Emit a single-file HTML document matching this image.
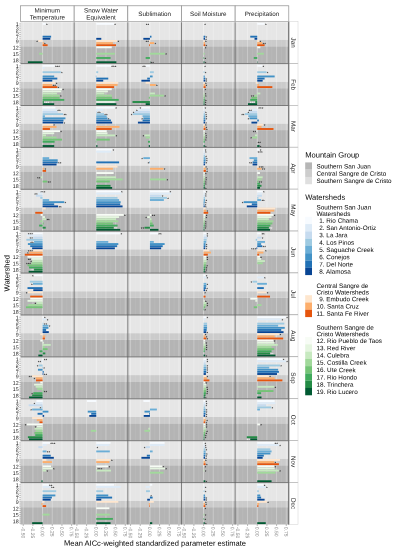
<!DOCTYPE html>
<html><head><meta charset="utf-8"><title>Figure</title>
<style>html,body{margin:0;padding:0;background:#fff}svg{display:block}</style></head>
<body>
<svg width="395" height="550" viewBox="0 0 395 550" font-family="Liberation Sans, sans-serif" text-rendering="geometricPrecision">
<rect width="395" height="550" fill="#fff"/>
<rect x="20.50" y="21.70" width="53.66" height="18.20" fill="#e6e6e6"/>
<rect x="20.50" y="39.90" width="53.66" height="6.39" fill="#cbcbcb"/>
<rect x="20.50" y="46.29" width="53.66" height="17.31" fill="#b4b4b4"/>
<line x1="28.09" x2="28.09" y1="21.70" y2="63.60" stroke="#fff" stroke-opacity="0.14" stroke-width="0.5"/>
<line x1="37.76" x2="37.76" y1="21.70" y2="63.60" stroke="#fff" stroke-opacity="0.14" stroke-width="0.5"/>
<line x1="47.44" x2="47.44" y1="21.70" y2="63.60" stroke="#fff" stroke-opacity="0.14" stroke-width="0.5"/>
<line x1="57.11" x2="57.11" y1="21.70" y2="63.60" stroke="#fff" stroke-opacity="0.14" stroke-width="0.5"/>
<line x1="66.79" x2="66.79" y1="21.70" y2="63.60" stroke="#fff" stroke-opacity="0.14" stroke-width="0.5"/>
<line x1="23.25" x2="23.25" y1="21.70" y2="63.60" stroke="#fff" stroke-opacity="0.42" stroke-width="0.7"/>
<line x1="32.92" x2="32.92" y1="21.70" y2="63.60" stroke="#fff" stroke-opacity="0.42" stroke-width="0.7"/>
<line x1="42.60" x2="42.60" y1="21.70" y2="63.60" stroke="#fff" stroke-opacity="0.6" stroke-width="0.7"/>
<line x1="52.28" x2="52.28" y1="21.70" y2="63.60" stroke="#fff" stroke-opacity="0.42" stroke-width="0.7"/>
<line x1="61.95" x2="61.95" y1="21.70" y2="63.60" stroke="#fff" stroke-opacity="0.42" stroke-width="0.7"/>
<line x1="71.62" x2="71.62" y1="21.70" y2="63.60" stroke="#fff" stroke-opacity="0.42" stroke-width="0.7"/>
<rect x="74.16" y="21.70" width="53.66" height="18.20" fill="#e6e6e6"/>
<rect x="74.16" y="39.90" width="53.66" height="6.39" fill="#cbcbcb"/>
<rect x="74.16" y="46.29" width="53.66" height="17.31" fill="#b4b4b4"/>
<line x1="81.75" x2="81.75" y1="21.70" y2="63.60" stroke="#fff" stroke-opacity="0.14" stroke-width="0.5"/>
<line x1="91.42" x2="91.42" y1="21.70" y2="63.60" stroke="#fff" stroke-opacity="0.14" stroke-width="0.5"/>
<line x1="101.10" x2="101.10" y1="21.70" y2="63.60" stroke="#fff" stroke-opacity="0.14" stroke-width="0.5"/>
<line x1="110.77" x2="110.77" y1="21.70" y2="63.60" stroke="#fff" stroke-opacity="0.14" stroke-width="0.5"/>
<line x1="120.45" x2="120.45" y1="21.70" y2="63.60" stroke="#fff" stroke-opacity="0.14" stroke-width="0.5"/>
<line x1="76.91" x2="76.91" y1="21.70" y2="63.60" stroke="#fff" stroke-opacity="0.42" stroke-width="0.7"/>
<line x1="86.58" x2="86.58" y1="21.70" y2="63.60" stroke="#fff" stroke-opacity="0.42" stroke-width="0.7"/>
<line x1="96.26" x2="96.26" y1="21.70" y2="63.60" stroke="#fff" stroke-opacity="0.6" stroke-width="0.7"/>
<line x1="105.93" x2="105.93" y1="21.70" y2="63.60" stroke="#fff" stroke-opacity="0.42" stroke-width="0.7"/>
<line x1="115.61" x2="115.61" y1="21.70" y2="63.60" stroke="#fff" stroke-opacity="0.42" stroke-width="0.7"/>
<line x1="125.28" x2="125.28" y1="21.70" y2="63.60" stroke="#fff" stroke-opacity="0.42" stroke-width="0.7"/>
<rect x="127.82" y="21.70" width="53.66" height="18.20" fill="#e6e6e6"/>
<rect x="127.82" y="39.90" width="53.66" height="6.39" fill="#cbcbcb"/>
<rect x="127.82" y="46.29" width="53.66" height="17.31" fill="#b4b4b4"/>
<line x1="135.41" x2="135.41" y1="21.70" y2="63.60" stroke="#fff" stroke-opacity="0.14" stroke-width="0.5"/>
<line x1="145.08" x2="145.08" y1="21.70" y2="63.60" stroke="#fff" stroke-opacity="0.14" stroke-width="0.5"/>
<line x1="154.76" x2="154.76" y1="21.70" y2="63.60" stroke="#fff" stroke-opacity="0.14" stroke-width="0.5"/>
<line x1="164.43" x2="164.43" y1="21.70" y2="63.60" stroke="#fff" stroke-opacity="0.14" stroke-width="0.5"/>
<line x1="174.11" x2="174.11" y1="21.70" y2="63.60" stroke="#fff" stroke-opacity="0.14" stroke-width="0.5"/>
<line x1="130.57" x2="130.57" y1="21.70" y2="63.60" stroke="#fff" stroke-opacity="0.42" stroke-width="0.7"/>
<line x1="140.24" x2="140.24" y1="21.70" y2="63.60" stroke="#fff" stroke-opacity="0.42" stroke-width="0.7"/>
<line x1="149.92" x2="149.92" y1="21.70" y2="63.60" stroke="#fff" stroke-opacity="0.6" stroke-width="0.7"/>
<line x1="159.59" x2="159.59" y1="21.70" y2="63.60" stroke="#fff" stroke-opacity="0.42" stroke-width="0.7"/>
<line x1="169.27" x2="169.27" y1="21.70" y2="63.60" stroke="#fff" stroke-opacity="0.42" stroke-width="0.7"/>
<line x1="178.94" x2="178.94" y1="21.70" y2="63.60" stroke="#fff" stroke-opacity="0.42" stroke-width="0.7"/>
<rect x="181.48" y="21.70" width="53.66" height="18.20" fill="#e6e6e6"/>
<rect x="181.48" y="39.90" width="53.66" height="6.39" fill="#cbcbcb"/>
<rect x="181.48" y="46.29" width="53.66" height="17.31" fill="#b4b4b4"/>
<line x1="189.07" x2="189.07" y1="21.70" y2="63.60" stroke="#fff" stroke-opacity="0.14" stroke-width="0.5"/>
<line x1="198.74" x2="198.74" y1="21.70" y2="63.60" stroke="#fff" stroke-opacity="0.14" stroke-width="0.5"/>
<line x1="208.42" x2="208.42" y1="21.70" y2="63.60" stroke="#fff" stroke-opacity="0.14" stroke-width="0.5"/>
<line x1="218.09" x2="218.09" y1="21.70" y2="63.60" stroke="#fff" stroke-opacity="0.14" stroke-width="0.5"/>
<line x1="227.77" x2="227.77" y1="21.70" y2="63.60" stroke="#fff" stroke-opacity="0.14" stroke-width="0.5"/>
<line x1="184.23" x2="184.23" y1="21.70" y2="63.60" stroke="#fff" stroke-opacity="0.42" stroke-width="0.7"/>
<line x1="193.90" x2="193.90" y1="21.70" y2="63.60" stroke="#fff" stroke-opacity="0.42" stroke-width="0.7"/>
<line x1="203.58" x2="203.58" y1="21.70" y2="63.60" stroke="#fff" stroke-opacity="0.6" stroke-width="0.7"/>
<line x1="213.25" x2="213.25" y1="21.70" y2="63.60" stroke="#fff" stroke-opacity="0.42" stroke-width="0.7"/>
<line x1="222.93" x2="222.93" y1="21.70" y2="63.60" stroke="#fff" stroke-opacity="0.42" stroke-width="0.7"/>
<line x1="232.60" x2="232.60" y1="21.70" y2="63.60" stroke="#fff" stroke-opacity="0.42" stroke-width="0.7"/>
<rect x="235.14" y="21.70" width="53.66" height="18.20" fill="#e6e6e6"/>
<rect x="235.14" y="39.90" width="53.66" height="6.39" fill="#cbcbcb"/>
<rect x="235.14" y="46.29" width="53.66" height="17.31" fill="#b4b4b4"/>
<line x1="242.73" x2="242.73" y1="21.70" y2="63.60" stroke="#fff" stroke-opacity="0.14" stroke-width="0.5"/>
<line x1="252.40" x2="252.40" y1="21.70" y2="63.60" stroke="#fff" stroke-opacity="0.14" stroke-width="0.5"/>
<line x1="262.08" x2="262.08" y1="21.70" y2="63.60" stroke="#fff" stroke-opacity="0.14" stroke-width="0.5"/>
<line x1="271.75" x2="271.75" y1="21.70" y2="63.60" stroke="#fff" stroke-opacity="0.14" stroke-width="0.5"/>
<line x1="281.43" x2="281.43" y1="21.70" y2="63.60" stroke="#fff" stroke-opacity="0.14" stroke-width="0.5"/>
<line x1="237.89" x2="237.89" y1="21.70" y2="63.60" stroke="#fff" stroke-opacity="0.42" stroke-width="0.7"/>
<line x1="247.56" x2="247.56" y1="21.70" y2="63.60" stroke="#fff" stroke-opacity="0.42" stroke-width="0.7"/>
<line x1="257.24" x2="257.24" y1="21.70" y2="63.60" stroke="#fff" stroke-opacity="0.6" stroke-width="0.7"/>
<line x1="266.92" x2="266.92" y1="21.70" y2="63.60" stroke="#fff" stroke-opacity="0.42" stroke-width="0.7"/>
<line x1="276.59" x2="276.59" y1="21.70" y2="63.60" stroke="#fff" stroke-opacity="0.42" stroke-width="0.7"/>
<line x1="286.26" x2="286.26" y1="21.70" y2="63.60" stroke="#fff" stroke-opacity="0.42" stroke-width="0.7"/>
<rect x="20.50" y="63.60" width="53.66" height="18.20" fill="#e6e6e6"/>
<rect x="20.50" y="81.80" width="53.66" height="6.39" fill="#cbcbcb"/>
<rect x="20.50" y="88.19" width="53.66" height="17.31" fill="#b4b4b4"/>
<line x1="28.09" x2="28.09" y1="63.60" y2="105.50" stroke="#fff" stroke-opacity="0.14" stroke-width="0.5"/>
<line x1="37.76" x2="37.76" y1="63.60" y2="105.50" stroke="#fff" stroke-opacity="0.14" stroke-width="0.5"/>
<line x1="47.44" x2="47.44" y1="63.60" y2="105.50" stroke="#fff" stroke-opacity="0.14" stroke-width="0.5"/>
<line x1="57.11" x2="57.11" y1="63.60" y2="105.50" stroke="#fff" stroke-opacity="0.14" stroke-width="0.5"/>
<line x1="66.79" x2="66.79" y1="63.60" y2="105.50" stroke="#fff" stroke-opacity="0.14" stroke-width="0.5"/>
<line x1="23.25" x2="23.25" y1="63.60" y2="105.50" stroke="#fff" stroke-opacity="0.42" stroke-width="0.7"/>
<line x1="32.92" x2="32.92" y1="63.60" y2="105.50" stroke="#fff" stroke-opacity="0.42" stroke-width="0.7"/>
<line x1="42.60" x2="42.60" y1="63.60" y2="105.50" stroke="#fff" stroke-opacity="0.6" stroke-width="0.7"/>
<line x1="52.28" x2="52.28" y1="63.60" y2="105.50" stroke="#fff" stroke-opacity="0.42" stroke-width="0.7"/>
<line x1="61.95" x2="61.95" y1="63.60" y2="105.50" stroke="#fff" stroke-opacity="0.42" stroke-width="0.7"/>
<line x1="71.62" x2="71.62" y1="63.60" y2="105.50" stroke="#fff" stroke-opacity="0.42" stroke-width="0.7"/>
<rect x="74.16" y="63.60" width="53.66" height="18.20" fill="#e6e6e6"/>
<rect x="74.16" y="81.80" width="53.66" height="6.39" fill="#cbcbcb"/>
<rect x="74.16" y="88.19" width="53.66" height="17.31" fill="#b4b4b4"/>
<line x1="81.75" x2="81.75" y1="63.60" y2="105.50" stroke="#fff" stroke-opacity="0.14" stroke-width="0.5"/>
<line x1="91.42" x2="91.42" y1="63.60" y2="105.50" stroke="#fff" stroke-opacity="0.14" stroke-width="0.5"/>
<line x1="101.10" x2="101.10" y1="63.60" y2="105.50" stroke="#fff" stroke-opacity="0.14" stroke-width="0.5"/>
<line x1="110.77" x2="110.77" y1="63.60" y2="105.50" stroke="#fff" stroke-opacity="0.14" stroke-width="0.5"/>
<line x1="120.45" x2="120.45" y1="63.60" y2="105.50" stroke="#fff" stroke-opacity="0.14" stroke-width="0.5"/>
<line x1="76.91" x2="76.91" y1="63.60" y2="105.50" stroke="#fff" stroke-opacity="0.42" stroke-width="0.7"/>
<line x1="86.58" x2="86.58" y1="63.60" y2="105.50" stroke="#fff" stroke-opacity="0.42" stroke-width="0.7"/>
<line x1="96.26" x2="96.26" y1="63.60" y2="105.50" stroke="#fff" stroke-opacity="0.6" stroke-width="0.7"/>
<line x1="105.93" x2="105.93" y1="63.60" y2="105.50" stroke="#fff" stroke-opacity="0.42" stroke-width="0.7"/>
<line x1="115.61" x2="115.61" y1="63.60" y2="105.50" stroke="#fff" stroke-opacity="0.42" stroke-width="0.7"/>
<line x1="125.28" x2="125.28" y1="63.60" y2="105.50" stroke="#fff" stroke-opacity="0.42" stroke-width="0.7"/>
<rect x="127.82" y="63.60" width="53.66" height="18.20" fill="#e6e6e6"/>
<rect x="127.82" y="81.80" width="53.66" height="6.39" fill="#cbcbcb"/>
<rect x="127.82" y="88.19" width="53.66" height="17.31" fill="#b4b4b4"/>
<line x1="135.41" x2="135.41" y1="63.60" y2="105.50" stroke="#fff" stroke-opacity="0.14" stroke-width="0.5"/>
<line x1="145.08" x2="145.08" y1="63.60" y2="105.50" stroke="#fff" stroke-opacity="0.14" stroke-width="0.5"/>
<line x1="154.76" x2="154.76" y1="63.60" y2="105.50" stroke="#fff" stroke-opacity="0.14" stroke-width="0.5"/>
<line x1="164.43" x2="164.43" y1="63.60" y2="105.50" stroke="#fff" stroke-opacity="0.14" stroke-width="0.5"/>
<line x1="174.11" x2="174.11" y1="63.60" y2="105.50" stroke="#fff" stroke-opacity="0.14" stroke-width="0.5"/>
<line x1="130.57" x2="130.57" y1="63.60" y2="105.50" stroke="#fff" stroke-opacity="0.42" stroke-width="0.7"/>
<line x1="140.24" x2="140.24" y1="63.60" y2="105.50" stroke="#fff" stroke-opacity="0.42" stroke-width="0.7"/>
<line x1="149.92" x2="149.92" y1="63.60" y2="105.50" stroke="#fff" stroke-opacity="0.6" stroke-width="0.7"/>
<line x1="159.59" x2="159.59" y1="63.60" y2="105.50" stroke="#fff" stroke-opacity="0.42" stroke-width="0.7"/>
<line x1="169.27" x2="169.27" y1="63.60" y2="105.50" stroke="#fff" stroke-opacity="0.42" stroke-width="0.7"/>
<line x1="178.94" x2="178.94" y1="63.60" y2="105.50" stroke="#fff" stroke-opacity="0.42" stroke-width="0.7"/>
<rect x="181.48" y="63.60" width="53.66" height="18.20" fill="#e6e6e6"/>
<rect x="181.48" y="81.80" width="53.66" height="6.39" fill="#cbcbcb"/>
<rect x="181.48" y="88.19" width="53.66" height="17.31" fill="#b4b4b4"/>
<line x1="189.07" x2="189.07" y1="63.60" y2="105.50" stroke="#fff" stroke-opacity="0.14" stroke-width="0.5"/>
<line x1="198.74" x2="198.74" y1="63.60" y2="105.50" stroke="#fff" stroke-opacity="0.14" stroke-width="0.5"/>
<line x1="208.42" x2="208.42" y1="63.60" y2="105.50" stroke="#fff" stroke-opacity="0.14" stroke-width="0.5"/>
<line x1="218.09" x2="218.09" y1="63.60" y2="105.50" stroke="#fff" stroke-opacity="0.14" stroke-width="0.5"/>
<line x1="227.77" x2="227.77" y1="63.60" y2="105.50" stroke="#fff" stroke-opacity="0.14" stroke-width="0.5"/>
<line x1="184.23" x2="184.23" y1="63.60" y2="105.50" stroke="#fff" stroke-opacity="0.42" stroke-width="0.7"/>
<line x1="193.90" x2="193.90" y1="63.60" y2="105.50" stroke="#fff" stroke-opacity="0.42" stroke-width="0.7"/>
<line x1="203.58" x2="203.58" y1="63.60" y2="105.50" stroke="#fff" stroke-opacity="0.6" stroke-width="0.7"/>
<line x1="213.25" x2="213.25" y1="63.60" y2="105.50" stroke="#fff" stroke-opacity="0.42" stroke-width="0.7"/>
<line x1="222.93" x2="222.93" y1="63.60" y2="105.50" stroke="#fff" stroke-opacity="0.42" stroke-width="0.7"/>
<line x1="232.60" x2="232.60" y1="63.60" y2="105.50" stroke="#fff" stroke-opacity="0.42" stroke-width="0.7"/>
<rect x="235.14" y="63.60" width="53.66" height="18.20" fill="#e6e6e6"/>
<rect x="235.14" y="81.80" width="53.66" height="6.39" fill="#cbcbcb"/>
<rect x="235.14" y="88.19" width="53.66" height="17.31" fill="#b4b4b4"/>
<line x1="242.73" x2="242.73" y1="63.60" y2="105.50" stroke="#fff" stroke-opacity="0.14" stroke-width="0.5"/>
<line x1="252.40" x2="252.40" y1="63.60" y2="105.50" stroke="#fff" stroke-opacity="0.14" stroke-width="0.5"/>
<line x1="262.08" x2="262.08" y1="63.60" y2="105.50" stroke="#fff" stroke-opacity="0.14" stroke-width="0.5"/>
<line x1="271.75" x2="271.75" y1="63.60" y2="105.50" stroke="#fff" stroke-opacity="0.14" stroke-width="0.5"/>
<line x1="281.43" x2="281.43" y1="63.60" y2="105.50" stroke="#fff" stroke-opacity="0.14" stroke-width="0.5"/>
<line x1="237.89" x2="237.89" y1="63.60" y2="105.50" stroke="#fff" stroke-opacity="0.42" stroke-width="0.7"/>
<line x1="247.56" x2="247.56" y1="63.60" y2="105.50" stroke="#fff" stroke-opacity="0.42" stroke-width="0.7"/>
<line x1="257.24" x2="257.24" y1="63.60" y2="105.50" stroke="#fff" stroke-opacity="0.6" stroke-width="0.7"/>
<line x1="266.92" x2="266.92" y1="63.60" y2="105.50" stroke="#fff" stroke-opacity="0.42" stroke-width="0.7"/>
<line x1="276.59" x2="276.59" y1="63.60" y2="105.50" stroke="#fff" stroke-opacity="0.42" stroke-width="0.7"/>
<line x1="286.26" x2="286.26" y1="63.60" y2="105.50" stroke="#fff" stroke-opacity="0.42" stroke-width="0.7"/>
<rect x="20.50" y="105.50" width="53.66" height="18.20" fill="#e6e6e6"/>
<rect x="20.50" y="123.70" width="53.66" height="6.39" fill="#cbcbcb"/>
<rect x="20.50" y="130.09" width="53.66" height="17.31" fill="#b4b4b4"/>
<line x1="28.09" x2="28.09" y1="105.50" y2="147.40" stroke="#fff" stroke-opacity="0.14" stroke-width="0.5"/>
<line x1="37.76" x2="37.76" y1="105.50" y2="147.40" stroke="#fff" stroke-opacity="0.14" stroke-width="0.5"/>
<line x1="47.44" x2="47.44" y1="105.50" y2="147.40" stroke="#fff" stroke-opacity="0.14" stroke-width="0.5"/>
<line x1="57.11" x2="57.11" y1="105.50" y2="147.40" stroke="#fff" stroke-opacity="0.14" stroke-width="0.5"/>
<line x1="66.79" x2="66.79" y1="105.50" y2="147.40" stroke="#fff" stroke-opacity="0.14" stroke-width="0.5"/>
<line x1="23.25" x2="23.25" y1="105.50" y2="147.40" stroke="#fff" stroke-opacity="0.42" stroke-width="0.7"/>
<line x1="32.92" x2="32.92" y1="105.50" y2="147.40" stroke="#fff" stroke-opacity="0.42" stroke-width="0.7"/>
<line x1="42.60" x2="42.60" y1="105.50" y2="147.40" stroke="#fff" stroke-opacity="0.6" stroke-width="0.7"/>
<line x1="52.28" x2="52.28" y1="105.50" y2="147.40" stroke="#fff" stroke-opacity="0.42" stroke-width="0.7"/>
<line x1="61.95" x2="61.95" y1="105.50" y2="147.40" stroke="#fff" stroke-opacity="0.42" stroke-width="0.7"/>
<line x1="71.62" x2="71.62" y1="105.50" y2="147.40" stroke="#fff" stroke-opacity="0.42" stroke-width="0.7"/>
<rect x="74.16" y="105.50" width="53.66" height="18.20" fill="#e6e6e6"/>
<rect x="74.16" y="123.70" width="53.66" height="6.39" fill="#cbcbcb"/>
<rect x="74.16" y="130.09" width="53.66" height="17.31" fill="#b4b4b4"/>
<line x1="81.75" x2="81.75" y1="105.50" y2="147.40" stroke="#fff" stroke-opacity="0.14" stroke-width="0.5"/>
<line x1="91.42" x2="91.42" y1="105.50" y2="147.40" stroke="#fff" stroke-opacity="0.14" stroke-width="0.5"/>
<line x1="101.10" x2="101.10" y1="105.50" y2="147.40" stroke="#fff" stroke-opacity="0.14" stroke-width="0.5"/>
<line x1="110.77" x2="110.77" y1="105.50" y2="147.40" stroke="#fff" stroke-opacity="0.14" stroke-width="0.5"/>
<line x1="120.45" x2="120.45" y1="105.50" y2="147.40" stroke="#fff" stroke-opacity="0.14" stroke-width="0.5"/>
<line x1="76.91" x2="76.91" y1="105.50" y2="147.40" stroke="#fff" stroke-opacity="0.42" stroke-width="0.7"/>
<line x1="86.58" x2="86.58" y1="105.50" y2="147.40" stroke="#fff" stroke-opacity="0.42" stroke-width="0.7"/>
<line x1="96.26" x2="96.26" y1="105.50" y2="147.40" stroke="#fff" stroke-opacity="0.6" stroke-width="0.7"/>
<line x1="105.93" x2="105.93" y1="105.50" y2="147.40" stroke="#fff" stroke-opacity="0.42" stroke-width="0.7"/>
<line x1="115.61" x2="115.61" y1="105.50" y2="147.40" stroke="#fff" stroke-opacity="0.42" stroke-width="0.7"/>
<line x1="125.28" x2="125.28" y1="105.50" y2="147.40" stroke="#fff" stroke-opacity="0.42" stroke-width="0.7"/>
<rect x="127.82" y="105.50" width="53.66" height="18.20" fill="#e6e6e6"/>
<rect x="127.82" y="123.70" width="53.66" height="6.39" fill="#cbcbcb"/>
<rect x="127.82" y="130.09" width="53.66" height="17.31" fill="#b4b4b4"/>
<line x1="135.41" x2="135.41" y1="105.50" y2="147.40" stroke="#fff" stroke-opacity="0.14" stroke-width="0.5"/>
<line x1="145.08" x2="145.08" y1="105.50" y2="147.40" stroke="#fff" stroke-opacity="0.14" stroke-width="0.5"/>
<line x1="154.76" x2="154.76" y1="105.50" y2="147.40" stroke="#fff" stroke-opacity="0.14" stroke-width="0.5"/>
<line x1="164.43" x2="164.43" y1="105.50" y2="147.40" stroke="#fff" stroke-opacity="0.14" stroke-width="0.5"/>
<line x1="174.11" x2="174.11" y1="105.50" y2="147.40" stroke="#fff" stroke-opacity="0.14" stroke-width="0.5"/>
<line x1="130.57" x2="130.57" y1="105.50" y2="147.40" stroke="#fff" stroke-opacity="0.42" stroke-width="0.7"/>
<line x1="140.24" x2="140.24" y1="105.50" y2="147.40" stroke="#fff" stroke-opacity="0.42" stroke-width="0.7"/>
<line x1="149.92" x2="149.92" y1="105.50" y2="147.40" stroke="#fff" stroke-opacity="0.6" stroke-width="0.7"/>
<line x1="159.59" x2="159.59" y1="105.50" y2="147.40" stroke="#fff" stroke-opacity="0.42" stroke-width="0.7"/>
<line x1="169.27" x2="169.27" y1="105.50" y2="147.40" stroke="#fff" stroke-opacity="0.42" stroke-width="0.7"/>
<line x1="178.94" x2="178.94" y1="105.50" y2="147.40" stroke="#fff" stroke-opacity="0.42" stroke-width="0.7"/>
<rect x="181.48" y="105.50" width="53.66" height="18.20" fill="#e6e6e6"/>
<rect x="181.48" y="123.70" width="53.66" height="6.39" fill="#cbcbcb"/>
<rect x="181.48" y="130.09" width="53.66" height="17.31" fill="#b4b4b4"/>
<line x1="189.07" x2="189.07" y1="105.50" y2="147.40" stroke="#fff" stroke-opacity="0.14" stroke-width="0.5"/>
<line x1="198.74" x2="198.74" y1="105.50" y2="147.40" stroke="#fff" stroke-opacity="0.14" stroke-width="0.5"/>
<line x1="208.42" x2="208.42" y1="105.50" y2="147.40" stroke="#fff" stroke-opacity="0.14" stroke-width="0.5"/>
<line x1="218.09" x2="218.09" y1="105.50" y2="147.40" stroke="#fff" stroke-opacity="0.14" stroke-width="0.5"/>
<line x1="227.77" x2="227.77" y1="105.50" y2="147.40" stroke="#fff" stroke-opacity="0.14" stroke-width="0.5"/>
<line x1="184.23" x2="184.23" y1="105.50" y2="147.40" stroke="#fff" stroke-opacity="0.42" stroke-width="0.7"/>
<line x1="193.90" x2="193.90" y1="105.50" y2="147.40" stroke="#fff" stroke-opacity="0.42" stroke-width="0.7"/>
<line x1="203.58" x2="203.58" y1="105.50" y2="147.40" stroke="#fff" stroke-opacity="0.6" stroke-width="0.7"/>
<line x1="213.25" x2="213.25" y1="105.50" y2="147.40" stroke="#fff" stroke-opacity="0.42" stroke-width="0.7"/>
<line x1="222.93" x2="222.93" y1="105.50" y2="147.40" stroke="#fff" stroke-opacity="0.42" stroke-width="0.7"/>
<line x1="232.60" x2="232.60" y1="105.50" y2="147.40" stroke="#fff" stroke-opacity="0.42" stroke-width="0.7"/>
<rect x="235.14" y="105.50" width="53.66" height="18.20" fill="#e6e6e6"/>
<rect x="235.14" y="123.70" width="53.66" height="6.39" fill="#cbcbcb"/>
<rect x="235.14" y="130.09" width="53.66" height="17.31" fill="#b4b4b4"/>
<line x1="242.73" x2="242.73" y1="105.50" y2="147.40" stroke="#fff" stroke-opacity="0.14" stroke-width="0.5"/>
<line x1="252.40" x2="252.40" y1="105.50" y2="147.40" stroke="#fff" stroke-opacity="0.14" stroke-width="0.5"/>
<line x1="262.08" x2="262.08" y1="105.50" y2="147.40" stroke="#fff" stroke-opacity="0.14" stroke-width="0.5"/>
<line x1="271.75" x2="271.75" y1="105.50" y2="147.40" stroke="#fff" stroke-opacity="0.14" stroke-width="0.5"/>
<line x1="281.43" x2="281.43" y1="105.50" y2="147.40" stroke="#fff" stroke-opacity="0.14" stroke-width="0.5"/>
<line x1="237.89" x2="237.89" y1="105.50" y2="147.40" stroke="#fff" stroke-opacity="0.42" stroke-width="0.7"/>
<line x1="247.56" x2="247.56" y1="105.50" y2="147.40" stroke="#fff" stroke-opacity="0.42" stroke-width="0.7"/>
<line x1="257.24" x2="257.24" y1="105.50" y2="147.40" stroke="#fff" stroke-opacity="0.6" stroke-width="0.7"/>
<line x1="266.92" x2="266.92" y1="105.50" y2="147.40" stroke="#fff" stroke-opacity="0.42" stroke-width="0.7"/>
<line x1="276.59" x2="276.59" y1="105.50" y2="147.40" stroke="#fff" stroke-opacity="0.42" stroke-width="0.7"/>
<line x1="286.26" x2="286.26" y1="105.50" y2="147.40" stroke="#fff" stroke-opacity="0.42" stroke-width="0.7"/>
<rect x="20.50" y="147.40" width="53.66" height="18.20" fill="#e6e6e6"/>
<rect x="20.50" y="165.60" width="53.66" height="6.39" fill="#cbcbcb"/>
<rect x="20.50" y="171.99" width="53.66" height="17.31" fill="#b4b4b4"/>
<line x1="28.09" x2="28.09" y1="147.40" y2="189.30" stroke="#fff" stroke-opacity="0.14" stroke-width="0.5"/>
<line x1="37.76" x2="37.76" y1="147.40" y2="189.30" stroke="#fff" stroke-opacity="0.14" stroke-width="0.5"/>
<line x1="47.44" x2="47.44" y1="147.40" y2="189.30" stroke="#fff" stroke-opacity="0.14" stroke-width="0.5"/>
<line x1="57.11" x2="57.11" y1="147.40" y2="189.30" stroke="#fff" stroke-opacity="0.14" stroke-width="0.5"/>
<line x1="66.79" x2="66.79" y1="147.40" y2="189.30" stroke="#fff" stroke-opacity="0.14" stroke-width="0.5"/>
<line x1="23.25" x2="23.25" y1="147.40" y2="189.30" stroke="#fff" stroke-opacity="0.42" stroke-width="0.7"/>
<line x1="32.92" x2="32.92" y1="147.40" y2="189.30" stroke="#fff" stroke-opacity="0.42" stroke-width="0.7"/>
<line x1="42.60" x2="42.60" y1="147.40" y2="189.30" stroke="#fff" stroke-opacity="0.6" stroke-width="0.7"/>
<line x1="52.28" x2="52.28" y1="147.40" y2="189.30" stroke="#fff" stroke-opacity="0.42" stroke-width="0.7"/>
<line x1="61.95" x2="61.95" y1="147.40" y2="189.30" stroke="#fff" stroke-opacity="0.42" stroke-width="0.7"/>
<line x1="71.62" x2="71.62" y1="147.40" y2="189.30" stroke="#fff" stroke-opacity="0.42" stroke-width="0.7"/>
<rect x="74.16" y="147.40" width="53.66" height="18.20" fill="#e6e6e6"/>
<rect x="74.16" y="165.60" width="53.66" height="6.39" fill="#cbcbcb"/>
<rect x="74.16" y="171.99" width="53.66" height="17.31" fill="#b4b4b4"/>
<line x1="81.75" x2="81.75" y1="147.40" y2="189.30" stroke="#fff" stroke-opacity="0.14" stroke-width="0.5"/>
<line x1="91.42" x2="91.42" y1="147.40" y2="189.30" stroke="#fff" stroke-opacity="0.14" stroke-width="0.5"/>
<line x1="101.10" x2="101.10" y1="147.40" y2="189.30" stroke="#fff" stroke-opacity="0.14" stroke-width="0.5"/>
<line x1="110.77" x2="110.77" y1="147.40" y2="189.30" stroke="#fff" stroke-opacity="0.14" stroke-width="0.5"/>
<line x1="120.45" x2="120.45" y1="147.40" y2="189.30" stroke="#fff" stroke-opacity="0.14" stroke-width="0.5"/>
<line x1="76.91" x2="76.91" y1="147.40" y2="189.30" stroke="#fff" stroke-opacity="0.42" stroke-width="0.7"/>
<line x1="86.58" x2="86.58" y1="147.40" y2="189.30" stroke="#fff" stroke-opacity="0.42" stroke-width="0.7"/>
<line x1="96.26" x2="96.26" y1="147.40" y2="189.30" stroke="#fff" stroke-opacity="0.6" stroke-width="0.7"/>
<line x1="105.93" x2="105.93" y1="147.40" y2="189.30" stroke="#fff" stroke-opacity="0.42" stroke-width="0.7"/>
<line x1="115.61" x2="115.61" y1="147.40" y2="189.30" stroke="#fff" stroke-opacity="0.42" stroke-width="0.7"/>
<line x1="125.28" x2="125.28" y1="147.40" y2="189.30" stroke="#fff" stroke-opacity="0.42" stroke-width="0.7"/>
<rect x="127.82" y="147.40" width="53.66" height="18.20" fill="#e6e6e6"/>
<rect x="127.82" y="165.60" width="53.66" height="6.39" fill="#cbcbcb"/>
<rect x="127.82" y="171.99" width="53.66" height="17.31" fill="#b4b4b4"/>
<line x1="135.41" x2="135.41" y1="147.40" y2="189.30" stroke="#fff" stroke-opacity="0.14" stroke-width="0.5"/>
<line x1="145.08" x2="145.08" y1="147.40" y2="189.30" stroke="#fff" stroke-opacity="0.14" stroke-width="0.5"/>
<line x1="154.76" x2="154.76" y1="147.40" y2="189.30" stroke="#fff" stroke-opacity="0.14" stroke-width="0.5"/>
<line x1="164.43" x2="164.43" y1="147.40" y2="189.30" stroke="#fff" stroke-opacity="0.14" stroke-width="0.5"/>
<line x1="174.11" x2="174.11" y1="147.40" y2="189.30" stroke="#fff" stroke-opacity="0.14" stroke-width="0.5"/>
<line x1="130.57" x2="130.57" y1="147.40" y2="189.30" stroke="#fff" stroke-opacity="0.42" stroke-width="0.7"/>
<line x1="140.24" x2="140.24" y1="147.40" y2="189.30" stroke="#fff" stroke-opacity="0.42" stroke-width="0.7"/>
<line x1="149.92" x2="149.92" y1="147.40" y2="189.30" stroke="#fff" stroke-opacity="0.6" stroke-width="0.7"/>
<line x1="159.59" x2="159.59" y1="147.40" y2="189.30" stroke="#fff" stroke-opacity="0.42" stroke-width="0.7"/>
<line x1="169.27" x2="169.27" y1="147.40" y2="189.30" stroke="#fff" stroke-opacity="0.42" stroke-width="0.7"/>
<line x1="178.94" x2="178.94" y1="147.40" y2="189.30" stroke="#fff" stroke-opacity="0.42" stroke-width="0.7"/>
<rect x="181.48" y="147.40" width="53.66" height="18.20" fill="#e6e6e6"/>
<rect x="181.48" y="165.60" width="53.66" height="6.39" fill="#cbcbcb"/>
<rect x="181.48" y="171.99" width="53.66" height="17.31" fill="#b4b4b4"/>
<line x1="189.07" x2="189.07" y1="147.40" y2="189.30" stroke="#fff" stroke-opacity="0.14" stroke-width="0.5"/>
<line x1="198.74" x2="198.74" y1="147.40" y2="189.30" stroke="#fff" stroke-opacity="0.14" stroke-width="0.5"/>
<line x1="208.42" x2="208.42" y1="147.40" y2="189.30" stroke="#fff" stroke-opacity="0.14" stroke-width="0.5"/>
<line x1="218.09" x2="218.09" y1="147.40" y2="189.30" stroke="#fff" stroke-opacity="0.14" stroke-width="0.5"/>
<line x1="227.77" x2="227.77" y1="147.40" y2="189.30" stroke="#fff" stroke-opacity="0.14" stroke-width="0.5"/>
<line x1="184.23" x2="184.23" y1="147.40" y2="189.30" stroke="#fff" stroke-opacity="0.42" stroke-width="0.7"/>
<line x1="193.90" x2="193.90" y1="147.40" y2="189.30" stroke="#fff" stroke-opacity="0.42" stroke-width="0.7"/>
<line x1="203.58" x2="203.58" y1="147.40" y2="189.30" stroke="#fff" stroke-opacity="0.6" stroke-width="0.7"/>
<line x1="213.25" x2="213.25" y1="147.40" y2="189.30" stroke="#fff" stroke-opacity="0.42" stroke-width="0.7"/>
<line x1="222.93" x2="222.93" y1="147.40" y2="189.30" stroke="#fff" stroke-opacity="0.42" stroke-width="0.7"/>
<line x1="232.60" x2="232.60" y1="147.40" y2="189.30" stroke="#fff" stroke-opacity="0.42" stroke-width="0.7"/>
<rect x="235.14" y="147.40" width="53.66" height="18.20" fill="#e6e6e6"/>
<rect x="235.14" y="165.60" width="53.66" height="6.39" fill="#cbcbcb"/>
<rect x="235.14" y="171.99" width="53.66" height="17.31" fill="#b4b4b4"/>
<line x1="242.73" x2="242.73" y1="147.40" y2="189.30" stroke="#fff" stroke-opacity="0.14" stroke-width="0.5"/>
<line x1="252.40" x2="252.40" y1="147.40" y2="189.30" stroke="#fff" stroke-opacity="0.14" stroke-width="0.5"/>
<line x1="262.08" x2="262.08" y1="147.40" y2="189.30" stroke="#fff" stroke-opacity="0.14" stroke-width="0.5"/>
<line x1="271.75" x2="271.75" y1="147.40" y2="189.30" stroke="#fff" stroke-opacity="0.14" stroke-width="0.5"/>
<line x1="281.43" x2="281.43" y1="147.40" y2="189.30" stroke="#fff" stroke-opacity="0.14" stroke-width="0.5"/>
<line x1="237.89" x2="237.89" y1="147.40" y2="189.30" stroke="#fff" stroke-opacity="0.42" stroke-width="0.7"/>
<line x1="247.56" x2="247.56" y1="147.40" y2="189.30" stroke="#fff" stroke-opacity="0.42" stroke-width="0.7"/>
<line x1="257.24" x2="257.24" y1="147.40" y2="189.30" stroke="#fff" stroke-opacity="0.6" stroke-width="0.7"/>
<line x1="266.92" x2="266.92" y1="147.40" y2="189.30" stroke="#fff" stroke-opacity="0.42" stroke-width="0.7"/>
<line x1="276.59" x2="276.59" y1="147.40" y2="189.30" stroke="#fff" stroke-opacity="0.42" stroke-width="0.7"/>
<line x1="286.26" x2="286.26" y1="147.40" y2="189.30" stroke="#fff" stroke-opacity="0.42" stroke-width="0.7"/>
<rect x="20.50" y="189.30" width="53.66" height="18.20" fill="#e6e6e6"/>
<rect x="20.50" y="207.50" width="53.66" height="6.39" fill="#cbcbcb"/>
<rect x="20.50" y="213.89" width="53.66" height="17.31" fill="#b4b4b4"/>
<line x1="28.09" x2="28.09" y1="189.30" y2="231.20" stroke="#fff" stroke-opacity="0.14" stroke-width="0.5"/>
<line x1="37.76" x2="37.76" y1="189.30" y2="231.20" stroke="#fff" stroke-opacity="0.14" stroke-width="0.5"/>
<line x1="47.44" x2="47.44" y1="189.30" y2="231.20" stroke="#fff" stroke-opacity="0.14" stroke-width="0.5"/>
<line x1="57.11" x2="57.11" y1="189.30" y2="231.20" stroke="#fff" stroke-opacity="0.14" stroke-width="0.5"/>
<line x1="66.79" x2="66.79" y1="189.30" y2="231.20" stroke="#fff" stroke-opacity="0.14" stroke-width="0.5"/>
<line x1="23.25" x2="23.25" y1="189.30" y2="231.20" stroke="#fff" stroke-opacity="0.42" stroke-width="0.7"/>
<line x1="32.92" x2="32.92" y1="189.30" y2="231.20" stroke="#fff" stroke-opacity="0.42" stroke-width="0.7"/>
<line x1="42.60" x2="42.60" y1="189.30" y2="231.20" stroke="#fff" stroke-opacity="0.6" stroke-width="0.7"/>
<line x1="52.28" x2="52.28" y1="189.30" y2="231.20" stroke="#fff" stroke-opacity="0.42" stroke-width="0.7"/>
<line x1="61.95" x2="61.95" y1="189.30" y2="231.20" stroke="#fff" stroke-opacity="0.42" stroke-width="0.7"/>
<line x1="71.62" x2="71.62" y1="189.30" y2="231.20" stroke="#fff" stroke-opacity="0.42" stroke-width="0.7"/>
<rect x="74.16" y="189.30" width="53.66" height="18.20" fill="#e6e6e6"/>
<rect x="74.16" y="207.50" width="53.66" height="6.39" fill="#cbcbcb"/>
<rect x="74.16" y="213.89" width="53.66" height="17.31" fill="#b4b4b4"/>
<line x1="81.75" x2="81.75" y1="189.30" y2="231.20" stroke="#fff" stroke-opacity="0.14" stroke-width="0.5"/>
<line x1="91.42" x2="91.42" y1="189.30" y2="231.20" stroke="#fff" stroke-opacity="0.14" stroke-width="0.5"/>
<line x1="101.10" x2="101.10" y1="189.30" y2="231.20" stroke="#fff" stroke-opacity="0.14" stroke-width="0.5"/>
<line x1="110.77" x2="110.77" y1="189.30" y2="231.20" stroke="#fff" stroke-opacity="0.14" stroke-width="0.5"/>
<line x1="120.45" x2="120.45" y1="189.30" y2="231.20" stroke="#fff" stroke-opacity="0.14" stroke-width="0.5"/>
<line x1="76.91" x2="76.91" y1="189.30" y2="231.20" stroke="#fff" stroke-opacity="0.42" stroke-width="0.7"/>
<line x1="86.58" x2="86.58" y1="189.30" y2="231.20" stroke="#fff" stroke-opacity="0.42" stroke-width="0.7"/>
<line x1="96.26" x2="96.26" y1="189.30" y2="231.20" stroke="#fff" stroke-opacity="0.6" stroke-width="0.7"/>
<line x1="105.93" x2="105.93" y1="189.30" y2="231.20" stroke="#fff" stroke-opacity="0.42" stroke-width="0.7"/>
<line x1="115.61" x2="115.61" y1="189.30" y2="231.20" stroke="#fff" stroke-opacity="0.42" stroke-width="0.7"/>
<line x1="125.28" x2="125.28" y1="189.30" y2="231.20" stroke="#fff" stroke-opacity="0.42" stroke-width="0.7"/>
<rect x="127.82" y="189.30" width="53.66" height="18.20" fill="#e6e6e6"/>
<rect x="127.82" y="207.50" width="53.66" height="6.39" fill="#cbcbcb"/>
<rect x="127.82" y="213.89" width="53.66" height="17.31" fill="#b4b4b4"/>
<line x1="135.41" x2="135.41" y1="189.30" y2="231.20" stroke="#fff" stroke-opacity="0.14" stroke-width="0.5"/>
<line x1="145.08" x2="145.08" y1="189.30" y2="231.20" stroke="#fff" stroke-opacity="0.14" stroke-width="0.5"/>
<line x1="154.76" x2="154.76" y1="189.30" y2="231.20" stroke="#fff" stroke-opacity="0.14" stroke-width="0.5"/>
<line x1="164.43" x2="164.43" y1="189.30" y2="231.20" stroke="#fff" stroke-opacity="0.14" stroke-width="0.5"/>
<line x1="174.11" x2="174.11" y1="189.30" y2="231.20" stroke="#fff" stroke-opacity="0.14" stroke-width="0.5"/>
<line x1="130.57" x2="130.57" y1="189.30" y2="231.20" stroke="#fff" stroke-opacity="0.42" stroke-width="0.7"/>
<line x1="140.24" x2="140.24" y1="189.30" y2="231.20" stroke="#fff" stroke-opacity="0.42" stroke-width="0.7"/>
<line x1="149.92" x2="149.92" y1="189.30" y2="231.20" stroke="#fff" stroke-opacity="0.6" stroke-width="0.7"/>
<line x1="159.59" x2="159.59" y1="189.30" y2="231.20" stroke="#fff" stroke-opacity="0.42" stroke-width="0.7"/>
<line x1="169.27" x2="169.27" y1="189.30" y2="231.20" stroke="#fff" stroke-opacity="0.42" stroke-width="0.7"/>
<line x1="178.94" x2="178.94" y1="189.30" y2="231.20" stroke="#fff" stroke-opacity="0.42" stroke-width="0.7"/>
<rect x="181.48" y="189.30" width="53.66" height="18.20" fill="#e6e6e6"/>
<rect x="181.48" y="207.50" width="53.66" height="6.39" fill="#cbcbcb"/>
<rect x="181.48" y="213.89" width="53.66" height="17.31" fill="#b4b4b4"/>
<line x1="189.07" x2="189.07" y1="189.30" y2="231.20" stroke="#fff" stroke-opacity="0.14" stroke-width="0.5"/>
<line x1="198.74" x2="198.74" y1="189.30" y2="231.20" stroke="#fff" stroke-opacity="0.14" stroke-width="0.5"/>
<line x1="208.42" x2="208.42" y1="189.30" y2="231.20" stroke="#fff" stroke-opacity="0.14" stroke-width="0.5"/>
<line x1="218.09" x2="218.09" y1="189.30" y2="231.20" stroke="#fff" stroke-opacity="0.14" stroke-width="0.5"/>
<line x1="227.77" x2="227.77" y1="189.30" y2="231.20" stroke="#fff" stroke-opacity="0.14" stroke-width="0.5"/>
<line x1="184.23" x2="184.23" y1="189.30" y2="231.20" stroke="#fff" stroke-opacity="0.42" stroke-width="0.7"/>
<line x1="193.90" x2="193.90" y1="189.30" y2="231.20" stroke="#fff" stroke-opacity="0.42" stroke-width="0.7"/>
<line x1="203.58" x2="203.58" y1="189.30" y2="231.20" stroke="#fff" stroke-opacity="0.6" stroke-width="0.7"/>
<line x1="213.25" x2="213.25" y1="189.30" y2="231.20" stroke="#fff" stroke-opacity="0.42" stroke-width="0.7"/>
<line x1="222.93" x2="222.93" y1="189.30" y2="231.20" stroke="#fff" stroke-opacity="0.42" stroke-width="0.7"/>
<line x1="232.60" x2="232.60" y1="189.30" y2="231.20" stroke="#fff" stroke-opacity="0.42" stroke-width="0.7"/>
<rect x="235.14" y="189.30" width="53.66" height="18.20" fill="#e6e6e6"/>
<rect x="235.14" y="207.50" width="53.66" height="6.39" fill="#cbcbcb"/>
<rect x="235.14" y="213.89" width="53.66" height="17.31" fill="#b4b4b4"/>
<line x1="242.73" x2="242.73" y1="189.30" y2="231.20" stroke="#fff" stroke-opacity="0.14" stroke-width="0.5"/>
<line x1="252.40" x2="252.40" y1="189.30" y2="231.20" stroke="#fff" stroke-opacity="0.14" stroke-width="0.5"/>
<line x1="262.08" x2="262.08" y1="189.30" y2="231.20" stroke="#fff" stroke-opacity="0.14" stroke-width="0.5"/>
<line x1="271.75" x2="271.75" y1="189.30" y2="231.20" stroke="#fff" stroke-opacity="0.14" stroke-width="0.5"/>
<line x1="281.43" x2="281.43" y1="189.30" y2="231.20" stroke="#fff" stroke-opacity="0.14" stroke-width="0.5"/>
<line x1="237.89" x2="237.89" y1="189.30" y2="231.20" stroke="#fff" stroke-opacity="0.42" stroke-width="0.7"/>
<line x1="247.56" x2="247.56" y1="189.30" y2="231.20" stroke="#fff" stroke-opacity="0.42" stroke-width="0.7"/>
<line x1="257.24" x2="257.24" y1="189.30" y2="231.20" stroke="#fff" stroke-opacity="0.6" stroke-width="0.7"/>
<line x1="266.92" x2="266.92" y1="189.30" y2="231.20" stroke="#fff" stroke-opacity="0.42" stroke-width="0.7"/>
<line x1="276.59" x2="276.59" y1="189.30" y2="231.20" stroke="#fff" stroke-opacity="0.42" stroke-width="0.7"/>
<line x1="286.26" x2="286.26" y1="189.30" y2="231.20" stroke="#fff" stroke-opacity="0.42" stroke-width="0.7"/>
<rect x="20.50" y="231.20" width="53.66" height="18.20" fill="#e6e6e6"/>
<rect x="20.50" y="249.40" width="53.66" height="6.39" fill="#cbcbcb"/>
<rect x="20.50" y="255.79" width="53.66" height="17.31" fill="#b4b4b4"/>
<line x1="28.09" x2="28.09" y1="231.20" y2="273.10" stroke="#fff" stroke-opacity="0.14" stroke-width="0.5"/>
<line x1="37.76" x2="37.76" y1="231.20" y2="273.10" stroke="#fff" stroke-opacity="0.14" stroke-width="0.5"/>
<line x1="47.44" x2="47.44" y1="231.20" y2="273.10" stroke="#fff" stroke-opacity="0.14" stroke-width="0.5"/>
<line x1="57.11" x2="57.11" y1="231.20" y2="273.10" stroke="#fff" stroke-opacity="0.14" stroke-width="0.5"/>
<line x1="66.79" x2="66.79" y1="231.20" y2="273.10" stroke="#fff" stroke-opacity="0.14" stroke-width="0.5"/>
<line x1="23.25" x2="23.25" y1="231.20" y2="273.10" stroke="#fff" stroke-opacity="0.42" stroke-width="0.7"/>
<line x1="32.92" x2="32.92" y1="231.20" y2="273.10" stroke="#fff" stroke-opacity="0.42" stroke-width="0.7"/>
<line x1="42.60" x2="42.60" y1="231.20" y2="273.10" stroke="#fff" stroke-opacity="0.6" stroke-width="0.7"/>
<line x1="52.28" x2="52.28" y1="231.20" y2="273.10" stroke="#fff" stroke-opacity="0.42" stroke-width="0.7"/>
<line x1="61.95" x2="61.95" y1="231.20" y2="273.10" stroke="#fff" stroke-opacity="0.42" stroke-width="0.7"/>
<line x1="71.62" x2="71.62" y1="231.20" y2="273.10" stroke="#fff" stroke-opacity="0.42" stroke-width="0.7"/>
<rect x="74.16" y="231.20" width="53.66" height="18.20" fill="#e6e6e6"/>
<rect x="74.16" y="249.40" width="53.66" height="6.39" fill="#cbcbcb"/>
<rect x="74.16" y="255.79" width="53.66" height="17.31" fill="#b4b4b4"/>
<line x1="81.75" x2="81.75" y1="231.20" y2="273.10" stroke="#fff" stroke-opacity="0.14" stroke-width="0.5"/>
<line x1="91.42" x2="91.42" y1="231.20" y2="273.10" stroke="#fff" stroke-opacity="0.14" stroke-width="0.5"/>
<line x1="101.10" x2="101.10" y1="231.20" y2="273.10" stroke="#fff" stroke-opacity="0.14" stroke-width="0.5"/>
<line x1="110.77" x2="110.77" y1="231.20" y2="273.10" stroke="#fff" stroke-opacity="0.14" stroke-width="0.5"/>
<line x1="120.45" x2="120.45" y1="231.20" y2="273.10" stroke="#fff" stroke-opacity="0.14" stroke-width="0.5"/>
<line x1="76.91" x2="76.91" y1="231.20" y2="273.10" stroke="#fff" stroke-opacity="0.42" stroke-width="0.7"/>
<line x1="86.58" x2="86.58" y1="231.20" y2="273.10" stroke="#fff" stroke-opacity="0.42" stroke-width="0.7"/>
<line x1="96.26" x2="96.26" y1="231.20" y2="273.10" stroke="#fff" stroke-opacity="0.6" stroke-width="0.7"/>
<line x1="105.93" x2="105.93" y1="231.20" y2="273.10" stroke="#fff" stroke-opacity="0.42" stroke-width="0.7"/>
<line x1="115.61" x2="115.61" y1="231.20" y2="273.10" stroke="#fff" stroke-opacity="0.42" stroke-width="0.7"/>
<line x1="125.28" x2="125.28" y1="231.20" y2="273.10" stroke="#fff" stroke-opacity="0.42" stroke-width="0.7"/>
<rect x="127.82" y="231.20" width="53.66" height="18.20" fill="#e6e6e6"/>
<rect x="127.82" y="249.40" width="53.66" height="6.39" fill="#cbcbcb"/>
<rect x="127.82" y="255.79" width="53.66" height="17.31" fill="#b4b4b4"/>
<line x1="135.41" x2="135.41" y1="231.20" y2="273.10" stroke="#fff" stroke-opacity="0.14" stroke-width="0.5"/>
<line x1="145.08" x2="145.08" y1="231.20" y2="273.10" stroke="#fff" stroke-opacity="0.14" stroke-width="0.5"/>
<line x1="154.76" x2="154.76" y1="231.20" y2="273.10" stroke="#fff" stroke-opacity="0.14" stroke-width="0.5"/>
<line x1="164.43" x2="164.43" y1="231.20" y2="273.10" stroke="#fff" stroke-opacity="0.14" stroke-width="0.5"/>
<line x1="174.11" x2="174.11" y1="231.20" y2="273.10" stroke="#fff" stroke-opacity="0.14" stroke-width="0.5"/>
<line x1="130.57" x2="130.57" y1="231.20" y2="273.10" stroke="#fff" stroke-opacity="0.42" stroke-width="0.7"/>
<line x1="140.24" x2="140.24" y1="231.20" y2="273.10" stroke="#fff" stroke-opacity="0.42" stroke-width="0.7"/>
<line x1="149.92" x2="149.92" y1="231.20" y2="273.10" stroke="#fff" stroke-opacity="0.6" stroke-width="0.7"/>
<line x1="159.59" x2="159.59" y1="231.20" y2="273.10" stroke="#fff" stroke-opacity="0.42" stroke-width="0.7"/>
<line x1="169.27" x2="169.27" y1="231.20" y2="273.10" stroke="#fff" stroke-opacity="0.42" stroke-width="0.7"/>
<line x1="178.94" x2="178.94" y1="231.20" y2="273.10" stroke="#fff" stroke-opacity="0.42" stroke-width="0.7"/>
<rect x="181.48" y="231.20" width="53.66" height="18.20" fill="#e6e6e6"/>
<rect x="181.48" y="249.40" width="53.66" height="6.39" fill="#cbcbcb"/>
<rect x="181.48" y="255.79" width="53.66" height="17.31" fill="#b4b4b4"/>
<line x1="189.07" x2="189.07" y1="231.20" y2="273.10" stroke="#fff" stroke-opacity="0.14" stroke-width="0.5"/>
<line x1="198.74" x2="198.74" y1="231.20" y2="273.10" stroke="#fff" stroke-opacity="0.14" stroke-width="0.5"/>
<line x1="208.42" x2="208.42" y1="231.20" y2="273.10" stroke="#fff" stroke-opacity="0.14" stroke-width="0.5"/>
<line x1="218.09" x2="218.09" y1="231.20" y2="273.10" stroke="#fff" stroke-opacity="0.14" stroke-width="0.5"/>
<line x1="227.77" x2="227.77" y1="231.20" y2="273.10" stroke="#fff" stroke-opacity="0.14" stroke-width="0.5"/>
<line x1="184.23" x2="184.23" y1="231.20" y2="273.10" stroke="#fff" stroke-opacity="0.42" stroke-width="0.7"/>
<line x1="193.90" x2="193.90" y1="231.20" y2="273.10" stroke="#fff" stroke-opacity="0.42" stroke-width="0.7"/>
<line x1="203.58" x2="203.58" y1="231.20" y2="273.10" stroke="#fff" stroke-opacity="0.6" stroke-width="0.7"/>
<line x1="213.25" x2="213.25" y1="231.20" y2="273.10" stroke="#fff" stroke-opacity="0.42" stroke-width="0.7"/>
<line x1="222.93" x2="222.93" y1="231.20" y2="273.10" stroke="#fff" stroke-opacity="0.42" stroke-width="0.7"/>
<line x1="232.60" x2="232.60" y1="231.20" y2="273.10" stroke="#fff" stroke-opacity="0.42" stroke-width="0.7"/>
<rect x="235.14" y="231.20" width="53.66" height="18.20" fill="#e6e6e6"/>
<rect x="235.14" y="249.40" width="53.66" height="6.39" fill="#cbcbcb"/>
<rect x="235.14" y="255.79" width="53.66" height="17.31" fill="#b4b4b4"/>
<line x1="242.73" x2="242.73" y1="231.20" y2="273.10" stroke="#fff" stroke-opacity="0.14" stroke-width="0.5"/>
<line x1="252.40" x2="252.40" y1="231.20" y2="273.10" stroke="#fff" stroke-opacity="0.14" stroke-width="0.5"/>
<line x1="262.08" x2="262.08" y1="231.20" y2="273.10" stroke="#fff" stroke-opacity="0.14" stroke-width="0.5"/>
<line x1="271.75" x2="271.75" y1="231.20" y2="273.10" stroke="#fff" stroke-opacity="0.14" stroke-width="0.5"/>
<line x1="281.43" x2="281.43" y1="231.20" y2="273.10" stroke="#fff" stroke-opacity="0.14" stroke-width="0.5"/>
<line x1="237.89" x2="237.89" y1="231.20" y2="273.10" stroke="#fff" stroke-opacity="0.42" stroke-width="0.7"/>
<line x1="247.56" x2="247.56" y1="231.20" y2="273.10" stroke="#fff" stroke-opacity="0.42" stroke-width="0.7"/>
<line x1="257.24" x2="257.24" y1="231.20" y2="273.10" stroke="#fff" stroke-opacity="0.6" stroke-width="0.7"/>
<line x1="266.92" x2="266.92" y1="231.20" y2="273.10" stroke="#fff" stroke-opacity="0.42" stroke-width="0.7"/>
<line x1="276.59" x2="276.59" y1="231.20" y2="273.10" stroke="#fff" stroke-opacity="0.42" stroke-width="0.7"/>
<line x1="286.26" x2="286.26" y1="231.20" y2="273.10" stroke="#fff" stroke-opacity="0.42" stroke-width="0.7"/>
<rect x="20.50" y="273.10" width="53.66" height="18.20" fill="#e6e6e6"/>
<rect x="20.50" y="291.30" width="53.66" height="6.39" fill="#cbcbcb"/>
<rect x="20.50" y="297.69" width="53.66" height="17.31" fill="#b4b4b4"/>
<line x1="28.09" x2="28.09" y1="273.10" y2="315.00" stroke="#fff" stroke-opacity="0.14" stroke-width="0.5"/>
<line x1="37.76" x2="37.76" y1="273.10" y2="315.00" stroke="#fff" stroke-opacity="0.14" stroke-width="0.5"/>
<line x1="47.44" x2="47.44" y1="273.10" y2="315.00" stroke="#fff" stroke-opacity="0.14" stroke-width="0.5"/>
<line x1="57.11" x2="57.11" y1="273.10" y2="315.00" stroke="#fff" stroke-opacity="0.14" stroke-width="0.5"/>
<line x1="66.79" x2="66.79" y1="273.10" y2="315.00" stroke="#fff" stroke-opacity="0.14" stroke-width="0.5"/>
<line x1="23.25" x2="23.25" y1="273.10" y2="315.00" stroke="#fff" stroke-opacity="0.42" stroke-width="0.7"/>
<line x1="32.92" x2="32.92" y1="273.10" y2="315.00" stroke="#fff" stroke-opacity="0.42" stroke-width="0.7"/>
<line x1="42.60" x2="42.60" y1="273.10" y2="315.00" stroke="#fff" stroke-opacity="0.6" stroke-width="0.7"/>
<line x1="52.28" x2="52.28" y1="273.10" y2="315.00" stroke="#fff" stroke-opacity="0.42" stroke-width="0.7"/>
<line x1="61.95" x2="61.95" y1="273.10" y2="315.00" stroke="#fff" stroke-opacity="0.42" stroke-width="0.7"/>
<line x1="71.62" x2="71.62" y1="273.10" y2="315.00" stroke="#fff" stroke-opacity="0.42" stroke-width="0.7"/>
<rect x="74.16" y="273.10" width="53.66" height="18.20" fill="#e6e6e6"/>
<rect x="74.16" y="291.30" width="53.66" height="6.39" fill="#cbcbcb"/>
<rect x="74.16" y="297.69" width="53.66" height="17.31" fill="#b4b4b4"/>
<line x1="81.75" x2="81.75" y1="273.10" y2="315.00" stroke="#fff" stroke-opacity="0.14" stroke-width="0.5"/>
<line x1="91.42" x2="91.42" y1="273.10" y2="315.00" stroke="#fff" stroke-opacity="0.14" stroke-width="0.5"/>
<line x1="101.10" x2="101.10" y1="273.10" y2="315.00" stroke="#fff" stroke-opacity="0.14" stroke-width="0.5"/>
<line x1="110.77" x2="110.77" y1="273.10" y2="315.00" stroke="#fff" stroke-opacity="0.14" stroke-width="0.5"/>
<line x1="120.45" x2="120.45" y1="273.10" y2="315.00" stroke="#fff" stroke-opacity="0.14" stroke-width="0.5"/>
<line x1="76.91" x2="76.91" y1="273.10" y2="315.00" stroke="#fff" stroke-opacity="0.42" stroke-width="0.7"/>
<line x1="86.58" x2="86.58" y1="273.10" y2="315.00" stroke="#fff" stroke-opacity="0.42" stroke-width="0.7"/>
<line x1="96.26" x2="96.26" y1="273.10" y2="315.00" stroke="#fff" stroke-opacity="0.6" stroke-width="0.7"/>
<line x1="105.93" x2="105.93" y1="273.10" y2="315.00" stroke="#fff" stroke-opacity="0.42" stroke-width="0.7"/>
<line x1="115.61" x2="115.61" y1="273.10" y2="315.00" stroke="#fff" stroke-opacity="0.42" stroke-width="0.7"/>
<line x1="125.28" x2="125.28" y1="273.10" y2="315.00" stroke="#fff" stroke-opacity="0.42" stroke-width="0.7"/>
<rect x="127.82" y="273.10" width="53.66" height="18.20" fill="#e6e6e6"/>
<rect x="127.82" y="291.30" width="53.66" height="6.39" fill="#cbcbcb"/>
<rect x="127.82" y="297.69" width="53.66" height="17.31" fill="#b4b4b4"/>
<line x1="135.41" x2="135.41" y1="273.10" y2="315.00" stroke="#fff" stroke-opacity="0.14" stroke-width="0.5"/>
<line x1="145.08" x2="145.08" y1="273.10" y2="315.00" stroke="#fff" stroke-opacity="0.14" stroke-width="0.5"/>
<line x1="154.76" x2="154.76" y1="273.10" y2="315.00" stroke="#fff" stroke-opacity="0.14" stroke-width="0.5"/>
<line x1="164.43" x2="164.43" y1="273.10" y2="315.00" stroke="#fff" stroke-opacity="0.14" stroke-width="0.5"/>
<line x1="174.11" x2="174.11" y1="273.10" y2="315.00" stroke="#fff" stroke-opacity="0.14" stroke-width="0.5"/>
<line x1="130.57" x2="130.57" y1="273.10" y2="315.00" stroke="#fff" stroke-opacity="0.42" stroke-width="0.7"/>
<line x1="140.24" x2="140.24" y1="273.10" y2="315.00" stroke="#fff" stroke-opacity="0.42" stroke-width="0.7"/>
<line x1="149.92" x2="149.92" y1="273.10" y2="315.00" stroke="#fff" stroke-opacity="0.6" stroke-width="0.7"/>
<line x1="159.59" x2="159.59" y1="273.10" y2="315.00" stroke="#fff" stroke-opacity="0.42" stroke-width="0.7"/>
<line x1="169.27" x2="169.27" y1="273.10" y2="315.00" stroke="#fff" stroke-opacity="0.42" stroke-width="0.7"/>
<line x1="178.94" x2="178.94" y1="273.10" y2="315.00" stroke="#fff" stroke-opacity="0.42" stroke-width="0.7"/>
<rect x="181.48" y="273.10" width="53.66" height="18.20" fill="#e6e6e6"/>
<rect x="181.48" y="291.30" width="53.66" height="6.39" fill="#cbcbcb"/>
<rect x="181.48" y="297.69" width="53.66" height="17.31" fill="#b4b4b4"/>
<line x1="189.07" x2="189.07" y1="273.10" y2="315.00" stroke="#fff" stroke-opacity="0.14" stroke-width="0.5"/>
<line x1="198.74" x2="198.74" y1="273.10" y2="315.00" stroke="#fff" stroke-opacity="0.14" stroke-width="0.5"/>
<line x1="208.42" x2="208.42" y1="273.10" y2="315.00" stroke="#fff" stroke-opacity="0.14" stroke-width="0.5"/>
<line x1="218.09" x2="218.09" y1="273.10" y2="315.00" stroke="#fff" stroke-opacity="0.14" stroke-width="0.5"/>
<line x1="227.77" x2="227.77" y1="273.10" y2="315.00" stroke="#fff" stroke-opacity="0.14" stroke-width="0.5"/>
<line x1="184.23" x2="184.23" y1="273.10" y2="315.00" stroke="#fff" stroke-opacity="0.42" stroke-width="0.7"/>
<line x1="193.90" x2="193.90" y1="273.10" y2="315.00" stroke="#fff" stroke-opacity="0.42" stroke-width="0.7"/>
<line x1="203.58" x2="203.58" y1="273.10" y2="315.00" stroke="#fff" stroke-opacity="0.6" stroke-width="0.7"/>
<line x1="213.25" x2="213.25" y1="273.10" y2="315.00" stroke="#fff" stroke-opacity="0.42" stroke-width="0.7"/>
<line x1="222.93" x2="222.93" y1="273.10" y2="315.00" stroke="#fff" stroke-opacity="0.42" stroke-width="0.7"/>
<line x1="232.60" x2="232.60" y1="273.10" y2="315.00" stroke="#fff" stroke-opacity="0.42" stroke-width="0.7"/>
<rect x="235.14" y="273.10" width="53.66" height="18.20" fill="#e6e6e6"/>
<rect x="235.14" y="291.30" width="53.66" height="6.39" fill="#cbcbcb"/>
<rect x="235.14" y="297.69" width="53.66" height="17.31" fill="#b4b4b4"/>
<line x1="242.73" x2="242.73" y1="273.10" y2="315.00" stroke="#fff" stroke-opacity="0.14" stroke-width="0.5"/>
<line x1="252.40" x2="252.40" y1="273.10" y2="315.00" stroke="#fff" stroke-opacity="0.14" stroke-width="0.5"/>
<line x1="262.08" x2="262.08" y1="273.10" y2="315.00" stroke="#fff" stroke-opacity="0.14" stroke-width="0.5"/>
<line x1="271.75" x2="271.75" y1="273.10" y2="315.00" stroke="#fff" stroke-opacity="0.14" stroke-width="0.5"/>
<line x1="281.43" x2="281.43" y1="273.10" y2="315.00" stroke="#fff" stroke-opacity="0.14" stroke-width="0.5"/>
<line x1="237.89" x2="237.89" y1="273.10" y2="315.00" stroke="#fff" stroke-opacity="0.42" stroke-width="0.7"/>
<line x1="247.56" x2="247.56" y1="273.10" y2="315.00" stroke="#fff" stroke-opacity="0.42" stroke-width="0.7"/>
<line x1="257.24" x2="257.24" y1="273.10" y2="315.00" stroke="#fff" stroke-opacity="0.6" stroke-width="0.7"/>
<line x1="266.92" x2="266.92" y1="273.10" y2="315.00" stroke="#fff" stroke-opacity="0.42" stroke-width="0.7"/>
<line x1="276.59" x2="276.59" y1="273.10" y2="315.00" stroke="#fff" stroke-opacity="0.42" stroke-width="0.7"/>
<line x1="286.26" x2="286.26" y1="273.10" y2="315.00" stroke="#fff" stroke-opacity="0.42" stroke-width="0.7"/>
<rect x="20.50" y="315.00" width="53.66" height="18.20" fill="#e6e6e6"/>
<rect x="20.50" y="333.20" width="53.66" height="6.39" fill="#cbcbcb"/>
<rect x="20.50" y="339.59" width="53.66" height="17.31" fill="#b4b4b4"/>
<line x1="28.09" x2="28.09" y1="315.00" y2="356.90" stroke="#fff" stroke-opacity="0.14" stroke-width="0.5"/>
<line x1="37.76" x2="37.76" y1="315.00" y2="356.90" stroke="#fff" stroke-opacity="0.14" stroke-width="0.5"/>
<line x1="47.44" x2="47.44" y1="315.00" y2="356.90" stroke="#fff" stroke-opacity="0.14" stroke-width="0.5"/>
<line x1="57.11" x2="57.11" y1="315.00" y2="356.90" stroke="#fff" stroke-opacity="0.14" stroke-width="0.5"/>
<line x1="66.79" x2="66.79" y1="315.00" y2="356.90" stroke="#fff" stroke-opacity="0.14" stroke-width="0.5"/>
<line x1="23.25" x2="23.25" y1="315.00" y2="356.90" stroke="#fff" stroke-opacity="0.42" stroke-width="0.7"/>
<line x1="32.92" x2="32.92" y1="315.00" y2="356.90" stroke="#fff" stroke-opacity="0.42" stroke-width="0.7"/>
<line x1="42.60" x2="42.60" y1="315.00" y2="356.90" stroke="#fff" stroke-opacity="0.6" stroke-width="0.7"/>
<line x1="52.28" x2="52.28" y1="315.00" y2="356.90" stroke="#fff" stroke-opacity="0.42" stroke-width="0.7"/>
<line x1="61.95" x2="61.95" y1="315.00" y2="356.90" stroke="#fff" stroke-opacity="0.42" stroke-width="0.7"/>
<line x1="71.62" x2="71.62" y1="315.00" y2="356.90" stroke="#fff" stroke-opacity="0.42" stroke-width="0.7"/>
<rect x="74.16" y="315.00" width="53.66" height="18.20" fill="#e6e6e6"/>
<rect x="74.16" y="333.20" width="53.66" height="6.39" fill="#cbcbcb"/>
<rect x="74.16" y="339.59" width="53.66" height="17.31" fill="#b4b4b4"/>
<line x1="81.75" x2="81.75" y1="315.00" y2="356.90" stroke="#fff" stroke-opacity="0.14" stroke-width="0.5"/>
<line x1="91.42" x2="91.42" y1="315.00" y2="356.90" stroke="#fff" stroke-opacity="0.14" stroke-width="0.5"/>
<line x1="101.10" x2="101.10" y1="315.00" y2="356.90" stroke="#fff" stroke-opacity="0.14" stroke-width="0.5"/>
<line x1="110.77" x2="110.77" y1="315.00" y2="356.90" stroke="#fff" stroke-opacity="0.14" stroke-width="0.5"/>
<line x1="120.45" x2="120.45" y1="315.00" y2="356.90" stroke="#fff" stroke-opacity="0.14" stroke-width="0.5"/>
<line x1="76.91" x2="76.91" y1="315.00" y2="356.90" stroke="#fff" stroke-opacity="0.42" stroke-width="0.7"/>
<line x1="86.58" x2="86.58" y1="315.00" y2="356.90" stroke="#fff" stroke-opacity="0.42" stroke-width="0.7"/>
<line x1="96.26" x2="96.26" y1="315.00" y2="356.90" stroke="#fff" stroke-opacity="0.6" stroke-width="0.7"/>
<line x1="105.93" x2="105.93" y1="315.00" y2="356.90" stroke="#fff" stroke-opacity="0.42" stroke-width="0.7"/>
<line x1="115.61" x2="115.61" y1="315.00" y2="356.90" stroke="#fff" stroke-opacity="0.42" stroke-width="0.7"/>
<line x1="125.28" x2="125.28" y1="315.00" y2="356.90" stroke="#fff" stroke-opacity="0.42" stroke-width="0.7"/>
<rect x="127.82" y="315.00" width="53.66" height="18.20" fill="#e6e6e6"/>
<rect x="127.82" y="333.20" width="53.66" height="6.39" fill="#cbcbcb"/>
<rect x="127.82" y="339.59" width="53.66" height="17.31" fill="#b4b4b4"/>
<line x1="135.41" x2="135.41" y1="315.00" y2="356.90" stroke="#fff" stroke-opacity="0.14" stroke-width="0.5"/>
<line x1="145.08" x2="145.08" y1="315.00" y2="356.90" stroke="#fff" stroke-opacity="0.14" stroke-width="0.5"/>
<line x1="154.76" x2="154.76" y1="315.00" y2="356.90" stroke="#fff" stroke-opacity="0.14" stroke-width="0.5"/>
<line x1="164.43" x2="164.43" y1="315.00" y2="356.90" stroke="#fff" stroke-opacity="0.14" stroke-width="0.5"/>
<line x1="174.11" x2="174.11" y1="315.00" y2="356.90" stroke="#fff" stroke-opacity="0.14" stroke-width="0.5"/>
<line x1="130.57" x2="130.57" y1="315.00" y2="356.90" stroke="#fff" stroke-opacity="0.42" stroke-width="0.7"/>
<line x1="140.24" x2="140.24" y1="315.00" y2="356.90" stroke="#fff" stroke-opacity="0.42" stroke-width="0.7"/>
<line x1="149.92" x2="149.92" y1="315.00" y2="356.90" stroke="#fff" stroke-opacity="0.6" stroke-width="0.7"/>
<line x1="159.59" x2="159.59" y1="315.00" y2="356.90" stroke="#fff" stroke-opacity="0.42" stroke-width="0.7"/>
<line x1="169.27" x2="169.27" y1="315.00" y2="356.90" stroke="#fff" stroke-opacity="0.42" stroke-width="0.7"/>
<line x1="178.94" x2="178.94" y1="315.00" y2="356.90" stroke="#fff" stroke-opacity="0.42" stroke-width="0.7"/>
<rect x="181.48" y="315.00" width="53.66" height="18.20" fill="#e6e6e6"/>
<rect x="181.48" y="333.20" width="53.66" height="6.39" fill="#cbcbcb"/>
<rect x="181.48" y="339.59" width="53.66" height="17.31" fill="#b4b4b4"/>
<line x1="189.07" x2="189.07" y1="315.00" y2="356.90" stroke="#fff" stroke-opacity="0.14" stroke-width="0.5"/>
<line x1="198.74" x2="198.74" y1="315.00" y2="356.90" stroke="#fff" stroke-opacity="0.14" stroke-width="0.5"/>
<line x1="208.42" x2="208.42" y1="315.00" y2="356.90" stroke="#fff" stroke-opacity="0.14" stroke-width="0.5"/>
<line x1="218.09" x2="218.09" y1="315.00" y2="356.90" stroke="#fff" stroke-opacity="0.14" stroke-width="0.5"/>
<line x1="227.77" x2="227.77" y1="315.00" y2="356.90" stroke="#fff" stroke-opacity="0.14" stroke-width="0.5"/>
<line x1="184.23" x2="184.23" y1="315.00" y2="356.90" stroke="#fff" stroke-opacity="0.42" stroke-width="0.7"/>
<line x1="193.90" x2="193.90" y1="315.00" y2="356.90" stroke="#fff" stroke-opacity="0.42" stroke-width="0.7"/>
<line x1="203.58" x2="203.58" y1="315.00" y2="356.90" stroke="#fff" stroke-opacity="0.6" stroke-width="0.7"/>
<line x1="213.25" x2="213.25" y1="315.00" y2="356.90" stroke="#fff" stroke-opacity="0.42" stroke-width="0.7"/>
<line x1="222.93" x2="222.93" y1="315.00" y2="356.90" stroke="#fff" stroke-opacity="0.42" stroke-width="0.7"/>
<line x1="232.60" x2="232.60" y1="315.00" y2="356.90" stroke="#fff" stroke-opacity="0.42" stroke-width="0.7"/>
<rect x="235.14" y="315.00" width="53.66" height="18.20" fill="#e6e6e6"/>
<rect x="235.14" y="333.20" width="53.66" height="6.39" fill="#cbcbcb"/>
<rect x="235.14" y="339.59" width="53.66" height="17.31" fill="#b4b4b4"/>
<line x1="242.73" x2="242.73" y1="315.00" y2="356.90" stroke="#fff" stroke-opacity="0.14" stroke-width="0.5"/>
<line x1="252.40" x2="252.40" y1="315.00" y2="356.90" stroke="#fff" stroke-opacity="0.14" stroke-width="0.5"/>
<line x1="262.08" x2="262.08" y1="315.00" y2="356.90" stroke="#fff" stroke-opacity="0.14" stroke-width="0.5"/>
<line x1="271.75" x2="271.75" y1="315.00" y2="356.90" stroke="#fff" stroke-opacity="0.14" stroke-width="0.5"/>
<line x1="281.43" x2="281.43" y1="315.00" y2="356.90" stroke="#fff" stroke-opacity="0.14" stroke-width="0.5"/>
<line x1="237.89" x2="237.89" y1="315.00" y2="356.90" stroke="#fff" stroke-opacity="0.42" stroke-width="0.7"/>
<line x1="247.56" x2="247.56" y1="315.00" y2="356.90" stroke="#fff" stroke-opacity="0.42" stroke-width="0.7"/>
<line x1="257.24" x2="257.24" y1="315.00" y2="356.90" stroke="#fff" stroke-opacity="0.6" stroke-width="0.7"/>
<line x1="266.92" x2="266.92" y1="315.00" y2="356.90" stroke="#fff" stroke-opacity="0.42" stroke-width="0.7"/>
<line x1="276.59" x2="276.59" y1="315.00" y2="356.90" stroke="#fff" stroke-opacity="0.42" stroke-width="0.7"/>
<line x1="286.26" x2="286.26" y1="315.00" y2="356.90" stroke="#fff" stroke-opacity="0.42" stroke-width="0.7"/>
<rect x="20.50" y="356.90" width="53.66" height="18.20" fill="#e6e6e6"/>
<rect x="20.50" y="375.10" width="53.66" height="6.39" fill="#cbcbcb"/>
<rect x="20.50" y="381.49" width="53.66" height="17.31" fill="#b4b4b4"/>
<line x1="28.09" x2="28.09" y1="356.90" y2="398.80" stroke="#fff" stroke-opacity="0.14" stroke-width="0.5"/>
<line x1="37.76" x2="37.76" y1="356.90" y2="398.80" stroke="#fff" stroke-opacity="0.14" stroke-width="0.5"/>
<line x1="47.44" x2="47.44" y1="356.90" y2="398.80" stroke="#fff" stroke-opacity="0.14" stroke-width="0.5"/>
<line x1="57.11" x2="57.11" y1="356.90" y2="398.80" stroke="#fff" stroke-opacity="0.14" stroke-width="0.5"/>
<line x1="66.79" x2="66.79" y1="356.90" y2="398.80" stroke="#fff" stroke-opacity="0.14" stroke-width="0.5"/>
<line x1="23.25" x2="23.25" y1="356.90" y2="398.80" stroke="#fff" stroke-opacity="0.42" stroke-width="0.7"/>
<line x1="32.92" x2="32.92" y1="356.90" y2="398.80" stroke="#fff" stroke-opacity="0.42" stroke-width="0.7"/>
<line x1="42.60" x2="42.60" y1="356.90" y2="398.80" stroke="#fff" stroke-opacity="0.6" stroke-width="0.7"/>
<line x1="52.28" x2="52.28" y1="356.90" y2="398.80" stroke="#fff" stroke-opacity="0.42" stroke-width="0.7"/>
<line x1="61.95" x2="61.95" y1="356.90" y2="398.80" stroke="#fff" stroke-opacity="0.42" stroke-width="0.7"/>
<line x1="71.62" x2="71.62" y1="356.90" y2="398.80" stroke="#fff" stroke-opacity="0.42" stroke-width="0.7"/>
<rect x="74.16" y="356.90" width="53.66" height="18.20" fill="#e6e6e6"/>
<rect x="74.16" y="375.10" width="53.66" height="6.39" fill="#cbcbcb"/>
<rect x="74.16" y="381.49" width="53.66" height="17.31" fill="#b4b4b4"/>
<line x1="81.75" x2="81.75" y1="356.90" y2="398.80" stroke="#fff" stroke-opacity="0.14" stroke-width="0.5"/>
<line x1="91.42" x2="91.42" y1="356.90" y2="398.80" stroke="#fff" stroke-opacity="0.14" stroke-width="0.5"/>
<line x1="101.10" x2="101.10" y1="356.90" y2="398.80" stroke="#fff" stroke-opacity="0.14" stroke-width="0.5"/>
<line x1="110.77" x2="110.77" y1="356.90" y2="398.80" stroke="#fff" stroke-opacity="0.14" stroke-width="0.5"/>
<line x1="120.45" x2="120.45" y1="356.90" y2="398.80" stroke="#fff" stroke-opacity="0.14" stroke-width="0.5"/>
<line x1="76.91" x2="76.91" y1="356.90" y2="398.80" stroke="#fff" stroke-opacity="0.42" stroke-width="0.7"/>
<line x1="86.58" x2="86.58" y1="356.90" y2="398.80" stroke="#fff" stroke-opacity="0.42" stroke-width="0.7"/>
<line x1="96.26" x2="96.26" y1="356.90" y2="398.80" stroke="#fff" stroke-opacity="0.6" stroke-width="0.7"/>
<line x1="105.93" x2="105.93" y1="356.90" y2="398.80" stroke="#fff" stroke-opacity="0.42" stroke-width="0.7"/>
<line x1="115.61" x2="115.61" y1="356.90" y2="398.80" stroke="#fff" stroke-opacity="0.42" stroke-width="0.7"/>
<line x1="125.28" x2="125.28" y1="356.90" y2="398.80" stroke="#fff" stroke-opacity="0.42" stroke-width="0.7"/>
<rect x="127.82" y="356.90" width="53.66" height="18.20" fill="#e6e6e6"/>
<rect x="127.82" y="375.10" width="53.66" height="6.39" fill="#cbcbcb"/>
<rect x="127.82" y="381.49" width="53.66" height="17.31" fill="#b4b4b4"/>
<line x1="135.41" x2="135.41" y1="356.90" y2="398.80" stroke="#fff" stroke-opacity="0.14" stroke-width="0.5"/>
<line x1="145.08" x2="145.08" y1="356.90" y2="398.80" stroke="#fff" stroke-opacity="0.14" stroke-width="0.5"/>
<line x1="154.76" x2="154.76" y1="356.90" y2="398.80" stroke="#fff" stroke-opacity="0.14" stroke-width="0.5"/>
<line x1="164.43" x2="164.43" y1="356.90" y2="398.80" stroke="#fff" stroke-opacity="0.14" stroke-width="0.5"/>
<line x1="174.11" x2="174.11" y1="356.90" y2="398.80" stroke="#fff" stroke-opacity="0.14" stroke-width="0.5"/>
<line x1="130.57" x2="130.57" y1="356.90" y2="398.80" stroke="#fff" stroke-opacity="0.42" stroke-width="0.7"/>
<line x1="140.24" x2="140.24" y1="356.90" y2="398.80" stroke="#fff" stroke-opacity="0.42" stroke-width="0.7"/>
<line x1="149.92" x2="149.92" y1="356.90" y2="398.80" stroke="#fff" stroke-opacity="0.6" stroke-width="0.7"/>
<line x1="159.59" x2="159.59" y1="356.90" y2="398.80" stroke="#fff" stroke-opacity="0.42" stroke-width="0.7"/>
<line x1="169.27" x2="169.27" y1="356.90" y2="398.80" stroke="#fff" stroke-opacity="0.42" stroke-width="0.7"/>
<line x1="178.94" x2="178.94" y1="356.90" y2="398.80" stroke="#fff" stroke-opacity="0.42" stroke-width="0.7"/>
<rect x="181.48" y="356.90" width="53.66" height="18.20" fill="#e6e6e6"/>
<rect x="181.48" y="375.10" width="53.66" height="6.39" fill="#cbcbcb"/>
<rect x="181.48" y="381.49" width="53.66" height="17.31" fill="#b4b4b4"/>
<line x1="189.07" x2="189.07" y1="356.90" y2="398.80" stroke="#fff" stroke-opacity="0.14" stroke-width="0.5"/>
<line x1="198.74" x2="198.74" y1="356.90" y2="398.80" stroke="#fff" stroke-opacity="0.14" stroke-width="0.5"/>
<line x1="208.42" x2="208.42" y1="356.90" y2="398.80" stroke="#fff" stroke-opacity="0.14" stroke-width="0.5"/>
<line x1="218.09" x2="218.09" y1="356.90" y2="398.80" stroke="#fff" stroke-opacity="0.14" stroke-width="0.5"/>
<line x1="227.77" x2="227.77" y1="356.90" y2="398.80" stroke="#fff" stroke-opacity="0.14" stroke-width="0.5"/>
<line x1="184.23" x2="184.23" y1="356.90" y2="398.80" stroke="#fff" stroke-opacity="0.42" stroke-width="0.7"/>
<line x1="193.90" x2="193.90" y1="356.90" y2="398.80" stroke="#fff" stroke-opacity="0.42" stroke-width="0.7"/>
<line x1="203.58" x2="203.58" y1="356.90" y2="398.80" stroke="#fff" stroke-opacity="0.6" stroke-width="0.7"/>
<line x1="213.25" x2="213.25" y1="356.90" y2="398.80" stroke="#fff" stroke-opacity="0.42" stroke-width="0.7"/>
<line x1="222.93" x2="222.93" y1="356.90" y2="398.80" stroke="#fff" stroke-opacity="0.42" stroke-width="0.7"/>
<line x1="232.60" x2="232.60" y1="356.90" y2="398.80" stroke="#fff" stroke-opacity="0.42" stroke-width="0.7"/>
<rect x="235.14" y="356.90" width="53.66" height="18.20" fill="#e6e6e6"/>
<rect x="235.14" y="375.10" width="53.66" height="6.39" fill="#cbcbcb"/>
<rect x="235.14" y="381.49" width="53.66" height="17.31" fill="#b4b4b4"/>
<line x1="242.73" x2="242.73" y1="356.90" y2="398.80" stroke="#fff" stroke-opacity="0.14" stroke-width="0.5"/>
<line x1="252.40" x2="252.40" y1="356.90" y2="398.80" stroke="#fff" stroke-opacity="0.14" stroke-width="0.5"/>
<line x1="262.08" x2="262.08" y1="356.90" y2="398.80" stroke="#fff" stroke-opacity="0.14" stroke-width="0.5"/>
<line x1="271.75" x2="271.75" y1="356.90" y2="398.80" stroke="#fff" stroke-opacity="0.14" stroke-width="0.5"/>
<line x1="281.43" x2="281.43" y1="356.90" y2="398.80" stroke="#fff" stroke-opacity="0.14" stroke-width="0.5"/>
<line x1="237.89" x2="237.89" y1="356.90" y2="398.80" stroke="#fff" stroke-opacity="0.42" stroke-width="0.7"/>
<line x1="247.56" x2="247.56" y1="356.90" y2="398.80" stroke="#fff" stroke-opacity="0.42" stroke-width="0.7"/>
<line x1="257.24" x2="257.24" y1="356.90" y2="398.80" stroke="#fff" stroke-opacity="0.6" stroke-width="0.7"/>
<line x1="266.92" x2="266.92" y1="356.90" y2="398.80" stroke="#fff" stroke-opacity="0.42" stroke-width="0.7"/>
<line x1="276.59" x2="276.59" y1="356.90" y2="398.80" stroke="#fff" stroke-opacity="0.42" stroke-width="0.7"/>
<line x1="286.26" x2="286.26" y1="356.90" y2="398.80" stroke="#fff" stroke-opacity="0.42" stroke-width="0.7"/>
<rect x="20.50" y="398.80" width="53.66" height="18.20" fill="#e6e6e6"/>
<rect x="20.50" y="417.00" width="53.66" height="6.39" fill="#cbcbcb"/>
<rect x="20.50" y="423.39" width="53.66" height="17.31" fill="#b4b4b4"/>
<line x1="28.09" x2="28.09" y1="398.80" y2="440.70" stroke="#fff" stroke-opacity="0.14" stroke-width="0.5"/>
<line x1="37.76" x2="37.76" y1="398.80" y2="440.70" stroke="#fff" stroke-opacity="0.14" stroke-width="0.5"/>
<line x1="47.44" x2="47.44" y1="398.80" y2="440.70" stroke="#fff" stroke-opacity="0.14" stroke-width="0.5"/>
<line x1="57.11" x2="57.11" y1="398.80" y2="440.70" stroke="#fff" stroke-opacity="0.14" stroke-width="0.5"/>
<line x1="66.79" x2="66.79" y1="398.80" y2="440.70" stroke="#fff" stroke-opacity="0.14" stroke-width="0.5"/>
<line x1="23.25" x2="23.25" y1="398.80" y2="440.70" stroke="#fff" stroke-opacity="0.42" stroke-width="0.7"/>
<line x1="32.92" x2="32.92" y1="398.80" y2="440.70" stroke="#fff" stroke-opacity="0.42" stroke-width="0.7"/>
<line x1="42.60" x2="42.60" y1="398.80" y2="440.70" stroke="#fff" stroke-opacity="0.6" stroke-width="0.7"/>
<line x1="52.28" x2="52.28" y1="398.80" y2="440.70" stroke="#fff" stroke-opacity="0.42" stroke-width="0.7"/>
<line x1="61.95" x2="61.95" y1="398.80" y2="440.70" stroke="#fff" stroke-opacity="0.42" stroke-width="0.7"/>
<line x1="71.62" x2="71.62" y1="398.80" y2="440.70" stroke="#fff" stroke-opacity="0.42" stroke-width="0.7"/>
<rect x="74.16" y="398.80" width="53.66" height="18.20" fill="#e6e6e6"/>
<rect x="74.16" y="417.00" width="53.66" height="6.39" fill="#cbcbcb"/>
<rect x="74.16" y="423.39" width="53.66" height="17.31" fill="#b4b4b4"/>
<line x1="81.75" x2="81.75" y1="398.80" y2="440.70" stroke="#fff" stroke-opacity="0.14" stroke-width="0.5"/>
<line x1="91.42" x2="91.42" y1="398.80" y2="440.70" stroke="#fff" stroke-opacity="0.14" stroke-width="0.5"/>
<line x1="101.10" x2="101.10" y1="398.80" y2="440.70" stroke="#fff" stroke-opacity="0.14" stroke-width="0.5"/>
<line x1="110.77" x2="110.77" y1="398.80" y2="440.70" stroke="#fff" stroke-opacity="0.14" stroke-width="0.5"/>
<line x1="120.45" x2="120.45" y1="398.80" y2="440.70" stroke="#fff" stroke-opacity="0.14" stroke-width="0.5"/>
<line x1="76.91" x2="76.91" y1="398.80" y2="440.70" stroke="#fff" stroke-opacity="0.42" stroke-width="0.7"/>
<line x1="86.58" x2="86.58" y1="398.80" y2="440.70" stroke="#fff" stroke-opacity="0.42" stroke-width="0.7"/>
<line x1="96.26" x2="96.26" y1="398.80" y2="440.70" stroke="#fff" stroke-opacity="0.6" stroke-width="0.7"/>
<line x1="105.93" x2="105.93" y1="398.80" y2="440.70" stroke="#fff" stroke-opacity="0.42" stroke-width="0.7"/>
<line x1="115.61" x2="115.61" y1="398.80" y2="440.70" stroke="#fff" stroke-opacity="0.42" stroke-width="0.7"/>
<line x1="125.28" x2="125.28" y1="398.80" y2="440.70" stroke="#fff" stroke-opacity="0.42" stroke-width="0.7"/>
<rect x="127.82" y="398.80" width="53.66" height="18.20" fill="#e6e6e6"/>
<rect x="127.82" y="417.00" width="53.66" height="6.39" fill="#cbcbcb"/>
<rect x="127.82" y="423.39" width="53.66" height="17.31" fill="#b4b4b4"/>
<line x1="135.41" x2="135.41" y1="398.80" y2="440.70" stroke="#fff" stroke-opacity="0.14" stroke-width="0.5"/>
<line x1="145.08" x2="145.08" y1="398.80" y2="440.70" stroke="#fff" stroke-opacity="0.14" stroke-width="0.5"/>
<line x1="154.76" x2="154.76" y1="398.80" y2="440.70" stroke="#fff" stroke-opacity="0.14" stroke-width="0.5"/>
<line x1="164.43" x2="164.43" y1="398.80" y2="440.70" stroke="#fff" stroke-opacity="0.14" stroke-width="0.5"/>
<line x1="174.11" x2="174.11" y1="398.80" y2="440.70" stroke="#fff" stroke-opacity="0.14" stroke-width="0.5"/>
<line x1="130.57" x2="130.57" y1="398.80" y2="440.70" stroke="#fff" stroke-opacity="0.42" stroke-width="0.7"/>
<line x1="140.24" x2="140.24" y1="398.80" y2="440.70" stroke="#fff" stroke-opacity="0.42" stroke-width="0.7"/>
<line x1="149.92" x2="149.92" y1="398.80" y2="440.70" stroke="#fff" stroke-opacity="0.6" stroke-width="0.7"/>
<line x1="159.59" x2="159.59" y1="398.80" y2="440.70" stroke="#fff" stroke-opacity="0.42" stroke-width="0.7"/>
<line x1="169.27" x2="169.27" y1="398.80" y2="440.70" stroke="#fff" stroke-opacity="0.42" stroke-width="0.7"/>
<line x1="178.94" x2="178.94" y1="398.80" y2="440.70" stroke="#fff" stroke-opacity="0.42" stroke-width="0.7"/>
<rect x="181.48" y="398.80" width="53.66" height="18.20" fill="#e6e6e6"/>
<rect x="181.48" y="417.00" width="53.66" height="6.39" fill="#cbcbcb"/>
<rect x="181.48" y="423.39" width="53.66" height="17.31" fill="#b4b4b4"/>
<line x1="189.07" x2="189.07" y1="398.80" y2="440.70" stroke="#fff" stroke-opacity="0.14" stroke-width="0.5"/>
<line x1="198.74" x2="198.74" y1="398.80" y2="440.70" stroke="#fff" stroke-opacity="0.14" stroke-width="0.5"/>
<line x1="208.42" x2="208.42" y1="398.80" y2="440.70" stroke="#fff" stroke-opacity="0.14" stroke-width="0.5"/>
<line x1="218.09" x2="218.09" y1="398.80" y2="440.70" stroke="#fff" stroke-opacity="0.14" stroke-width="0.5"/>
<line x1="227.77" x2="227.77" y1="398.80" y2="440.70" stroke="#fff" stroke-opacity="0.14" stroke-width="0.5"/>
<line x1="184.23" x2="184.23" y1="398.80" y2="440.70" stroke="#fff" stroke-opacity="0.42" stroke-width="0.7"/>
<line x1="193.90" x2="193.90" y1="398.80" y2="440.70" stroke="#fff" stroke-opacity="0.42" stroke-width="0.7"/>
<line x1="203.58" x2="203.58" y1="398.80" y2="440.70" stroke="#fff" stroke-opacity="0.6" stroke-width="0.7"/>
<line x1="213.25" x2="213.25" y1="398.80" y2="440.70" stroke="#fff" stroke-opacity="0.42" stroke-width="0.7"/>
<line x1="222.93" x2="222.93" y1="398.80" y2="440.70" stroke="#fff" stroke-opacity="0.42" stroke-width="0.7"/>
<line x1="232.60" x2="232.60" y1="398.80" y2="440.70" stroke="#fff" stroke-opacity="0.42" stroke-width="0.7"/>
<rect x="235.14" y="398.80" width="53.66" height="18.20" fill="#e6e6e6"/>
<rect x="235.14" y="417.00" width="53.66" height="6.39" fill="#cbcbcb"/>
<rect x="235.14" y="423.39" width="53.66" height="17.31" fill="#b4b4b4"/>
<line x1="242.73" x2="242.73" y1="398.80" y2="440.70" stroke="#fff" stroke-opacity="0.14" stroke-width="0.5"/>
<line x1="252.40" x2="252.40" y1="398.80" y2="440.70" stroke="#fff" stroke-opacity="0.14" stroke-width="0.5"/>
<line x1="262.08" x2="262.08" y1="398.80" y2="440.70" stroke="#fff" stroke-opacity="0.14" stroke-width="0.5"/>
<line x1="271.75" x2="271.75" y1="398.80" y2="440.70" stroke="#fff" stroke-opacity="0.14" stroke-width="0.5"/>
<line x1="281.43" x2="281.43" y1="398.80" y2="440.70" stroke="#fff" stroke-opacity="0.14" stroke-width="0.5"/>
<line x1="237.89" x2="237.89" y1="398.80" y2="440.70" stroke="#fff" stroke-opacity="0.42" stroke-width="0.7"/>
<line x1="247.56" x2="247.56" y1="398.80" y2="440.70" stroke="#fff" stroke-opacity="0.42" stroke-width="0.7"/>
<line x1="257.24" x2="257.24" y1="398.80" y2="440.70" stroke="#fff" stroke-opacity="0.6" stroke-width="0.7"/>
<line x1="266.92" x2="266.92" y1="398.80" y2="440.70" stroke="#fff" stroke-opacity="0.42" stroke-width="0.7"/>
<line x1="276.59" x2="276.59" y1="398.80" y2="440.70" stroke="#fff" stroke-opacity="0.42" stroke-width="0.7"/>
<line x1="286.26" x2="286.26" y1="398.80" y2="440.70" stroke="#fff" stroke-opacity="0.42" stroke-width="0.7"/>
<rect x="20.50" y="440.70" width="53.66" height="18.20" fill="#e6e6e6"/>
<rect x="20.50" y="458.90" width="53.66" height="6.39" fill="#cbcbcb"/>
<rect x="20.50" y="465.29" width="53.66" height="17.31" fill="#b4b4b4"/>
<line x1="28.09" x2="28.09" y1="440.70" y2="482.60" stroke="#fff" stroke-opacity="0.14" stroke-width="0.5"/>
<line x1="37.76" x2="37.76" y1="440.70" y2="482.60" stroke="#fff" stroke-opacity="0.14" stroke-width="0.5"/>
<line x1="47.44" x2="47.44" y1="440.70" y2="482.60" stroke="#fff" stroke-opacity="0.14" stroke-width="0.5"/>
<line x1="57.11" x2="57.11" y1="440.70" y2="482.60" stroke="#fff" stroke-opacity="0.14" stroke-width="0.5"/>
<line x1="66.79" x2="66.79" y1="440.70" y2="482.60" stroke="#fff" stroke-opacity="0.14" stroke-width="0.5"/>
<line x1="23.25" x2="23.25" y1="440.70" y2="482.60" stroke="#fff" stroke-opacity="0.42" stroke-width="0.7"/>
<line x1="32.92" x2="32.92" y1="440.70" y2="482.60" stroke="#fff" stroke-opacity="0.42" stroke-width="0.7"/>
<line x1="42.60" x2="42.60" y1="440.70" y2="482.60" stroke="#fff" stroke-opacity="0.6" stroke-width="0.7"/>
<line x1="52.28" x2="52.28" y1="440.70" y2="482.60" stroke="#fff" stroke-opacity="0.42" stroke-width="0.7"/>
<line x1="61.95" x2="61.95" y1="440.70" y2="482.60" stroke="#fff" stroke-opacity="0.42" stroke-width="0.7"/>
<line x1="71.62" x2="71.62" y1="440.70" y2="482.60" stroke="#fff" stroke-opacity="0.42" stroke-width="0.7"/>
<rect x="74.16" y="440.70" width="53.66" height="18.20" fill="#e6e6e6"/>
<rect x="74.16" y="458.90" width="53.66" height="6.39" fill="#cbcbcb"/>
<rect x="74.16" y="465.29" width="53.66" height="17.31" fill="#b4b4b4"/>
<line x1="81.75" x2="81.75" y1="440.70" y2="482.60" stroke="#fff" stroke-opacity="0.14" stroke-width="0.5"/>
<line x1="91.42" x2="91.42" y1="440.70" y2="482.60" stroke="#fff" stroke-opacity="0.14" stroke-width="0.5"/>
<line x1="101.10" x2="101.10" y1="440.70" y2="482.60" stroke="#fff" stroke-opacity="0.14" stroke-width="0.5"/>
<line x1="110.77" x2="110.77" y1="440.70" y2="482.60" stroke="#fff" stroke-opacity="0.14" stroke-width="0.5"/>
<line x1="120.45" x2="120.45" y1="440.70" y2="482.60" stroke="#fff" stroke-opacity="0.14" stroke-width="0.5"/>
<line x1="76.91" x2="76.91" y1="440.70" y2="482.60" stroke="#fff" stroke-opacity="0.42" stroke-width="0.7"/>
<line x1="86.58" x2="86.58" y1="440.70" y2="482.60" stroke="#fff" stroke-opacity="0.42" stroke-width="0.7"/>
<line x1="96.26" x2="96.26" y1="440.70" y2="482.60" stroke="#fff" stroke-opacity="0.6" stroke-width="0.7"/>
<line x1="105.93" x2="105.93" y1="440.70" y2="482.60" stroke="#fff" stroke-opacity="0.42" stroke-width="0.7"/>
<line x1="115.61" x2="115.61" y1="440.70" y2="482.60" stroke="#fff" stroke-opacity="0.42" stroke-width="0.7"/>
<line x1="125.28" x2="125.28" y1="440.70" y2="482.60" stroke="#fff" stroke-opacity="0.42" stroke-width="0.7"/>
<rect x="127.82" y="440.70" width="53.66" height="18.20" fill="#e6e6e6"/>
<rect x="127.82" y="458.90" width="53.66" height="6.39" fill="#cbcbcb"/>
<rect x="127.82" y="465.29" width="53.66" height="17.31" fill="#b4b4b4"/>
<line x1="135.41" x2="135.41" y1="440.70" y2="482.60" stroke="#fff" stroke-opacity="0.14" stroke-width="0.5"/>
<line x1="145.08" x2="145.08" y1="440.70" y2="482.60" stroke="#fff" stroke-opacity="0.14" stroke-width="0.5"/>
<line x1="154.76" x2="154.76" y1="440.70" y2="482.60" stroke="#fff" stroke-opacity="0.14" stroke-width="0.5"/>
<line x1="164.43" x2="164.43" y1="440.70" y2="482.60" stroke="#fff" stroke-opacity="0.14" stroke-width="0.5"/>
<line x1="174.11" x2="174.11" y1="440.70" y2="482.60" stroke="#fff" stroke-opacity="0.14" stroke-width="0.5"/>
<line x1="130.57" x2="130.57" y1="440.70" y2="482.60" stroke="#fff" stroke-opacity="0.42" stroke-width="0.7"/>
<line x1="140.24" x2="140.24" y1="440.70" y2="482.60" stroke="#fff" stroke-opacity="0.42" stroke-width="0.7"/>
<line x1="149.92" x2="149.92" y1="440.70" y2="482.60" stroke="#fff" stroke-opacity="0.6" stroke-width="0.7"/>
<line x1="159.59" x2="159.59" y1="440.70" y2="482.60" stroke="#fff" stroke-opacity="0.42" stroke-width="0.7"/>
<line x1="169.27" x2="169.27" y1="440.70" y2="482.60" stroke="#fff" stroke-opacity="0.42" stroke-width="0.7"/>
<line x1="178.94" x2="178.94" y1="440.70" y2="482.60" stroke="#fff" stroke-opacity="0.42" stroke-width="0.7"/>
<rect x="181.48" y="440.70" width="53.66" height="18.20" fill="#e6e6e6"/>
<rect x="181.48" y="458.90" width="53.66" height="6.39" fill="#cbcbcb"/>
<rect x="181.48" y="465.29" width="53.66" height="17.31" fill="#b4b4b4"/>
<line x1="189.07" x2="189.07" y1="440.70" y2="482.60" stroke="#fff" stroke-opacity="0.14" stroke-width="0.5"/>
<line x1="198.74" x2="198.74" y1="440.70" y2="482.60" stroke="#fff" stroke-opacity="0.14" stroke-width="0.5"/>
<line x1="208.42" x2="208.42" y1="440.70" y2="482.60" stroke="#fff" stroke-opacity="0.14" stroke-width="0.5"/>
<line x1="218.09" x2="218.09" y1="440.70" y2="482.60" stroke="#fff" stroke-opacity="0.14" stroke-width="0.5"/>
<line x1="227.77" x2="227.77" y1="440.70" y2="482.60" stroke="#fff" stroke-opacity="0.14" stroke-width="0.5"/>
<line x1="184.23" x2="184.23" y1="440.70" y2="482.60" stroke="#fff" stroke-opacity="0.42" stroke-width="0.7"/>
<line x1="193.90" x2="193.90" y1="440.70" y2="482.60" stroke="#fff" stroke-opacity="0.42" stroke-width="0.7"/>
<line x1="203.58" x2="203.58" y1="440.70" y2="482.60" stroke="#fff" stroke-opacity="0.6" stroke-width="0.7"/>
<line x1="213.25" x2="213.25" y1="440.70" y2="482.60" stroke="#fff" stroke-opacity="0.42" stroke-width="0.7"/>
<line x1="222.93" x2="222.93" y1="440.70" y2="482.60" stroke="#fff" stroke-opacity="0.42" stroke-width="0.7"/>
<line x1="232.60" x2="232.60" y1="440.70" y2="482.60" stroke="#fff" stroke-opacity="0.42" stroke-width="0.7"/>
<rect x="235.14" y="440.70" width="53.66" height="18.20" fill="#e6e6e6"/>
<rect x="235.14" y="458.90" width="53.66" height="6.39" fill="#cbcbcb"/>
<rect x="235.14" y="465.29" width="53.66" height="17.31" fill="#b4b4b4"/>
<line x1="242.73" x2="242.73" y1="440.70" y2="482.60" stroke="#fff" stroke-opacity="0.14" stroke-width="0.5"/>
<line x1="252.40" x2="252.40" y1="440.70" y2="482.60" stroke="#fff" stroke-opacity="0.14" stroke-width="0.5"/>
<line x1="262.08" x2="262.08" y1="440.70" y2="482.60" stroke="#fff" stroke-opacity="0.14" stroke-width="0.5"/>
<line x1="271.75" x2="271.75" y1="440.70" y2="482.60" stroke="#fff" stroke-opacity="0.14" stroke-width="0.5"/>
<line x1="281.43" x2="281.43" y1="440.70" y2="482.60" stroke="#fff" stroke-opacity="0.14" stroke-width="0.5"/>
<line x1="237.89" x2="237.89" y1="440.70" y2="482.60" stroke="#fff" stroke-opacity="0.42" stroke-width="0.7"/>
<line x1="247.56" x2="247.56" y1="440.70" y2="482.60" stroke="#fff" stroke-opacity="0.42" stroke-width="0.7"/>
<line x1="257.24" x2="257.24" y1="440.70" y2="482.60" stroke="#fff" stroke-opacity="0.6" stroke-width="0.7"/>
<line x1="266.92" x2="266.92" y1="440.70" y2="482.60" stroke="#fff" stroke-opacity="0.42" stroke-width="0.7"/>
<line x1="276.59" x2="276.59" y1="440.70" y2="482.60" stroke="#fff" stroke-opacity="0.42" stroke-width="0.7"/>
<line x1="286.26" x2="286.26" y1="440.70" y2="482.60" stroke="#fff" stroke-opacity="0.42" stroke-width="0.7"/>
<rect x="20.50" y="482.60" width="53.66" height="18.20" fill="#e6e6e6"/>
<rect x="20.50" y="500.80" width="53.66" height="6.39" fill="#cbcbcb"/>
<rect x="20.50" y="507.19" width="53.66" height="17.31" fill="#b4b4b4"/>
<line x1="28.09" x2="28.09" y1="482.60" y2="524.50" stroke="#fff" stroke-opacity="0.14" stroke-width="0.5"/>
<line x1="37.76" x2="37.76" y1="482.60" y2="524.50" stroke="#fff" stroke-opacity="0.14" stroke-width="0.5"/>
<line x1="47.44" x2="47.44" y1="482.60" y2="524.50" stroke="#fff" stroke-opacity="0.14" stroke-width="0.5"/>
<line x1="57.11" x2="57.11" y1="482.60" y2="524.50" stroke="#fff" stroke-opacity="0.14" stroke-width="0.5"/>
<line x1="66.79" x2="66.79" y1="482.60" y2="524.50" stroke="#fff" stroke-opacity="0.14" stroke-width="0.5"/>
<line x1="23.25" x2="23.25" y1="482.60" y2="524.50" stroke="#fff" stroke-opacity="0.42" stroke-width="0.7"/>
<line x1="32.92" x2="32.92" y1="482.60" y2="524.50" stroke="#fff" stroke-opacity="0.42" stroke-width="0.7"/>
<line x1="42.60" x2="42.60" y1="482.60" y2="524.50" stroke="#fff" stroke-opacity="0.6" stroke-width="0.7"/>
<line x1="52.28" x2="52.28" y1="482.60" y2="524.50" stroke="#fff" stroke-opacity="0.42" stroke-width="0.7"/>
<line x1="61.95" x2="61.95" y1="482.60" y2="524.50" stroke="#fff" stroke-opacity="0.42" stroke-width="0.7"/>
<line x1="71.62" x2="71.62" y1="482.60" y2="524.50" stroke="#fff" stroke-opacity="0.42" stroke-width="0.7"/>
<rect x="74.16" y="482.60" width="53.66" height="18.20" fill="#e6e6e6"/>
<rect x="74.16" y="500.80" width="53.66" height="6.39" fill="#cbcbcb"/>
<rect x="74.16" y="507.19" width="53.66" height="17.31" fill="#b4b4b4"/>
<line x1="81.75" x2="81.75" y1="482.60" y2="524.50" stroke="#fff" stroke-opacity="0.14" stroke-width="0.5"/>
<line x1="91.42" x2="91.42" y1="482.60" y2="524.50" stroke="#fff" stroke-opacity="0.14" stroke-width="0.5"/>
<line x1="101.10" x2="101.10" y1="482.60" y2="524.50" stroke="#fff" stroke-opacity="0.14" stroke-width="0.5"/>
<line x1="110.77" x2="110.77" y1="482.60" y2="524.50" stroke="#fff" stroke-opacity="0.14" stroke-width="0.5"/>
<line x1="120.45" x2="120.45" y1="482.60" y2="524.50" stroke="#fff" stroke-opacity="0.14" stroke-width="0.5"/>
<line x1="76.91" x2="76.91" y1="482.60" y2="524.50" stroke="#fff" stroke-opacity="0.42" stroke-width="0.7"/>
<line x1="86.58" x2="86.58" y1="482.60" y2="524.50" stroke="#fff" stroke-opacity="0.42" stroke-width="0.7"/>
<line x1="96.26" x2="96.26" y1="482.60" y2="524.50" stroke="#fff" stroke-opacity="0.6" stroke-width="0.7"/>
<line x1="105.93" x2="105.93" y1="482.60" y2="524.50" stroke="#fff" stroke-opacity="0.42" stroke-width="0.7"/>
<line x1="115.61" x2="115.61" y1="482.60" y2="524.50" stroke="#fff" stroke-opacity="0.42" stroke-width="0.7"/>
<line x1="125.28" x2="125.28" y1="482.60" y2="524.50" stroke="#fff" stroke-opacity="0.42" stroke-width="0.7"/>
<rect x="127.82" y="482.60" width="53.66" height="18.20" fill="#e6e6e6"/>
<rect x="127.82" y="500.80" width="53.66" height="6.39" fill="#cbcbcb"/>
<rect x="127.82" y="507.19" width="53.66" height="17.31" fill="#b4b4b4"/>
<line x1="135.41" x2="135.41" y1="482.60" y2="524.50" stroke="#fff" stroke-opacity="0.14" stroke-width="0.5"/>
<line x1="145.08" x2="145.08" y1="482.60" y2="524.50" stroke="#fff" stroke-opacity="0.14" stroke-width="0.5"/>
<line x1="154.76" x2="154.76" y1="482.60" y2="524.50" stroke="#fff" stroke-opacity="0.14" stroke-width="0.5"/>
<line x1="164.43" x2="164.43" y1="482.60" y2="524.50" stroke="#fff" stroke-opacity="0.14" stroke-width="0.5"/>
<line x1="174.11" x2="174.11" y1="482.60" y2="524.50" stroke="#fff" stroke-opacity="0.14" stroke-width="0.5"/>
<line x1="130.57" x2="130.57" y1="482.60" y2="524.50" stroke="#fff" stroke-opacity="0.42" stroke-width="0.7"/>
<line x1="140.24" x2="140.24" y1="482.60" y2="524.50" stroke="#fff" stroke-opacity="0.42" stroke-width="0.7"/>
<line x1="149.92" x2="149.92" y1="482.60" y2="524.50" stroke="#fff" stroke-opacity="0.6" stroke-width="0.7"/>
<line x1="159.59" x2="159.59" y1="482.60" y2="524.50" stroke="#fff" stroke-opacity="0.42" stroke-width="0.7"/>
<line x1="169.27" x2="169.27" y1="482.60" y2="524.50" stroke="#fff" stroke-opacity="0.42" stroke-width="0.7"/>
<line x1="178.94" x2="178.94" y1="482.60" y2="524.50" stroke="#fff" stroke-opacity="0.42" stroke-width="0.7"/>
<rect x="181.48" y="482.60" width="53.66" height="18.20" fill="#e6e6e6"/>
<rect x="181.48" y="500.80" width="53.66" height="6.39" fill="#cbcbcb"/>
<rect x="181.48" y="507.19" width="53.66" height="17.31" fill="#b4b4b4"/>
<line x1="189.07" x2="189.07" y1="482.60" y2="524.50" stroke="#fff" stroke-opacity="0.14" stroke-width="0.5"/>
<line x1="198.74" x2="198.74" y1="482.60" y2="524.50" stroke="#fff" stroke-opacity="0.14" stroke-width="0.5"/>
<line x1="208.42" x2="208.42" y1="482.60" y2="524.50" stroke="#fff" stroke-opacity="0.14" stroke-width="0.5"/>
<line x1="218.09" x2="218.09" y1="482.60" y2="524.50" stroke="#fff" stroke-opacity="0.14" stroke-width="0.5"/>
<line x1="227.77" x2="227.77" y1="482.60" y2="524.50" stroke="#fff" stroke-opacity="0.14" stroke-width="0.5"/>
<line x1="184.23" x2="184.23" y1="482.60" y2="524.50" stroke="#fff" stroke-opacity="0.42" stroke-width="0.7"/>
<line x1="193.90" x2="193.90" y1="482.60" y2="524.50" stroke="#fff" stroke-opacity="0.42" stroke-width="0.7"/>
<line x1="203.58" x2="203.58" y1="482.60" y2="524.50" stroke="#fff" stroke-opacity="0.6" stroke-width="0.7"/>
<line x1="213.25" x2="213.25" y1="482.60" y2="524.50" stroke="#fff" stroke-opacity="0.42" stroke-width="0.7"/>
<line x1="222.93" x2="222.93" y1="482.60" y2="524.50" stroke="#fff" stroke-opacity="0.42" stroke-width="0.7"/>
<line x1="232.60" x2="232.60" y1="482.60" y2="524.50" stroke="#fff" stroke-opacity="0.42" stroke-width="0.7"/>
<rect x="235.14" y="482.60" width="53.66" height="18.20" fill="#e6e6e6"/>
<rect x="235.14" y="500.80" width="53.66" height="6.39" fill="#cbcbcb"/>
<rect x="235.14" y="507.19" width="53.66" height="17.31" fill="#b4b4b4"/>
<line x1="242.73" x2="242.73" y1="482.60" y2="524.50" stroke="#fff" stroke-opacity="0.14" stroke-width="0.5"/>
<line x1="252.40" x2="252.40" y1="482.60" y2="524.50" stroke="#fff" stroke-opacity="0.14" stroke-width="0.5"/>
<line x1="262.08" x2="262.08" y1="482.60" y2="524.50" stroke="#fff" stroke-opacity="0.14" stroke-width="0.5"/>
<line x1="271.75" x2="271.75" y1="482.60" y2="524.50" stroke="#fff" stroke-opacity="0.14" stroke-width="0.5"/>
<line x1="281.43" x2="281.43" y1="482.60" y2="524.50" stroke="#fff" stroke-opacity="0.14" stroke-width="0.5"/>
<line x1="237.89" x2="237.89" y1="482.60" y2="524.50" stroke="#fff" stroke-opacity="0.42" stroke-width="0.7"/>
<line x1="247.56" x2="247.56" y1="482.60" y2="524.50" stroke="#fff" stroke-opacity="0.42" stroke-width="0.7"/>
<line x1="257.24" x2="257.24" y1="482.60" y2="524.50" stroke="#fff" stroke-opacity="0.6" stroke-width="0.7"/>
<line x1="266.92" x2="266.92" y1="482.60" y2="524.50" stroke="#fff" stroke-opacity="0.42" stroke-width="0.7"/>
<line x1="276.59" x2="276.59" y1="482.60" y2="524.50" stroke="#fff" stroke-opacity="0.42" stroke-width="0.7"/>
<line x1="286.26" x2="286.26" y1="482.60" y2="524.50" stroke="#fff" stroke-opacity="0.42" stroke-width="0.7"/>
<rect x="42.60" y="22.96" width="3.10" height="1.87" fill="#F7FBFF"/>
<text transform="translate(46.00,26.50) rotate(0.05)" font-size="4.4" text-anchor="start" fill="#000">*</text>
<rect x="42.60" y="35.74" width="8.51" height="1.87" fill="#2171B5"/>
<rect x="42.60" y="37.87" width="7.74" height="1.87" fill="#084594"/>
<rect x="38.34" y="40.00" width="4.26" height="1.87" fill="#FEE6CE"/>
<text transform="translate(38.04,43.54) rotate(0.05)" font-size="4.4" text-anchor="end" fill="#000">*</text>
<rect x="42.60" y="42.13" width="1.16" height="1.87" fill="#FDAE6B"/>
<text transform="translate(44.06,45.67) rotate(0.05)" font-size="4.4" text-anchor="start" fill="#000">*</text>
<rect x="42.60" y="44.26" width="5.03" height="1.87" fill="#E6550D"/>
<rect x="39.12" y="52.78" width="3.48" height="1.87" fill="#A1D99B"/>
<rect x="27.89" y="61.30" width="14.71" height="1.87" fill="#005A32"/>
<rect x="96.26" y="22.96" width="17.80" height="1.87" fill="#F7FBFF"/>
<text transform="translate(114.36,26.50) rotate(0.05)" font-size="4.4" text-anchor="start" fill="#000">*</text>
<rect x="96.26" y="37.87" width="5.03" height="1.87" fill="#084594"/>
<rect x="96.26" y="40.00" width="20.90" height="1.87" fill="#FEE6CE"/>
<text transform="translate(117.46,43.54) rotate(0.05)" font-size="4.4" text-anchor="start" fill="#000">*</text>
<rect x="96.26" y="42.13" width="16.64" height="1.87" fill="#FDAE6B"/>
<rect x="96.26" y="44.26" width="19.74" height="1.87" fill="#E6550D"/>
<rect x="96.26" y="46.39" width="15.48" height="1.87" fill="#F7FCF5"/>
<rect x="96.26" y="52.78" width="18.58" height="1.87" fill="#A1D99B"/>
<rect x="96.26" y="57.04" width="14.32" height="1.87" fill="#41AB5D"/>
<rect x="96.26" y="61.30" width="20.12" height="1.87" fill="#005A32"/>
<rect x="149.53" y="22.96" width="0.39" height="1.87" fill="#F7FBFF"/>
<text transform="translate(149.23,26.50) rotate(0.05)" font-size="4.4" text-anchor="end" fill="#000">**</text>
<rect x="149.92" y="35.74" width="1.55" height="1.87" fill="#2171B5"/>
<rect x="143.34" y="37.87" width="6.58" height="1.87" fill="#084594"/>
<rect x="149.15" y="40.00" width="0.77" height="1.87" fill="#FEE6CE"/>
<text transform="translate(148.85,43.54) rotate(0.05)" font-size="4.4" text-anchor="end" fill="#000">**</text>
<rect x="149.92" y="42.13" width="4.26" height="1.87" fill="#FDAE6B"/>
<text transform="translate(154.48,45.67) rotate(0.05)" font-size="4.4" text-anchor="start" fill="#000">*</text>
<rect x="149.15" y="44.26" width="0.77" height="1.87" fill="#E6550D"/>
<rect x="149.92" y="52.78" width="15.09" height="1.87" fill="#A1D99B"/>
<text transform="translate(165.31,56.32) rotate(0.05)" font-size="4.4" text-anchor="start" fill="#000">*</text>
<rect x="145.66" y="57.04" width="4.26" height="1.87" fill="#41AB5D"/>
<rect x="149.92" y="61.30" width="0.39" height="1.87" fill="#005A32"/>
<text transform="translate(150.61,64.84) rotate(0.05)" font-size="4.4" text-anchor="start" fill="#000">**</text>
<rect x="203.58" y="22.96" width="0.29" height="1.87" fill="#F7FBFF"/>
<text transform="translate(204.17,26.50) rotate(0.05)" font-size="4.4" text-anchor="start" fill="#000">*</text>
<rect x="203.58" y="35.74" width="1.74" height="1.87" fill="#2171B5"/>
<text transform="translate(205.62,39.28) rotate(0.05)" font-size="4.4" text-anchor="start" fill="#000">*</text>
<rect x="203.58" y="37.87" width="1.45" height="1.87" fill="#084594"/>
<text transform="translate(205.33,41.41) rotate(0.05)" font-size="4.4" text-anchor="start" fill="#000">*</text>
<rect x="203.58" y="40.00" width="1.16" height="1.87" fill="#FEE6CE"/>
<text transform="translate(205.04,43.54) rotate(0.05)" font-size="4.4" text-anchor="start" fill="#000">*</text>
<rect x="203.58" y="42.13" width="1.45" height="1.87" fill="#FDAE6B"/>
<rect x="203.58" y="44.26" width="1.74" height="1.87" fill="#E6550D"/>
<text transform="translate(205.62,47.80) rotate(0.05)" font-size="4.4" text-anchor="start" fill="#000">*</text>
<rect x="203.58" y="46.39" width="0.87" height="1.87" fill="#F7FCF5"/>
<text transform="translate(204.75,49.93) rotate(0.05)" font-size="4.4" text-anchor="start" fill="#000">*</text>
<rect x="203.58" y="52.78" width="1.16" height="1.87" fill="#A1D99B"/>
<rect x="203.58" y="57.04" width="0.58" height="1.87" fill="#41AB5D"/>
<text transform="translate(204.46,60.58) rotate(0.05)" font-size="4.4" text-anchor="start" fill="#000">*</text>
<rect x="203.58" y="61.30" width="0.87" height="1.87" fill="#005A32"/>
<text transform="translate(204.75,64.84) rotate(0.05)" font-size="4.4" text-anchor="start" fill="#000">*</text>
<rect x="257.24" y="22.96" width="7.35" height="1.87" fill="#F7FBFF"/>
<text transform="translate(264.89,26.50) rotate(0.05)" font-size="4.4" text-anchor="start" fill="#000">*</text>
<rect x="250.27" y="35.74" width="6.97" height="1.87" fill="#2171B5"/>
<rect x="254.53" y="37.87" width="2.71" height="1.87" fill="#084594"/>
<rect x="257.24" y="40.00" width="1.94" height="1.87" fill="#FEE6CE"/>
<text transform="translate(259.48,43.54) rotate(0.05)" font-size="4.4" text-anchor="start" fill="#000">*</text>
<rect x="257.24" y="42.13" width="5.03" height="1.87" fill="#FDAE6B"/>
<text transform="translate(262.57,45.67) rotate(0.05)" font-size="4.4" text-anchor="start" fill="#000">**</text>
<rect x="257.24" y="44.26" width="7.35" height="1.87" fill="#E6550D"/>
<rect x="257.24" y="46.39" width="3.10" height="1.87" fill="#F7FCF5"/>
<rect x="257.24" y="52.78" width="6.58" height="1.87" fill="#A1D99B"/>
<rect x="253.76" y="57.04" width="3.48" height="1.87" fill="#41AB5D"/>
<rect x="257.24" y="61.30" width="0.39" height="1.87" fill="#005A32"/>
<rect x="42.60" y="64.86" width="12.00" height="1.87" fill="#F7FBFF"/>
<text transform="translate(54.90,68.40) rotate(0.05)" font-size="4.4" text-anchor="start" fill="#000">***</text>
<rect x="42.60" y="66.99" width="1.94" height="1.87" fill="#DEEBF7"/>
<rect x="42.60" y="71.25" width="18.19" height="1.87" fill="#9ECAE1"/>
<text transform="translate(61.09,74.79) rotate(0.05)" font-size="4.4" text-anchor="start" fill="#000">*</text>
<rect x="42.60" y="75.51" width="11.61" height="1.87" fill="#4292C6"/>
<rect x="42.60" y="77.64" width="14.71" height="1.87" fill="#2171B5"/>
<rect x="42.60" y="79.77" width="9.68" height="1.87" fill="#084594"/>
<rect x="42.60" y="81.90" width="12.77" height="1.87" fill="#FEE6CE"/>
<text transform="translate(55.67,85.44) rotate(0.05)" font-size="4.4" text-anchor="start" fill="#000">*</text>
<rect x="42.60" y="84.03" width="9.68" height="1.87" fill="#FDAE6B"/>
<text transform="translate(52.58,87.57) rotate(0.05)" font-size="4.4" text-anchor="start" fill="#000">**</text>
<rect x="42.60" y="86.16" width="14.71" height="1.87" fill="#E6550D"/>
<text transform="translate(57.61,89.70) rotate(0.05)" font-size="4.4" text-anchor="start" fill="#000">*</text>
<rect x="42.60" y="88.29" width="19.35" height="1.87" fill="#F7FCF5"/>
<text transform="translate(62.25,91.83) rotate(0.05)" font-size="4.4" text-anchor="start" fill="#000">*</text>
<rect x="42.60" y="90.42" width="18.58" height="1.87" fill="#E5F5E0"/>
<rect x="42.60" y="92.55" width="14.32" height="1.87" fill="#C7E9C0"/>
<rect x="42.60" y="94.68" width="17.03" height="1.87" fill="#A1D99B"/>
<text transform="translate(59.93,98.22) rotate(0.05)" font-size="4.4" text-anchor="start" fill="#000">*</text>
<rect x="42.60" y="96.81" width="17.03" height="1.87" fill="#74C476"/>
<rect x="42.60" y="98.94" width="21.67" height="1.87" fill="#41AB5D"/>
<rect x="42.60" y="101.07" width="1.16" height="1.87" fill="#238B45"/>
<text transform="translate(44.06,104.61) rotate(0.05)" font-size="4.4" text-anchor="start" fill="#fff">***</text>
<rect x="42.60" y="103.20" width="11.61" height="1.87" fill="#005A32"/>
<rect x="96.26" y="64.86" width="14.71" height="1.87" fill="#F7FBFF"/>
<text transform="translate(111.27,68.40) rotate(0.05)" font-size="4.4" text-anchor="start" fill="#000">***</text>
<rect x="96.26" y="71.25" width="1.94" height="1.87" fill="#9ECAE1"/>
<rect x="95.87" y="75.51" width="0.39" height="1.87" fill="#4292C6"/>
<rect x="96.26" y="77.64" width="12.00" height="1.87" fill="#2171B5"/>
<rect x="96.26" y="79.77" width="6.97" height="1.87" fill="#084594"/>
<rect x="96.26" y="81.90" width="22.06" height="1.87" fill="#FEE6CE"/>
<rect x="96.26" y="84.03" width="21.28" height="1.87" fill="#FDAE6B"/>
<rect x="96.26" y="86.16" width="17.80" height="1.87" fill="#E6550D"/>
<rect x="96.26" y="88.29" width="15.48" height="1.87" fill="#F7FCF5"/>
<rect x="96.26" y="90.42" width="11.61" height="1.87" fill="#E5F5E0"/>
<rect x="96.26" y="92.55" width="8.13" height="1.87" fill="#C7E9C0"/>
<rect x="96.26" y="94.68" width="15.48" height="1.87" fill="#A1D99B"/>
<rect x="96.26" y="96.81" width="15.87" height="1.87" fill="#74C476"/>
<rect x="96.26" y="98.94" width="22.45" height="1.87" fill="#41AB5D"/>
<rect x="96.26" y="101.07" width="18.58" height="1.87" fill="#e6eee6"/>
<rect x="96.26" y="103.20" width="20.12" height="1.87" fill="#005A32"/>
<rect x="146.05" y="64.86" width="3.87" height="1.87" fill="#F7FBFF"/>
<text transform="translate(145.75,68.40) rotate(0.05)" font-size="4.4" text-anchor="end" fill="#000">**</text>
<rect x="149.92" y="71.25" width="3.87" height="1.87" fill="#9ECAE1"/>
<rect x="149.92" y="75.51" width="2.71" height="1.87" fill="#4292C6"/>
<rect x="147.21" y="77.64" width="2.71" height="1.87" fill="#2171B5"/>
<rect x="141.41" y="79.77" width="8.51" height="1.87" fill="#084594"/>
<rect x="145.66" y="81.90" width="4.26" height="1.87" fill="#FEE6CE"/>
<rect x="149.92" y="84.03" width="5.81" height="1.87" fill="#FDAE6B"/>
<text transform="translate(156.03,87.57) rotate(0.05)" font-size="4.4" text-anchor="start" fill="#000">*</text>
<rect x="149.92" y="92.55" width="5.03" height="1.87" fill="#C7E9C0"/>
<rect x="149.92" y="94.68" width="13.93" height="1.87" fill="#A1D99B"/>
<text transform="translate(164.15,98.22) rotate(0.05)" font-size="4.4" text-anchor="start" fill="#000">*</text>
<rect x="148.76" y="96.81" width="1.16" height="1.87" fill="#74C476"/>
<rect x="132.50" y="101.07" width="17.41" height="1.87" fill="#238B45"/>
<rect x="145.66" y="103.20" width="4.26" height="1.87" fill="#005A32"/>
<rect x="203.58" y="64.86" width="0.29" height="1.87" fill="#F7FBFF"/>
<text transform="translate(204.17,68.40) rotate(0.05)" font-size="4.4" text-anchor="start" fill="#000">*</text>
<rect x="203.58" y="71.25" width="0.87" height="1.87" fill="#9ECAE1"/>
<text transform="translate(204.75,74.79) rotate(0.05)" font-size="4.4" text-anchor="start" fill="#000">*</text>
<rect x="203.58" y="75.51" width="1.16" height="1.87" fill="#4292C6"/>
<rect x="203.58" y="77.64" width="1.74" height="1.87" fill="#2171B5"/>
<text transform="translate(205.62,81.18) rotate(0.05)" font-size="4.4" text-anchor="start" fill="#000">*</text>
<rect x="203.58" y="79.77" width="1.74" height="1.87" fill="#084594"/>
<text transform="translate(205.62,83.31) rotate(0.05)" font-size="4.4" text-anchor="start" fill="#000">*</text>
<rect x="203.58" y="81.90" width="1.16" height="1.87" fill="#FEE6CE"/>
<text transform="translate(205.04,85.44) rotate(0.05)" font-size="4.4" text-anchor="start" fill="#000">*</text>
<rect x="203.58" y="84.03" width="1.74" height="1.87" fill="#FDAE6B"/>
<text transform="translate(205.62,87.57) rotate(0.05)" font-size="4.4" text-anchor="start" fill="#000">*</text>
<rect x="203.58" y="86.16" width="2.03" height="1.87" fill="#E6550D"/>
<rect x="203.58" y="88.29" width="0.58" height="1.87" fill="#F7FCF5"/>
<text transform="translate(204.46,91.83) rotate(0.05)" font-size="4.4" text-anchor="start" fill="#000">*</text>
<rect x="203.58" y="92.55" width="0.87" height="1.87" fill="#C7E9C0"/>
<text transform="translate(204.75,96.09) rotate(0.05)" font-size="4.4" text-anchor="start" fill="#000">*</text>
<rect x="203.58" y="94.68" width="1.16" height="1.87" fill="#A1D99B"/>
<text transform="translate(205.04,98.22) rotate(0.05)" font-size="4.4" text-anchor="start" fill="#000">*</text>
<rect x="203.58" y="96.81" width="1.16" height="1.87" fill="#74C476"/>
<rect x="203.58" y="98.94" width="1.16" height="1.87" fill="#41AB5D"/>
<text transform="translate(205.04,102.48) rotate(0.05)" font-size="4.4" text-anchor="start" fill="#000">*</text>
<rect x="203.58" y="101.07" width="0.87" height="1.87" fill="#238B45"/>
<text transform="translate(204.75,104.61) rotate(0.05)" font-size="4.4" text-anchor="start" fill="#000">*</text>
<rect x="203.58" y="103.20" width="0.87" height="1.87" fill="#005A32"/>
<text transform="translate(204.75,106.74) rotate(0.05)" font-size="4.4" text-anchor="start" fill="#000">*</text>
<rect x="257.24" y="64.86" width="5.03" height="1.87" fill="#F7FBFF"/>
<text transform="translate(262.57,68.40) rotate(0.05)" font-size="4.4" text-anchor="start" fill="#000">*</text>
<rect x="257.24" y="71.25" width="9.29" height="1.87" fill="#9ECAE1"/>
<text transform="translate(266.83,74.79) rotate(0.05)" font-size="4.4" text-anchor="start" fill="#000">*</text>
<rect x="257.24" y="75.51" width="17.42" height="1.87" fill="#4292C6"/>
<rect x="257.24" y="77.64" width="7.35" height="1.87" fill="#2171B5"/>
<rect x="257.24" y="79.77" width="5.42" height="1.87" fill="#084594"/>
<rect x="255.69" y="81.90" width="1.55" height="1.87" fill="#FEE6CE"/>
<rect x="257.24" y="84.03" width="1.94" height="1.87" fill="#FDAE6B"/>
<rect x="257.24" y="86.16" width="15.09" height="1.87" fill="#E6550D"/>
<rect x="257.24" y="92.55" width="3.10" height="1.87" fill="#C7E9C0"/>
<rect x="254.53" y="94.68" width="2.71" height="1.87" fill="#A1D99B"/>
<text transform="translate(254.23,98.22) rotate(0.05)" font-size="4.4" text-anchor="end" fill="#000">**</text>
<rect x="251.44" y="96.81" width="5.81" height="1.87" fill="#74C476"/>
<rect x="250.27" y="98.94" width="6.97" height="1.87" fill="#41AB5D"/>
<rect x="255.31" y="101.07" width="1.94" height="1.87" fill="#238B45"/>
<text transform="translate(255.00,104.61) rotate(0.05)" font-size="4.4" text-anchor="end" fill="#fff">***</text>
<rect x="247.95" y="103.20" width="9.29" height="1.87" fill="#005A32"/>
<rect x="42.60" y="106.76" width="12.77" height="1.87" fill="#F7FBFF"/>
<rect x="42.60" y="108.89" width="14.32" height="1.87" fill="#DEEBF7"/>
<text transform="translate(57.22,112.43) rotate(0.05)" font-size="4.4" text-anchor="start" fill="#000">**</text>
<rect x="42.60" y="111.02" width="15.09" height="1.87" fill="#C6DBEF"/>
<rect x="42.60" y="113.15" width="20.51" height="1.87" fill="#9ECAE1"/>
<text transform="translate(63.41,116.69) rotate(0.05)" font-size="4.4" text-anchor="start" fill="#000">**</text>
<rect x="42.60" y="115.28" width="2.32" height="1.87" fill="#6BAED6"/>
<rect x="42.60" y="117.41" width="22.83" height="1.87" fill="#4292C6"/>
<rect x="42.60" y="119.54" width="20.90" height="1.87" fill="#2171B5"/>
<rect x="42.60" y="121.67" width="20.51" height="1.87" fill="#084594"/>
<text transform="translate(63.41,125.21) rotate(0.05)" font-size="4.4" text-anchor="start" fill="#000">*</text>
<rect x="42.60" y="123.80" width="10.45" height="1.87" fill="#FEE6CE"/>
<text transform="translate(53.35,127.34) rotate(0.05)" font-size="4.4" text-anchor="start" fill="#000">*</text>
<rect x="42.60" y="125.93" width="13.93" height="1.87" fill="#FDAE6B"/>
<rect x="42.60" y="128.06" width="7.35" height="1.87" fill="#E6550D"/>
<rect x="42.60" y="130.19" width="17.41" height="1.87" fill="#F7FCF5"/>
<text transform="translate(60.31,133.73) rotate(0.05)" font-size="4.4" text-anchor="start" fill="#000">*</text>
<rect x="42.60" y="132.32" width="11.61" height="1.87" fill="#E5F5E0"/>
<rect x="42.60" y="134.45" width="3.48" height="1.87" fill="#C7E9C0"/>
<rect x="42.60" y="136.58" width="13.93" height="1.87" fill="#A1D99B"/>
<rect x="42.60" y="138.71" width="19.35" height="1.87" fill="#74C476"/>
<rect x="42.60" y="140.84" width="12.00" height="1.87" fill="#41AB5D"/>
<rect x="42.60" y="145.10" width="11.61" height="1.87" fill="#005A32"/>
<rect x="96.26" y="106.76" width="18.58" height="1.87" fill="#F7FBFF"/>
<text transform="translate(115.14,110.30) rotate(0.05)" font-size="4.4" text-anchor="start" fill="#000">*</text>
<rect x="96.26" y="108.89" width="6.97" height="1.87" fill="#DEEBF7"/>
<rect x="96.26" y="111.02" width="0.77" height="1.87" fill="#C6DBEF"/>
<text transform="translate(97.33,114.56) rotate(0.05)" font-size="4.4" text-anchor="start" fill="#000">**</text>
<rect x="96.26" y="113.15" width="7.74" height="1.87" fill="#9ECAE1"/>
<text transform="translate(104.30,116.69) rotate(0.05)" font-size="4.4" text-anchor="start" fill="#000">**</text>
<rect x="96.26" y="115.28" width="10.45" height="1.87" fill="#6BAED6"/>
<rect x="96.26" y="117.41" width="11.22" height="1.87" fill="#4292C6"/>
<text transform="translate(107.78,120.95) rotate(0.05)" font-size="4.4" text-anchor="start" fill="#000">*</text>
<rect x="96.26" y="119.54" width="14.71" height="1.87" fill="#2171B5"/>
<rect x="96.26" y="121.67" width="15.87" height="1.87" fill="#084594"/>
<rect x="96.26" y="125.93" width="23.22" height="1.87" fill="#FDAE6B"/>
<rect x="96.26" y="128.06" width="15.48" height="1.87" fill="#E6550D"/>
<rect x="96.26" y="130.19" width="10.45" height="1.87" fill="#F7FCF5"/>
<rect x="96.26" y="132.32" width="11.22" height="1.87" fill="#E5F5E0"/>
<rect x="96.26" y="134.45" width="18.96" height="1.87" fill="#C7E9C0"/>
<text transform="translate(115.52,137.99) rotate(0.05)" font-size="4.4" text-anchor="start" fill="#000">*</text>
<rect x="96.26" y="138.71" width="13.55" height="1.87" fill="#74C476"/>
<rect x="95.87" y="140.84" width="0.39" height="1.87" fill="#41AB5D"/>
<rect x="96.26" y="145.10" width="1.16" height="1.87" fill="#005A32"/>
<rect x="141.41" y="106.76" width="8.51" height="1.87" fill="#F7FBFF"/>
<text transform="translate(141.11,110.30) rotate(0.05)" font-size="4.4" text-anchor="end" fill="#000">*</text>
<rect x="137.92" y="108.89" width="12.00" height="1.87" fill="#DEEBF7"/>
<text transform="translate(137.62,112.43) rotate(0.05)" font-size="4.4" text-anchor="end" fill="#000">*</text>
<rect x="134.83" y="111.02" width="15.09" height="1.87" fill="#C6DBEF"/>
<text transform="translate(134.53,114.56) rotate(0.05)" font-size="4.4" text-anchor="end" fill="#000">*</text>
<rect x="132.89" y="113.15" width="17.03" height="1.87" fill="#9ECAE1"/>
<text transform="translate(132.59,116.69) rotate(0.05)" font-size="4.4" text-anchor="end" fill="#000">*</text>
<rect x="142.57" y="115.28" width="7.35" height="1.87" fill="#6BAED6"/>
<rect x="143.34" y="117.41" width="6.58" height="1.87" fill="#4292C6"/>
<text transform="translate(143.04,120.95) rotate(0.05)" font-size="4.4" text-anchor="end" fill="#000">*</text>
<rect x="142.57" y="119.54" width="7.35" height="1.87" fill="#2171B5"/>
<rect x="137.92" y="121.67" width="12.00" height="1.87" fill="#084594"/>
<rect x="144.50" y="134.45" width="5.42" height="1.87" fill="#C7E9C0"/>
<text transform="translate(144.20,137.99) rotate(0.05)" font-size="4.4" text-anchor="end" fill="#000">*</text>
<rect x="145.66" y="136.58" width="4.26" height="1.87" fill="#A1D99B"/>
<rect x="147.98" y="140.84" width="1.94" height="1.87" fill="#41AB5D"/>
<rect x="148.76" y="145.10" width="1.16" height="1.87" fill="#005A32"/>
<rect x="203.58" y="106.76" width="0.58" height="1.87" fill="#F7FBFF"/>
<text transform="translate(204.46,110.30) rotate(0.05)" font-size="4.4" text-anchor="start" fill="#000">*</text>
<rect x="203.58" y="108.89" width="0.87" height="1.87" fill="#DEEBF7"/>
<rect x="203.58" y="111.02" width="1.16" height="1.87" fill="#C6DBEF"/>
<text transform="translate(205.04,114.56) rotate(0.05)" font-size="4.4" text-anchor="start" fill="#000">*</text>
<rect x="203.58" y="113.15" width="1.45" height="1.87" fill="#9ECAE1"/>
<text transform="translate(205.33,116.69) rotate(0.05)" font-size="4.4" text-anchor="start" fill="#000">*</text>
<rect x="203.58" y="115.28" width="1.74" height="1.87" fill="#6BAED6"/>
<text transform="translate(205.62,118.82) rotate(0.05)" font-size="4.4" text-anchor="start" fill="#000">*</text>
<rect x="203.58" y="117.41" width="1.74" height="1.87" fill="#4292C6"/>
<text transform="translate(205.62,120.95) rotate(0.05)" font-size="4.4" text-anchor="start" fill="#000">*</text>
<rect x="203.58" y="119.54" width="1.74" height="1.87" fill="#2171B5"/>
<rect x="203.58" y="121.67" width="1.45" height="1.87" fill="#084594"/>
<text transform="translate(205.33,125.21) rotate(0.05)" font-size="4.4" text-anchor="start" fill="#000">*</text>
<rect x="203.58" y="123.80" width="1.16" height="1.87" fill="#FEE6CE"/>
<text transform="translate(205.04,127.34) rotate(0.05)" font-size="4.4" text-anchor="start" fill="#000">*</text>
<rect x="203.58" y="125.93" width="1.74" height="1.87" fill="#FDAE6B"/>
<text transform="translate(205.62,129.47) rotate(0.05)" font-size="4.4" text-anchor="start" fill="#000">*</text>
<rect x="203.58" y="128.06" width="2.03" height="1.87" fill="#E6550D"/>
<text transform="translate(205.91,131.60) rotate(0.05)" font-size="4.4" text-anchor="start" fill="#000">*</text>
<rect x="203.58" y="130.19" width="1.16" height="1.87" fill="#F7FCF5"/>
<rect x="203.58" y="132.32" width="1.16" height="1.87" fill="#E5F5E0"/>
<text transform="translate(205.04,135.86) rotate(0.05)" font-size="4.4" text-anchor="start" fill="#000">*</text>
<rect x="203.58" y="134.45" width="1.45" height="1.87" fill="#C7E9C0"/>
<text transform="translate(205.33,137.99) rotate(0.05)" font-size="4.4" text-anchor="start" fill="#000">*</text>
<rect x="203.58" y="136.58" width="1.45" height="1.87" fill="#A1D99B"/>
<text transform="translate(205.33,140.12) rotate(0.05)" font-size="4.4" text-anchor="start" fill="#000">*</text>
<rect x="203.58" y="138.71" width="1.16" height="1.87" fill="#74C476"/>
<text transform="translate(205.04,142.25) rotate(0.05)" font-size="4.4" text-anchor="start" fill="#000">*</text>
<rect x="203.58" y="140.84" width="1.16" height="1.87" fill="#41AB5D"/>
<rect x="203.58" y="145.10" width="1.16" height="1.87" fill="#005A32"/>
<text transform="translate(205.04,148.64) rotate(0.05)" font-size="4.4" text-anchor="start" fill="#000">*</text>
<rect x="257.24" y="106.76" width="0.77" height="1.87" fill="#F7FBFF"/>
<text transform="translate(258.31,110.30) rotate(0.05)" font-size="4.4" text-anchor="start" fill="#000">***</text>
<rect x="252.21" y="108.89" width="5.03" height="1.87" fill="#DEEBF7"/>
<text transform="translate(251.91,112.43) rotate(0.05)" font-size="4.4" text-anchor="end" fill="#000">**</text>
<rect x="249.50" y="111.02" width="7.74" height="1.87" fill="#C6DBEF"/>
<text transform="translate(249.20,114.56) rotate(0.05)" font-size="4.4" text-anchor="end" fill="#000">*</text>
<rect x="244.86" y="113.15" width="12.38" height="1.87" fill="#9ECAE1"/>
<text transform="translate(244.56,116.69) rotate(0.05)" font-size="4.4" text-anchor="end" fill="#000">**</text>
<rect x="248.34" y="115.28" width="8.90" height="1.87" fill="#6BAED6"/>
<rect x="249.50" y="117.41" width="7.74" height="1.87" fill="#4292C6"/>
<text transform="translate(249.20,120.95) rotate(0.05)" font-size="4.4" text-anchor="end" fill="#000">*</text>
<rect x="257.24" y="119.54" width="1.55" height="1.87" fill="#2171B5"/>
<rect x="251.44" y="121.67" width="5.81" height="1.87" fill="#084594"/>
<rect x="257.24" y="123.80" width="6.19" height="1.87" fill="#FEE6CE"/>
<text transform="translate(263.73,127.34) rotate(0.05)" font-size="4.4" text-anchor="start" fill="#000">*</text>
<rect x="257.24" y="125.93" width="4.26" height="1.87" fill="#FDAE6B"/>
<rect x="257.24" y="128.06" width="16.25" height="1.87" fill="#E6550D"/>
<rect x="256.47" y="130.19" width="0.77" height="1.87" fill="#F7FCF5"/>
<text transform="translate(256.17,133.73) rotate(0.05)" font-size="4.4" text-anchor="end" fill="#000">**</text>
<rect x="254.92" y="134.45" width="2.32" height="1.87" fill="#C7E9C0"/>
<rect x="252.21" y="136.58" width="5.03" height="1.87" fill="#A1D99B"/>
<text transform="translate(251.91,140.12) rotate(0.05)" font-size="4.4" text-anchor="end" fill="#000">*</text>
<rect x="257.24" y="140.84" width="0.00" height="1.87" fill="#41AB5D"/>
<text transform="translate(257.54,144.38) rotate(0.05)" font-size="4.4" text-anchor="start" fill="#000">**</text>
<rect x="257.24" y="145.10" width="2.32" height="1.87" fill="#005A32"/>
<text transform="translate(259.86,148.64) rotate(0.05)" font-size="4.4" text-anchor="start" fill="#000">*</text>
<rect x="42.60" y="157.18" width="6.58" height="1.87" fill="#6BAED6"/>
<rect x="42.60" y="159.31" width="15.09" height="1.87" fill="#4292C6"/>
<rect x="42.60" y="161.44" width="15.09" height="1.87" fill="#2171B5"/>
<text transform="translate(57.99,164.98) rotate(0.05)" font-size="4.4" text-anchor="start" fill="#000">**</text>
<rect x="42.60" y="163.57" width="13.93" height="1.87" fill="#084594"/>
<rect x="42.60" y="167.83" width="1.55" height="1.87" fill="#FDAE6B"/>
<text transform="translate(44.45,171.37) rotate(0.05)" font-size="4.4" text-anchor="start" fill="#000">*</text>
<rect x="42.60" y="169.96" width="3.48" height="1.87" fill="#E6550D"/>
<rect x="40.66" y="176.35" width="1.94" height="1.87" fill="#C7E9C0"/>
<text transform="translate(40.37,179.89) rotate(0.05)" font-size="4.4" text-anchor="end" fill="#000">**</text>
<rect x="42.60" y="180.61" width="4.64" height="1.87" fill="#74C476"/>
<text transform="translate(47.54,184.15) rotate(0.05)" font-size="4.4" text-anchor="start" fill="#000">**</text>
<rect x="96.26" y="148.66" width="15.87" height="1.87" fill="#F7FBFF"/>
<text transform="translate(112.43,152.20) rotate(0.05)" font-size="4.4" text-anchor="start" fill="#000">*</text>
<rect x="96.26" y="150.79" width="14.71" height="1.87" fill="#DEEBF7"/>
<rect x="96.26" y="161.44" width="22.83" height="1.87" fill="#2171B5"/>
<rect x="96.26" y="165.70" width="21.28" height="1.87" fill="#FEE6CE"/>
<rect x="96.26" y="167.83" width="16.64" height="1.87" fill="#FDAE6B"/>
<rect x="96.26" y="172.09" width="17.42" height="1.87" fill="#F7FCF5"/>
<rect x="96.26" y="176.35" width="19.74" height="1.87" fill="#C7E9C0"/>
<rect x="96.26" y="178.48" width="26.32" height="1.87" fill="#A1D99B"/>
<rect x="96.26" y="180.61" width="13.55" height="1.87" fill="#74C476"/>
<rect x="96.26" y="184.87" width="14.32" height="1.87" fill="#238B45"/>
<rect x="96.26" y="187.00" width="15.87" height="1.87" fill="#005A32"/>
<rect x="143.34" y="157.18" width="6.58" height="1.87" fill="#6BAED6"/>
<text transform="translate(143.04,160.72) rotate(0.05)" font-size="4.4" text-anchor="end" fill="#000">*</text>
<rect x="149.53" y="161.44" width="0.39" height="1.87" fill="#2171B5"/>
<text transform="translate(149.23,164.98) rotate(0.05)" font-size="4.4" text-anchor="end" fill="#000">*</text>
<rect x="149.92" y="167.83" width="13.54" height="1.87" fill="#FDAE6B"/>
<text transform="translate(163.76,171.37) rotate(0.05)" font-size="4.4" text-anchor="start" fill="#000">*</text>
<rect x="149.92" y="178.48" width="16.25" height="1.87" fill="#A1D99B"/>
<text transform="translate(166.47,182.02) rotate(0.05)" font-size="4.4" text-anchor="start" fill="#000">*</text>
<rect x="203.58" y="148.66" width="0.87" height="1.87" fill="#F7FBFF"/>
<text transform="translate(204.75,152.20) rotate(0.05)" font-size="4.4" text-anchor="start" fill="#000">*</text>
<rect x="203.58" y="150.79" width="1.16" height="1.87" fill="#DEEBF7"/>
<text transform="translate(205.04,154.33) rotate(0.05)" font-size="4.4" text-anchor="start" fill="#000">*</text>
<rect x="203.58" y="152.92" width="1.16" height="1.87" fill="#C6DBEF"/>
<rect x="203.58" y="155.05" width="1.45" height="1.87" fill="#9ECAE1"/>
<text transform="translate(205.33,158.59) rotate(0.05)" font-size="4.4" text-anchor="start" fill="#000">*</text>
<rect x="203.58" y="157.18" width="2.03" height="1.87" fill="#6BAED6"/>
<text transform="translate(205.91,160.72) rotate(0.05)" font-size="4.4" text-anchor="start" fill="#000">*</text>
<rect x="203.58" y="159.31" width="2.03" height="1.87" fill="#4292C6"/>
<text transform="translate(205.91,162.85) rotate(0.05)" font-size="4.4" text-anchor="start" fill="#000">*</text>
<rect x="203.58" y="161.44" width="1.74" height="1.87" fill="#2171B5"/>
<text transform="translate(205.62,164.98) rotate(0.05)" font-size="4.4" text-anchor="start" fill="#000">*</text>
<rect x="203.58" y="163.57" width="1.45" height="1.87" fill="#084594"/>
<rect x="203.58" y="165.70" width="1.45" height="1.87" fill="#FEE6CE"/>
<text transform="translate(205.33,169.24) rotate(0.05)" font-size="4.4" text-anchor="start" fill="#000">*</text>
<rect x="203.58" y="167.83" width="2.32" height="1.87" fill="#FDAE6B"/>
<text transform="translate(206.20,171.37) rotate(0.05)" font-size="4.4" text-anchor="start" fill="#000">*</text>
<rect x="203.58" y="169.96" width="2.32" height="1.87" fill="#E6550D"/>
<text transform="translate(206.20,173.50) rotate(0.05)" font-size="4.4" text-anchor="start" fill="#000">*</text>
<rect x="203.58" y="172.09" width="1.16" height="1.87" fill="#F7FCF5"/>
<text transform="translate(205.04,175.63) rotate(0.05)" font-size="4.4" text-anchor="start" fill="#000">*</text>
<rect x="203.58" y="174.22" width="1.16" height="1.87" fill="#E5F5E0"/>
<rect x="203.58" y="176.35" width="1.45" height="1.87" fill="#C7E9C0"/>
<text transform="translate(205.33,179.89) rotate(0.05)" font-size="4.4" text-anchor="start" fill="#000">*</text>
<rect x="203.58" y="178.48" width="1.45" height="1.87" fill="#A1D99B"/>
<text transform="translate(205.33,182.02) rotate(0.05)" font-size="4.4" text-anchor="start" fill="#000">*</text>
<rect x="203.58" y="180.61" width="1.16" height="1.87" fill="#74C476"/>
<text transform="translate(205.04,184.15) rotate(0.05)" font-size="4.4" text-anchor="start" fill="#000">*</text>
<rect x="203.58" y="182.74" width="1.16" height="1.87" fill="#41AB5D"/>
<text transform="translate(205.04,186.28) rotate(0.05)" font-size="4.4" text-anchor="start" fill="#000">*</text>
<rect x="203.58" y="184.87" width="1.16" height="1.87" fill="#238B45"/>
<rect x="203.58" y="187.00" width="1.16" height="1.87" fill="#005A32"/>
<text transform="translate(205.04,190.54) rotate(0.05)" font-size="4.4" text-anchor="start" fill="#000">*</text>
<rect x="257.24" y="148.66" width="2.32" height="1.87" fill="#F7FBFF"/>
<text transform="translate(259.86,152.20) rotate(0.05)" font-size="4.4" text-anchor="start" fill="#000">*</text>
<rect x="257.24" y="150.79" width="0.00" height="1.87" fill="#DEEBF7"/>
<text transform="translate(257.54,154.33) rotate(0.05)" font-size="4.4" text-anchor="start" fill="#000">***</text>
<rect x="249.50" y="157.18" width="7.74" height="1.87" fill="#6BAED6"/>
<rect x="253.76" y="159.31" width="3.48" height="1.87" fill="#4292C6"/>
<rect x="252.60" y="161.44" width="4.64" height="1.87" fill="#2171B5"/>
<text transform="translate(252.30,164.98) rotate(0.05)" font-size="4.4" text-anchor="end" fill="#000">**</text>
<rect x="252.60" y="163.57" width="4.64" height="1.87" fill="#084594"/>
<rect x="257.24" y="165.70" width="1.16" height="1.87" fill="#FEE6CE"/>
<text transform="translate(258.70,169.24) rotate(0.05)" font-size="4.4" text-anchor="start" fill="#000">***</text>
<rect x="257.24" y="167.83" width="4.26" height="1.87" fill="#FDAE6B"/>
<text transform="translate(261.80,171.37) rotate(0.05)" font-size="4.4" text-anchor="start" fill="#000">**</text>
<rect x="257.24" y="172.09" width="2.71" height="1.87" fill="#F7FCF5"/>
<rect x="257.24" y="176.35" width="5.42" height="1.87" fill="#C7E9C0"/>
<rect x="257.24" y="178.48" width="4.26" height="1.87" fill="#A1D99B"/>
<rect x="257.24" y="180.61" width="1.16" height="1.87" fill="#74C476"/>
<text transform="translate(258.70,184.15) rotate(0.05)" font-size="4.4" text-anchor="start" fill="#000">**</text>
<rect x="257.24" y="182.74" width="2.71" height="1.87" fill="#41AB5D"/>
<rect x="257.24" y="184.87" width="4.26" height="1.87" fill="#238B45"/>
<rect x="257.24" y="187.00" width="2.71" height="1.87" fill="#005A32"/>
<rect x="40.28" y="190.56" width="2.32" height="1.87" fill="#F7FBFF"/>
<text transform="translate(40.28,194.10) rotate(0.05)" font-size="4.4" text-anchor="start" fill="#000">***</text>
<rect x="37.96" y="192.69" width="4.64" height="1.87" fill="#DEEBF7"/>
<text transform="translate(37.66,196.23) rotate(0.05)" font-size="4.4" text-anchor="end" fill="#000">**</text>
<rect x="36.02" y="194.82" width="6.58" height="1.87" fill="#C6DBEF"/>
<rect x="40.28" y="196.95" width="2.32" height="1.87" fill="#9ECAE1"/>
<rect x="42.60" y="199.08" width="6.58" height="1.87" fill="#6BAED6"/>
<rect x="42.60" y="201.21" width="21.67" height="1.87" fill="#4292C6"/>
<text transform="translate(64.57,204.75) rotate(0.05)" font-size="4.4" text-anchor="start" fill="#000">*</text>
<rect x="42.60" y="203.34" width="11.61" height="1.87" fill="#2171B5"/>
<rect x="42.60" y="205.47" width="15.48" height="1.87" fill="#084594"/>
<text transform="translate(58.38,209.01) rotate(0.05)" font-size="4.4" text-anchor="start" fill="#000">**</text>
<rect x="42.60" y="207.60" width="3.10" height="1.87" fill="#FEE6CE"/>
<rect x="35.25" y="211.86" width="7.35" height="1.87" fill="#E6550D"/>
<rect x="40.66" y="213.99" width="1.94" height="1.87" fill="#F7FCF5"/>
<rect x="42.60" y="216.12" width="2.32" height="1.87" fill="#E5F5E0"/>
<rect x="42.60" y="218.25" width="3.48" height="1.87" fill="#C7E9C0"/>
<text transform="translate(46.38,221.79) rotate(0.05)" font-size="4.4" text-anchor="start" fill="#000">**</text>
<rect x="40.28" y="220.38" width="2.32" height="1.87" fill="#A1D99B"/>
<rect x="42.60" y="222.51" width="1.16" height="1.87" fill="#74C476"/>
<rect x="39.12" y="224.64" width="3.48" height="1.87" fill="#41AB5D"/>
<rect x="42.60" y="226.77" width="3.10" height="1.87" fill="#238B45"/>
<rect x="96.26" y="190.56" width="24.38" height="1.87" fill="#F7FBFF"/>
<text transform="translate(120.94,194.10) rotate(0.05)" font-size="4.4" text-anchor="start" fill="#000">*</text>
<rect x="96.26" y="192.69" width="25.16" height="1.87" fill="#DEEBF7"/>
<rect x="96.26" y="196.95" width="21.28" height="1.87" fill="#9ECAE1"/>
<rect x="96.26" y="199.08" width="22.83" height="1.87" fill="#6BAED6"/>
<rect x="96.26" y="201.21" width="24.38" height="1.87" fill="#4292C6"/>
<rect x="96.26" y="203.34" width="23.99" height="1.87" fill="#2171B5"/>
<rect x="96.26" y="205.47" width="26.32" height="1.87" fill="#084594"/>
<rect x="96.26" y="213.99" width="27.48" height="1.87" fill="#F7FCF5"/>
<text transform="translate(124.04,217.53) rotate(0.05)" font-size="4.4" text-anchor="start" fill="#000">*</text>
<rect x="96.26" y="216.12" width="22.83" height="1.87" fill="#E5F5E0"/>
<rect x="96.26" y="218.25" width="19.74" height="1.87" fill="#C7E9C0"/>
<rect x="96.26" y="220.38" width="22.06" height="1.87" fill="#A1D99B"/>
<rect x="96.26" y="222.51" width="16.64" height="1.87" fill="#74C476"/>
<rect x="96.26" y="224.64" width="21.28" height="1.87" fill="#41AB5D"/>
<rect x="96.26" y="226.77" width="17.42" height="1.87" fill="#238B45"/>
<text transform="translate(113.97,230.31) rotate(0.05)" font-size="4.4" text-anchor="start" fill="#fff">**</text>
<rect x="96.26" y="228.90" width="23.99" height="1.87" fill="#005A32"/>
<rect x="149.92" y="190.56" width="19.35" height="1.87" fill="#F7FBFF"/>
<text transform="translate(169.57,194.10) rotate(0.05)" font-size="4.4" text-anchor="start" fill="#000">*</text>
<rect x="149.92" y="192.69" width="21.28" height="1.87" fill="#DEEBF7"/>
<rect x="149.92" y="194.82" width="11.61" height="1.87" fill="#C6DBEF"/>
<text transform="translate(161.83,198.36) rotate(0.05)" font-size="4.4" text-anchor="start" fill="#000">*</text>
<rect x="149.92" y="196.95" width="17.03" height="1.87" fill="#9ECAE1"/>
<text transform="translate(167.25,200.49) rotate(0.05)" font-size="4.4" text-anchor="start" fill="#000">*</text>
<rect x="149.92" y="199.08" width="13.93" height="1.87" fill="#6BAED6"/>
<rect x="149.92" y="213.99" width="1.55" height="1.87" fill="#F7FCF5"/>
<text transform="translate(151.77,217.53) rotate(0.05)" font-size="4.4" text-anchor="start" fill="#000">**</text>
<rect x="147.21" y="216.12" width="2.71" height="1.87" fill="#E5F5E0"/>
<text transform="translate(146.91,219.66) rotate(0.05)" font-size="4.4" text-anchor="end" fill="#000">*</text>
<rect x="149.92" y="218.25" width="1.55" height="1.87" fill="#C7E9C0"/>
<rect x="149.92" y="220.38" width="1.94" height="1.87" fill="#A1D99B"/>
<rect x="149.92" y="222.51" width="2.71" height="1.87" fill="#74C476"/>
<rect x="149.92" y="224.64" width="3.87" height="1.87" fill="#41AB5D"/>
<rect x="144.50" y="226.77" width="5.42" height="1.87" fill="#238B45"/>
<text transform="translate(144.20,230.31) rotate(0.05)" font-size="4.4" text-anchor="end" fill="#000">**</text>
<rect x="149.92" y="228.90" width="8.51" height="1.87" fill="#005A32"/>
<rect x="203.58" y="190.56" width="1.94" height="1.87" fill="#F7FBFF"/>
<text transform="translate(205.81,194.10) rotate(0.05)" font-size="4.4" text-anchor="start" fill="#000">*</text>
<rect x="203.58" y="192.69" width="1.16" height="1.87" fill="#DEEBF7"/>
<text transform="translate(205.04,196.23) rotate(0.05)" font-size="4.4" text-anchor="start" fill="#000">*</text>
<rect x="203.58" y="194.82" width="1.16" height="1.87" fill="#C6DBEF"/>
<text transform="translate(205.04,198.36) rotate(0.05)" font-size="4.4" text-anchor="start" fill="#000">*</text>
<rect x="203.58" y="196.95" width="1.55" height="1.87" fill="#9ECAE1"/>
<rect x="203.58" y="199.08" width="1.55" height="1.87" fill="#6BAED6"/>
<text transform="translate(205.43,202.62) rotate(0.05)" font-size="4.4" text-anchor="start" fill="#000">*</text>
<rect x="203.58" y="201.21" width="1.16" height="1.87" fill="#4292C6"/>
<text transform="translate(205.04,204.75) rotate(0.05)" font-size="4.4" text-anchor="start" fill="#000">*</text>
<rect x="203.58" y="203.34" width="0.77" height="1.87" fill="#2171B5"/>
<text transform="translate(204.65,206.88) rotate(0.05)" font-size="4.4" text-anchor="start" fill="#000">*</text>
<rect x="203.58" y="205.47" width="1.16" height="1.87" fill="#084594"/>
<text transform="translate(205.04,209.01) rotate(0.05)" font-size="4.4" text-anchor="start" fill="#000">*</text>
<rect x="203.58" y="207.60" width="1.94" height="1.87" fill="#FEE6CE"/>
<rect x="203.58" y="209.73" width="2.71" height="1.87" fill="#FDAE6B"/>
<text transform="translate(206.59,213.27) rotate(0.05)" font-size="4.4" text-anchor="start" fill="#000">*</text>
<rect x="203.58" y="211.86" width="4.64" height="1.87" fill="#E6550D"/>
<rect x="203.58" y="213.99" width="1.94" height="1.87" fill="#F7FCF5"/>
<text transform="translate(205.81,217.53) rotate(0.05)" font-size="4.4" text-anchor="start" fill="#000">*</text>
<rect x="203.58" y="216.12" width="1.55" height="1.87" fill="#E5F5E0"/>
<text transform="translate(205.43,219.66) rotate(0.05)" font-size="4.4" text-anchor="start" fill="#000">*</text>
<rect x="203.58" y="218.25" width="1.55" height="1.87" fill="#C7E9C0"/>
<rect x="203.58" y="220.38" width="1.16" height="1.87" fill="#A1D99B"/>
<text transform="translate(205.04,223.92) rotate(0.05)" font-size="4.4" text-anchor="start" fill="#000">*</text>
<rect x="203.58" y="222.51" width="1.16" height="1.87" fill="#74C476"/>
<text transform="translate(205.04,226.05) rotate(0.05)" font-size="4.4" text-anchor="start" fill="#000">*</text>
<rect x="203.58" y="224.64" width="1.16" height="1.87" fill="#41AB5D"/>
<text transform="translate(205.04,228.18) rotate(0.05)" font-size="4.4" text-anchor="start" fill="#000">*</text>
<rect x="203.58" y="226.77" width="0.77" height="1.87" fill="#238B45"/>
<text transform="translate(204.65,230.31) rotate(0.05)" font-size="4.4" text-anchor="start" fill="#000">*</text>
<rect x="203.58" y="228.90" width="0.77" height="1.87" fill="#005A32"/>
<rect x="257.24" y="190.56" width="5.42" height="1.87" fill="#F7FBFF"/>
<text transform="translate(262.96,194.10) rotate(0.05)" font-size="4.4" text-anchor="start" fill="#000">*</text>
<rect x="257.24" y="192.69" width="5.03" height="1.87" fill="#DEEBF7"/>
<rect x="257.24" y="194.82" width="4.64" height="1.87" fill="#C6DBEF"/>
<rect x="257.24" y="196.95" width="1.16" height="1.87" fill="#9ECAE1"/>
<rect x="257.24" y="199.08" width="3.87" height="1.87" fill="#6BAED6"/>
<text transform="translate(261.41,202.62) rotate(0.05)" font-size="4.4" text-anchor="start" fill="#000">**</text>
<rect x="243.70" y="201.21" width="13.54" height="1.87" fill="#4292C6"/>
<text transform="translate(243.40,204.75) rotate(0.05)" font-size="4.4" text-anchor="end" fill="#000">*</text>
<rect x="251.82" y="203.34" width="5.42" height="1.87" fill="#2171B5"/>
<text transform="translate(251.52,206.88) rotate(0.05)" font-size="4.4" text-anchor="end" fill="#fff">**</text>
<rect x="246.79" y="205.47" width="10.45" height="1.87" fill="#084594"/>
<rect x="257.24" y="207.60" width="18.19" height="1.87" fill="#FEE6CE"/>
<rect x="257.24" y="209.73" width="17.03" height="1.87" fill="#FDAE6B"/>
<rect x="257.24" y="211.86" width="13.16" height="1.87" fill="#E6550D"/>
<rect x="257.24" y="213.99" width="16.25" height="1.87" fill="#F7FCF5"/>
<text transform="translate(273.79,217.53) rotate(0.05)" font-size="4.4" text-anchor="start" fill="#000">*</text>
<rect x="257.24" y="216.12" width="14.32" height="1.87" fill="#E5F5E0"/>
<rect x="257.24" y="218.25" width="11.61" height="1.87" fill="#C7E9C0"/>
<rect x="257.24" y="220.38" width="16.25" height="1.87" fill="#A1D99B"/>
<rect x="257.24" y="222.51" width="15.09" height="1.87" fill="#74C476"/>
<rect x="257.24" y="224.64" width="13.16" height="1.87" fill="#41AB5D"/>
<rect x="257.24" y="226.77" width="11.61" height="1.87" fill="#238B45"/>
<text transform="translate(269.15,230.31) rotate(0.05)" font-size="4.4" text-anchor="start" fill="#fff">**</text>
<rect x="257.24" y="228.90" width="12.77" height="1.87" fill="#005A32"/>
<rect x="33.31" y="232.46" width="9.29" height="1.87" fill="#F7FBFF"/>
<text transform="translate(33.01,236.00) rotate(0.05)" font-size="4.4" text-anchor="end" fill="#000">***</text>
<rect x="26.73" y="234.59" width="15.87" height="1.87" fill="#DEEBF7"/>
<rect x="33.31" y="236.72" width="9.29" height="1.87" fill="#C6DBEF"/>
<text transform="translate(33.01,240.26) rotate(0.05)" font-size="4.4" text-anchor="end" fill="#000">**</text>
<rect x="26.35" y="238.85" width="16.25" height="1.87" fill="#9ECAE1"/>
<rect x="34.09" y="240.98" width="8.51" height="1.87" fill="#6BAED6"/>
<text transform="translate(33.79,244.52) rotate(0.05)" font-size="4.4" text-anchor="end" fill="#000">**</text>
<rect x="27.89" y="243.11" width="14.71" height="1.87" fill="#4292C6"/>
<rect x="30.22" y="245.24" width="12.38" height="1.87" fill="#2171B5"/>
<rect x="32.15" y="247.37" width="10.45" height="1.87" fill="#084594"/>
<rect x="33.31" y="249.50" width="9.29" height="1.87" fill="#FEE6CE"/>
<text transform="translate(33.01,253.04) rotate(0.05)" font-size="4.4" text-anchor="end" fill="#000">***</text>
<rect x="29.05" y="251.63" width="13.55" height="1.87" fill="#FDAE6B"/>
<text transform="translate(28.75,255.17) rotate(0.05)" font-size="4.4" text-anchor="end" fill="#000">*</text>
<rect x="24.80" y="253.76" width="17.80" height="1.87" fill="#E6550D"/>
<rect x="27.51" y="255.89" width="15.09" height="1.87" fill="#F7FCF5"/>
<rect x="31.38" y="258.02" width="11.22" height="1.87" fill="#E5F5E0"/>
<text transform="translate(31.08,261.56) rotate(0.05)" font-size="4.4" text-anchor="end" fill="#000">**</text>
<rect x="32.15" y="260.15" width="10.45" height="1.87" fill="#C7E9C0"/>
<text transform="translate(31.85,263.69) rotate(0.05)" font-size="4.4" text-anchor="end" fill="#000">*</text>
<rect x="31.38" y="262.28" width="11.22" height="1.87" fill="#A1D99B"/>
<text transform="translate(31.08,265.82) rotate(0.05)" font-size="4.4" text-anchor="end" fill="#000">***</text>
<rect x="27.51" y="264.41" width="15.09" height="1.87" fill="#74C476"/>
<rect x="29.05" y="266.54" width="13.55" height="1.87" fill="#41AB5D"/>
<rect x="34.09" y="268.67" width="8.51" height="1.87" fill="#238B45"/>
<text transform="translate(33.79,272.21) rotate(0.05)" font-size="4.4" text-anchor="end" fill="#fff">**</text>
<rect x="28.67" y="270.80" width="13.93" height="1.87" fill="#005A32"/>
<rect x="96.26" y="232.46" width="23.99" height="1.87" fill="#F7FBFF"/>
<text transform="translate(120.55,236.00) rotate(0.05)" font-size="4.4" text-anchor="start" fill="#000">*</text>
<rect x="96.26" y="240.98" width="12.00" height="1.87" fill="#6BAED6"/>
<rect x="96.26" y="243.11" width="22.06" height="1.87" fill="#4292C6"/>
<rect x="96.26" y="245.24" width="20.90" height="1.87" fill="#2171B5"/>
<rect x="96.26" y="247.37" width="18.58" height="1.87" fill="#084594"/>
<rect x="149.92" y="232.46" width="8.13" height="1.87" fill="#F7FBFF"/>
<text transform="translate(158.35,236.00) rotate(0.05)" font-size="4.4" text-anchor="start" fill="#000">**</text>
<rect x="149.92" y="240.98" width="3.87" height="1.87" fill="#6BAED6"/>
<rect x="149.92" y="243.11" width="14.71" height="1.87" fill="#4292C6"/>
<rect x="149.92" y="245.24" width="12.77" height="1.87" fill="#2171B5"/>
<rect x="149.92" y="247.37" width="11.22" height="1.87" fill="#084594"/>
<rect x="203.58" y="232.46" width="2.71" height="1.87" fill="#F7FBFF"/>
<text transform="translate(206.59,236.00) rotate(0.05)" font-size="4.4" text-anchor="start" fill="#000">*</text>
<rect x="203.58" y="234.59" width="2.71" height="1.87" fill="#DEEBF7"/>
<text transform="translate(206.59,238.13) rotate(0.05)" font-size="4.4" text-anchor="start" fill="#000">*</text>
<rect x="203.58" y="236.72" width="3.87" height="1.87" fill="#C6DBEF"/>
<rect x="203.58" y="238.85" width="3.10" height="1.87" fill="#9ECAE1"/>
<rect x="203.58" y="240.98" width="2.71" height="1.87" fill="#6BAED6"/>
<rect x="203.58" y="243.11" width="1.94" height="1.87" fill="#4292C6"/>
<text transform="translate(205.81,246.65) rotate(0.05)" font-size="4.4" text-anchor="start" fill="#000">*</text>
<rect x="203.58" y="245.24" width="1.94" height="1.87" fill="#2171B5"/>
<text transform="translate(205.81,248.78) rotate(0.05)" font-size="4.4" text-anchor="start" fill="#000">*</text>
<rect x="203.58" y="247.37" width="1.55" height="1.87" fill="#084594"/>
<text transform="translate(205.43,250.91) rotate(0.05)" font-size="4.4" text-anchor="start" fill="#000">*</text>
<rect x="203.58" y="249.50" width="5.81" height="1.87" fill="#FEE6CE"/>
<rect x="203.58" y="251.63" width="7.35" height="1.87" fill="#FDAE6B"/>
<rect x="203.58" y="253.76" width="4.26" height="1.87" fill="#E6550D"/>
<rect x="203.58" y="255.89" width="2.71" height="1.87" fill="#F7FCF5"/>
<text transform="translate(206.59,259.43) rotate(0.05)" font-size="4.4" text-anchor="start" fill="#000">*</text>
<rect x="203.58" y="258.02" width="2.71" height="1.87" fill="#E5F5E0"/>
<text transform="translate(206.59,261.56) rotate(0.05)" font-size="4.4" text-anchor="start" fill="#000">*</text>
<rect x="203.58" y="260.15" width="3.10" height="1.87" fill="#C7E9C0"/>
<rect x="203.58" y="262.28" width="2.71" height="1.87" fill="#A1D99B"/>
<rect x="203.58" y="264.41" width="2.32" height="1.87" fill="#74C476"/>
<text transform="translate(206.20,267.95) rotate(0.05)" font-size="4.4" text-anchor="start" fill="#000">*</text>
<rect x="203.58" y="266.54" width="1.94" height="1.87" fill="#41AB5D"/>
<text transform="translate(205.81,270.08) rotate(0.05)" font-size="4.4" text-anchor="start" fill="#000">*</text>
<rect x="203.58" y="268.67" width="1.55" height="1.87" fill="#238B45"/>
<text transform="translate(205.43,272.21) rotate(0.05)" font-size="4.4" text-anchor="start" fill="#000">*</text>
<rect x="203.58" y="270.80" width="1.16" height="1.87" fill="#005A32"/>
<text transform="translate(205.04,274.34) rotate(0.05)" font-size="4.4" text-anchor="start" fill="#000">*</text>
<rect x="257.24" y="232.46" width="3.87" height="1.87" fill="#F7FBFF"/>
<text transform="translate(261.41,236.00) rotate(0.05)" font-size="4.4" text-anchor="start" fill="#000">**</text>
<rect x="257.24" y="234.59" width="0.77" height="1.87" fill="#DEEBF7"/>
<rect x="257.24" y="236.72" width="4.26" height="1.87" fill="#C6DBEF"/>
<text transform="translate(261.80,240.26) rotate(0.05)" font-size="4.4" text-anchor="start" fill="#000">*</text>
<rect x="255.69" y="238.85" width="1.55" height="1.87" fill="#9ECAE1"/>
<rect x="257.24" y="240.98" width="7.74" height="1.87" fill="#6BAED6"/>
<rect x="257.24" y="243.11" width="3.87" height="1.87" fill="#4292C6"/>
<text transform="translate(261.41,246.65) rotate(0.05)" font-size="4.4" text-anchor="start" fill="#fff">**</text>
<rect x="257.24" y="245.24" width="5.03" height="1.87" fill="#2171B5"/>
<text transform="translate(262.57,248.78) rotate(0.05)" font-size="4.4" text-anchor="start" fill="#000">**</text>
<rect x="256.47" y="247.37" width="0.77" height="1.87" fill="#084594"/>
<text transform="translate(256.17,250.91) rotate(0.05)" font-size="4.4" text-anchor="end" fill="#000">***</text>
<rect x="257.24" y="249.50" width="7.35" height="1.87" fill="#FEE6CE"/>
<text transform="translate(264.89,253.04) rotate(0.05)" font-size="4.4" text-anchor="start" fill="#000">*</text>
<rect x="257.24" y="251.63" width="6.19" height="1.87" fill="#FDAE6B"/>
<rect x="257.24" y="253.76" width="1.94" height="1.87" fill="#E6550D"/>
<rect x="257.24" y="255.89" width="2.71" height="1.87" fill="#F7FCF5"/>
<text transform="translate(260.25,259.43) rotate(0.05)" font-size="4.4" text-anchor="start" fill="#000">*</text>
<rect x="257.24" y="258.02" width="3.87" height="1.87" fill="#E5F5E0"/>
<rect x="257.24" y="260.15" width="7.74" height="1.87" fill="#C7E9C0"/>
<rect x="257.24" y="262.28" width="5.42" height="1.87" fill="#A1D99B"/>
<rect x="34.09" y="274.36" width="8.51" height="1.87" fill="#F7FBFF"/>
<text transform="translate(33.79,277.90) rotate(0.05)" font-size="4.4" text-anchor="end" fill="#000">*</text>
<rect x="29.83" y="280.75" width="12.77" height="1.87" fill="#9ECAE1"/>
<rect x="32.92" y="282.88" width="9.68" height="1.87" fill="#6BAED6"/>
<text transform="translate(32.62,286.42) rotate(0.05)" font-size="4.4" text-anchor="end" fill="#000">*</text>
<rect x="27.51" y="287.14" width="15.09" height="1.87" fill="#2171B5"/>
<rect x="33.31" y="289.27" width="9.29" height="1.87" fill="#084594"/>
<rect x="27.89" y="291.40" width="14.71" height="1.87" fill="#FEE6CE"/>
<text transform="translate(27.59,294.94) rotate(0.05)" font-size="4.4" text-anchor="end" fill="#000">*</text>
<rect x="30.22" y="295.66" width="12.38" height="1.87" fill="#E6550D"/>
<rect x="30.22" y="297.79" width="12.38" height="1.87" fill="#F7FCF5"/>
<rect x="27.51" y="299.92" width="15.09" height="1.87" fill="#E5F5E0"/>
<rect x="36.41" y="302.05" width="6.19" height="1.87" fill="#C7E9C0"/>
<text transform="translate(36.11,305.59) rotate(0.05)" font-size="4.4" text-anchor="end" fill="#000">*</text>
<rect x="27.89" y="304.18" width="14.71" height="1.87" fill="#A1D99B"/>
<rect x="25.96" y="306.31" width="16.64" height="1.87" fill="#74C476"/>
<rect x="203.58" y="274.36" width="1.94" height="1.87" fill="#F7FBFF"/>
<text transform="translate(205.81,277.90) rotate(0.05)" font-size="4.4" text-anchor="start" fill="#000">*</text>
<rect x="203.58" y="276.49" width="2.71" height="1.87" fill="#DEEBF7"/>
<text transform="translate(206.59,280.03) rotate(0.05)" font-size="4.4" text-anchor="start" fill="#000">*</text>
<rect x="203.58" y="282.88" width="2.71" height="1.87" fill="#6BAED6"/>
<text transform="translate(206.59,286.42) rotate(0.05)" font-size="4.4" text-anchor="start" fill="#000">*</text>
<rect x="203.58" y="285.01" width="2.71" height="1.87" fill="#4292C6"/>
<rect x="203.58" y="287.14" width="2.32" height="1.87" fill="#2171B5"/>
<text transform="translate(206.20,290.68) rotate(0.05)" font-size="4.4" text-anchor="start" fill="#000">*</text>
<rect x="203.58" y="289.27" width="1.55" height="1.87" fill="#084594"/>
<text transform="translate(205.43,292.81) rotate(0.05)" font-size="4.4" text-anchor="start" fill="#000">*</text>
<rect x="203.58" y="291.40" width="0.39" height="1.87" fill="#FEE6CE"/>
<text transform="translate(204.27,294.94) rotate(0.05)" font-size="4.4" text-anchor="start" fill="#000">*</text>
<rect x="203.58" y="295.66" width="1.94" height="1.87" fill="#E6550D"/>
<rect x="203.58" y="299.92" width="1.16" height="1.87" fill="#E5F5E0"/>
<text transform="translate(205.04,303.46) rotate(0.05)" font-size="4.4" text-anchor="start" fill="#000">*</text>
<rect x="203.58" y="302.05" width="2.71" height="1.87" fill="#C7E9C0"/>
<text transform="translate(206.59,305.59) rotate(0.05)" font-size="4.4" text-anchor="start" fill="#000">*</text>
<rect x="203.58" y="304.18" width="2.71" height="1.87" fill="#A1D99B"/>
<text transform="translate(206.59,307.72) rotate(0.05)" font-size="4.4" text-anchor="start" fill="#000">*</text>
<rect x="203.58" y="306.31" width="1.55" height="1.87" fill="#74C476"/>
<rect x="203.58" y="308.44" width="0.39" height="1.87" fill="#41AB5D"/>
<text transform="translate(204.27,311.98) rotate(0.05)" font-size="4.4" text-anchor="start" fill="#000">*</text>
<rect x="257.24" y="276.49" width="6.58" height="1.87" fill="#DEEBF7"/>
<text transform="translate(264.12,280.03) rotate(0.05)" font-size="4.4" text-anchor="start" fill="#000">*</text>
<rect x="252.60" y="280.75" width="4.64" height="1.87" fill="#9ECAE1"/>
<text transform="translate(252.30,284.29) rotate(0.05)" font-size="4.4" text-anchor="end" fill="#000">*</text>
<rect x="257.24" y="282.88" width="9.68" height="1.87" fill="#6BAED6"/>
<rect x="257.24" y="287.14" width="6.58" height="1.87" fill="#2171B5"/>
<rect x="257.24" y="291.40" width="9.29" height="1.87" fill="#FEE6CE"/>
<text transform="translate(266.83,294.94) rotate(0.05)" font-size="4.4" text-anchor="start" fill="#000">*</text>
<rect x="257.24" y="295.66" width="12.77" height="1.87" fill="#E6550D"/>
<rect x="250.27" y="297.79" width="6.97" height="1.87" fill="#F7FCF5"/>
<rect x="255.31" y="299.92" width="1.94" height="1.87" fill="#E5F5E0"/>
<rect x="257.24" y="304.18" width="4.26" height="1.87" fill="#A1D99B"/>
<rect x="253.76" y="306.31" width="3.48" height="1.87" fill="#74C476"/>
<rect x="42.60" y="316.26" width="1.16" height="1.87" fill="#F7FBFF"/>
<text transform="translate(44.06,319.80) rotate(0.05)" font-size="4.4" text-anchor="start" fill="#000">*</text>
<rect x="42.60" y="318.39" width="3.87" height="1.87" fill="#DEEBF7"/>
<text transform="translate(46.77,321.93) rotate(0.05)" font-size="4.4" text-anchor="start" fill="#000">*</text>
<rect x="42.60" y="322.65" width="0.77" height="1.87" fill="#9ECAE1"/>
<text transform="translate(43.67,326.19) rotate(0.05)" font-size="4.4" text-anchor="start" fill="#000">**</text>
<rect x="42.60" y="324.78" width="5.80" height="1.87" fill="#6BAED6"/>
<text transform="translate(48.70,328.32) rotate(0.05)" font-size="4.4" text-anchor="start" fill="#000">*</text>
<rect x="42.60" y="326.91" width="5.80" height="1.87" fill="#4292C6"/>
<rect x="42.60" y="329.04" width="3.48" height="1.87" fill="#2171B5"/>
<text transform="translate(46.38,332.58) rotate(0.05)" font-size="4.4" text-anchor="start" fill="#fff">**</text>
<rect x="42.60" y="331.17" width="6.19" height="1.87" fill="#084594"/>
<rect x="40.28" y="333.30" width="2.32" height="1.87" fill="#FEE6CE"/>
<rect x="42.60" y="335.43" width="2.71" height="1.87" fill="#FDAE6B"/>
<rect x="42.60" y="337.56" width="2.32" height="1.87" fill="#E6550D"/>
<rect x="40.28" y="339.69" width="2.32" height="1.87" fill="#F7FCF5"/>
<rect x="42.60" y="341.82" width="1.16" height="1.87" fill="#E5F5E0"/>
<rect x="42.60" y="343.95" width="8.13" height="1.87" fill="#C7E9C0"/>
<rect x="42.60" y="346.08" width="1.94" height="1.87" fill="#A1D99B"/>
<rect x="42.60" y="348.21" width="5.03" height="1.87" fill="#74C476"/>
<rect x="39.50" y="350.34" width="3.10" height="1.87" fill="#41AB5D"/>
<rect x="42.60" y="352.47" width="2.71" height="1.87" fill="#238B45"/>
<rect x="38.34" y="354.60" width="4.26" height="1.87" fill="#005A32"/>
<rect x="203.58" y="316.26" width="2.71" height="1.87" fill="#F7FBFF"/>
<text transform="translate(206.59,319.80) rotate(0.05)" font-size="4.4" text-anchor="start" fill="#000">*</text>
<rect x="203.58" y="318.39" width="1.94" height="1.87" fill="#DEEBF7"/>
<rect x="203.58" y="322.65" width="3.48" height="1.87" fill="#9ECAE1"/>
<rect x="203.58" y="324.78" width="3.48" height="1.87" fill="#6BAED6"/>
<rect x="203.58" y="326.91" width="3.48" height="1.87" fill="#4292C6"/>
<rect x="203.58" y="329.04" width="3.10" height="1.87" fill="#2171B5"/>
<rect x="203.58" y="331.17" width="2.71" height="1.87" fill="#084594"/>
<text transform="translate(206.59,334.71) rotate(0.05)" font-size="4.4" text-anchor="start" fill="#000">*</text>
<rect x="203.58" y="333.30" width="0.77" height="1.87" fill="#FEE6CE"/>
<text transform="translate(204.65,336.84) rotate(0.05)" font-size="4.4" text-anchor="start" fill="#000">*</text>
<rect x="203.58" y="335.43" width="1.94" height="1.87" fill="#FDAE6B"/>
<text transform="translate(205.81,338.97) rotate(0.05)" font-size="4.4" text-anchor="start" fill="#000">*</text>
<rect x="203.58" y="337.56" width="2.71" height="1.87" fill="#E6550D"/>
<text transform="translate(206.59,341.10) rotate(0.05)" font-size="4.4" text-anchor="start" fill="#000">*</text>
<rect x="203.58" y="339.69" width="1.55" height="1.87" fill="#F7FCF5"/>
<rect x="203.58" y="341.82" width="1.55" height="1.87" fill="#E5F5E0"/>
<text transform="translate(205.43,345.36) rotate(0.05)" font-size="4.4" text-anchor="start" fill="#000">*</text>
<rect x="203.58" y="343.95" width="1.94" height="1.87" fill="#C7E9C0"/>
<text transform="translate(205.81,347.49) rotate(0.05)" font-size="4.4" text-anchor="start" fill="#000">*</text>
<rect x="203.58" y="346.08" width="1.94" height="1.87" fill="#A1D99B"/>
<text transform="translate(205.81,349.62) rotate(0.05)" font-size="4.4" text-anchor="start" fill="#000">*</text>
<rect x="203.58" y="348.21" width="1.94" height="1.87" fill="#74C476"/>
<text transform="translate(205.81,351.75) rotate(0.05)" font-size="4.4" text-anchor="start" fill="#000">*</text>
<rect x="203.58" y="350.34" width="1.16" height="1.87" fill="#41AB5D"/>
<rect x="203.58" y="354.60" width="1.55" height="1.87" fill="#005A32"/>
<text transform="translate(205.43,358.14) rotate(0.05)" font-size="4.4" text-anchor="start" fill="#000">*</text>
<rect x="257.24" y="316.26" width="28.64" height="1.87" fill="#F7FBFF"/>
<text transform="translate(286.18,319.80) rotate(0.05)" font-size="4.4" text-anchor="start" fill="#000">*</text>
<rect x="257.24" y="318.39" width="23.99" height="1.87" fill="#DEEBF7"/>
<text transform="translate(281.53,321.93) rotate(0.05)" font-size="4.4" text-anchor="start" fill="#000">*</text>
<rect x="257.24" y="322.65" width="27.09" height="1.87" fill="#9ECAE1"/>
<rect x="257.24" y="324.78" width="20.90" height="1.87" fill="#6BAED6"/>
<rect x="257.24" y="326.91" width="27.48" height="1.87" fill="#4292C6"/>
<rect x="257.24" y="329.04" width="23.99" height="1.87" fill="#2171B5"/>
<rect x="257.24" y="331.17" width="26.32" height="1.87" fill="#084594"/>
<rect x="257.24" y="333.30" width="22.06" height="1.87" fill="#FEE6CE"/>
<text transform="translate(279.60,336.84) rotate(0.05)" font-size="4.4" text-anchor="start" fill="#000">*</text>
<rect x="257.24" y="335.43" width="17.42" height="1.87" fill="#FDAE6B"/>
<rect x="257.24" y="337.56" width="25.93" height="1.87" fill="#E6550D"/>
<rect x="257.24" y="339.69" width="16.25" height="1.87" fill="#F7FCF5"/>
<text transform="translate(273.79,343.23) rotate(0.05)" font-size="4.4" text-anchor="start" fill="#000">*</text>
<rect x="257.24" y="341.82" width="17.03" height="1.87" fill="#E5F5E0"/>
<rect x="257.24" y="343.95" width="20.51" height="1.87" fill="#C7E9C0"/>
<rect x="257.24" y="346.08" width="14.32" height="1.87" fill="#A1D99B"/>
<rect x="257.24" y="348.21" width="17.03" height="1.87" fill="#74C476"/>
<rect x="257.24" y="350.34" width="14.32" height="1.87" fill="#41AB5D"/>
<rect x="257.24" y="352.47" width="12.77" height="1.87" fill="#238B45"/>
<text transform="translate(270.31,356.01) rotate(0.05)" font-size="4.4" text-anchor="start" fill="#fff">**</text>
<rect x="257.24" y="354.60" width="18.19" height="1.87" fill="#005A32"/>
<rect x="42.60" y="358.16" width="0.77" height="1.87" fill="#F7FBFF"/>
<text transform="translate(43.67,361.70) rotate(0.05)" font-size="4.4" text-anchor="start" fill="#000">**</text>
<rect x="41.44" y="360.29" width="1.16" height="1.87" fill="#DEEBF7"/>
<text transform="translate(41.14,363.83) rotate(0.05)" font-size="4.4" text-anchor="end" fill="#000">**</text>
<rect x="38.73" y="364.55" width="3.87" height="1.87" fill="#9ECAE1"/>
<text transform="translate(38.43,368.09) rotate(0.05)" font-size="4.4" text-anchor="end" fill="#000">*</text>
<rect x="42.60" y="366.68" width="0.39" height="1.87" fill="#6BAED6"/>
<text transform="translate(43.29,370.22) rotate(0.05)" font-size="4.4" text-anchor="start" fill="#000">*</text>
<rect x="37.96" y="368.81" width="4.64" height="1.87" fill="#4292C6"/>
<rect x="42.60" y="370.94" width="1.16" height="1.87" fill="#2171B5"/>
<rect x="42.60" y="373.07" width="0.77" height="1.87" fill="#084594"/>
<text transform="translate(43.67,376.61) rotate(0.05)" font-size="4.4" text-anchor="start" fill="#000">**</text>
<rect x="32.15" y="375.20" width="10.45" height="1.87" fill="#FEE6CE"/>
<text transform="translate(31.85,378.74) rotate(0.05)" font-size="4.4" text-anchor="end" fill="#000">**</text>
<rect x="35.63" y="377.33" width="6.97" height="1.87" fill="#FDAE6B"/>
<text transform="translate(35.33,380.87) rotate(0.05)" font-size="4.4" text-anchor="end" fill="#000">*</text>
<rect x="36.02" y="379.46" width="6.58" height="1.87" fill="#E6550D"/>
<rect x="40.28" y="381.59" width="2.32" height="1.87" fill="#F7FCF5"/>
<rect x="34.09" y="383.72" width="8.51" height="1.87" fill="#E5F5E0"/>
<rect x="35.63" y="385.85" width="6.97" height="1.87" fill="#C7E9C0"/>
<rect x="37.18" y="387.98" width="5.42" height="1.87" fill="#A1D99B"/>
<rect x="42.60" y="390.11" width="0.77" height="1.87" fill="#74C476"/>
<text transform="translate(43.67,393.65) rotate(0.05)" font-size="4.4" text-anchor="start" fill="#000">**</text>
<rect x="33.31" y="392.24" width="9.29" height="1.87" fill="#41AB5D"/>
<text transform="translate(33.01,395.78) rotate(0.05)" font-size="4.4" text-anchor="end" fill="#000">*</text>
<rect x="32.15" y="394.37" width="10.45" height="1.87" fill="#238B45"/>
<rect x="29.05" y="396.50" width="13.55" height="1.87" fill="#005A32"/>
<rect x="203.58" y="358.16" width="2.71" height="1.87" fill="#F7FBFF"/>
<text transform="translate(206.59,361.70) rotate(0.05)" font-size="4.4" text-anchor="start" fill="#000">*</text>
<rect x="203.58" y="360.29" width="2.71" height="1.87" fill="#DEEBF7"/>
<text transform="translate(206.59,363.83) rotate(0.05)" font-size="4.4" text-anchor="start" fill="#000">*</text>
<rect x="203.58" y="362.42" width="1.94" height="1.87" fill="#C6DBEF"/>
<rect x="203.58" y="364.55" width="2.71" height="1.87" fill="#9ECAE1"/>
<text transform="translate(206.59,368.09) rotate(0.05)" font-size="4.4" text-anchor="start" fill="#000">*</text>
<rect x="203.58" y="366.68" width="2.71" height="1.87" fill="#6BAED6"/>
<text transform="translate(206.59,370.22) rotate(0.05)" font-size="4.4" text-anchor="start" fill="#000">*</text>
<rect x="203.58" y="368.81" width="2.71" height="1.87" fill="#4292C6"/>
<text transform="translate(206.59,372.35) rotate(0.05)" font-size="4.4" text-anchor="start" fill="#000">*</text>
<rect x="203.58" y="370.94" width="2.71" height="1.87" fill="#2171B5"/>
<text transform="translate(206.59,374.48) rotate(0.05)" font-size="4.4" text-anchor="start" fill="#000">*</text>
<rect x="203.58" y="373.07" width="2.32" height="1.87" fill="#084594"/>
<rect x="203.58" y="375.20" width="2.71" height="1.87" fill="#FEE6CE"/>
<text transform="translate(206.59,378.74) rotate(0.05)" font-size="4.4" text-anchor="start" fill="#000">*</text>
<rect x="203.58" y="377.33" width="3.48" height="1.87" fill="#FDAE6B"/>
<rect x="203.58" y="379.46" width="5.81" height="1.87" fill="#E6550D"/>
<rect x="203.58" y="381.59" width="1.55" height="1.87" fill="#F7FCF5"/>
<text transform="translate(205.43,385.13) rotate(0.05)" font-size="4.4" text-anchor="start" fill="#000">*</text>
<rect x="203.58" y="383.72" width="2.71" height="1.87" fill="#E5F5E0"/>
<rect x="203.58" y="385.85" width="2.32" height="1.87" fill="#C7E9C0"/>
<text transform="translate(206.20,389.39) rotate(0.05)" font-size="4.4" text-anchor="start" fill="#000">*</text>
<rect x="203.58" y="387.98" width="2.71" height="1.87" fill="#A1D99B"/>
<text transform="translate(206.59,391.52) rotate(0.05)" font-size="4.4" text-anchor="start" fill="#000">*</text>
<rect x="203.58" y="390.11" width="2.71" height="1.87" fill="#74C476"/>
<text transform="translate(206.59,393.65) rotate(0.05)" font-size="4.4" text-anchor="start" fill="#000">*</text>
<rect x="203.58" y="392.24" width="2.32" height="1.87" fill="#41AB5D"/>
<text transform="translate(206.20,395.78) rotate(0.05)" font-size="4.4" text-anchor="start" fill="#000">*</text>
<rect x="203.58" y="394.37" width="1.94" height="1.87" fill="#238B45"/>
<rect x="203.58" y="396.50" width="1.16" height="1.87" fill="#005A32"/>
<text transform="translate(205.04,400.04) rotate(0.05)" font-size="4.4" text-anchor="start" fill="#000">*</text>
<rect x="257.24" y="358.16" width="25.15" height="1.87" fill="#F7FBFF"/>
<text transform="translate(282.69,361.70) rotate(0.05)" font-size="4.4" text-anchor="start" fill="#000">*</text>
<rect x="257.24" y="360.29" width="28.64" height="1.87" fill="#DEEBF7"/>
<text transform="translate(286.18,363.83) rotate(0.05)" font-size="4.4" text-anchor="start" fill="#000">*</text>
<rect x="257.24" y="364.55" width="22.83" height="1.87" fill="#9ECAE1"/>
<text transform="translate(280.37,368.09) rotate(0.05)" font-size="4.4" text-anchor="start" fill="#000">*</text>
<rect x="257.24" y="366.68" width="12.00" height="1.87" fill="#6BAED6"/>
<rect x="257.24" y="368.81" width="20.90" height="1.87" fill="#4292C6"/>
<rect x="257.24" y="370.94" width="21.67" height="1.87" fill="#2171B5"/>
<rect x="257.24" y="373.07" width="19.74" height="1.87" fill="#084594"/>
<rect x="257.24" y="375.20" width="11.61" height="1.87" fill="#FEE6CE"/>
<text transform="translate(269.15,378.74) rotate(0.05)" font-size="4.4" text-anchor="start" fill="#000">*</text>
<rect x="257.24" y="377.33" width="17.42" height="1.87" fill="#FDAE6B"/>
<rect x="257.24" y="379.46" width="25.15" height="1.87" fill="#E6550D"/>
<rect x="257.24" y="385.85" width="17.03" height="1.87" fill="#C7E9C0"/>
<text transform="translate(274.57,389.39) rotate(0.05)" font-size="4.4" text-anchor="start" fill="#000">*</text>
<rect x="257.24" y="390.11" width="16.25" height="1.87" fill="#74C476"/>
<rect x="257.24" y="392.24" width="3.87" height="1.87" fill="#41AB5D"/>
<rect x="257.24" y="396.50" width="4.26" height="1.87" fill="#005A32"/>
<rect x="36.41" y="400.06" width="6.19" height="1.87" fill="#F7FBFF"/>
<rect x="35.63" y="402.19" width="6.97" height="1.87" fill="#DEEBF7"/>
<text transform="translate(35.33,405.73) rotate(0.05)" font-size="4.4" text-anchor="end" fill="#000">*</text>
<rect x="28.67" y="404.32" width="13.93" height="1.87" fill="#C6DBEF"/>
<rect x="41.44" y="406.45" width="1.16" height="1.87" fill="#9ECAE1"/>
<text transform="translate(41.14,409.99) rotate(0.05)" font-size="4.4" text-anchor="end" fill="#000">*</text>
<rect x="32.15" y="408.58" width="10.45" height="1.87" fill="#6BAED6"/>
<text transform="translate(31.85,412.12) rotate(0.05)" font-size="4.4" text-anchor="end" fill="#000">*</text>
<rect x="42.60" y="410.71" width="5.80" height="1.87" fill="#4292C6"/>
<rect x="37.57" y="412.84" width="5.03" height="1.87" fill="#2171B5"/>
<rect x="42.60" y="414.97" width="1.55" height="1.87" fill="#084594"/>
<rect x="32.15" y="417.10" width="10.45" height="1.87" fill="#FEE6CE"/>
<rect x="36.80" y="419.23" width="5.80" height="1.87" fill="#FDAE6B"/>
<rect x="39.50" y="421.36" width="3.10" height="1.87" fill="#E6550D"/>
<rect x="26.73" y="423.49" width="15.87" height="1.87" fill="#F7FCF5"/>
<text transform="translate(26.43,427.03) rotate(0.05)" font-size="4.4" text-anchor="end" fill="#000">*</text>
<rect x="36.80" y="425.62" width="5.80" height="1.87" fill="#E5F5E0"/>
<text transform="translate(36.50,429.16) rotate(0.05)" font-size="4.4" text-anchor="end" fill="#000">*</text>
<rect x="34.47" y="427.75" width="8.13" height="1.87" fill="#C7E9C0"/>
<rect x="35.63" y="429.88" width="6.97" height="1.87" fill="#A1D99B"/>
<rect x="34.47" y="432.01" width="8.13" height="1.87" fill="#74C476"/>
<rect x="35.25" y="434.14" width="7.35" height="1.87" fill="#41AB5D"/>
<rect x="27.89" y="436.27" width="14.71" height="1.87" fill="#238B45"/>
<rect x="29.05" y="438.40" width="13.55" height="1.87" fill="#005A32"/>
<rect x="86.97" y="400.06" width="9.29" height="1.87" fill="#F7FBFF"/>
<rect x="87.75" y="410.71" width="8.51" height="1.87" fill="#4292C6"/>
<rect x="91.23" y="412.84" width="5.03" height="1.87" fill="#2171B5"/>
<text transform="translate(90.93,416.38) rotate(0.05)" font-size="4.4" text-anchor="end" fill="#fff">**</text>
<rect x="89.29" y="414.97" width="6.97" height="1.87" fill="#084594"/>
<rect x="90.84" y="429.88" width="5.42" height="1.87" fill="#A1D99B"/>
<rect x="143.34" y="400.06" width="6.58" height="1.87" fill="#F7FBFF"/>
<rect x="149.92" y="408.58" width="6.97" height="1.87" fill="#6BAED6"/>
<rect x="144.50" y="410.71" width="5.42" height="1.87" fill="#4292C6"/>
<rect x="149.15" y="412.84" width="0.77" height="1.87" fill="#2171B5"/>
<text transform="translate(148.85,416.38) rotate(0.05)" font-size="4.4" text-anchor="end" fill="#fff">***</text>
<rect x="143.73" y="414.97" width="6.19" height="1.87" fill="#084594"/>
<rect x="148.37" y="427.75" width="1.55" height="1.87" fill="#C7E9C0"/>
<rect x="144.50" y="429.88" width="5.42" height="1.87" fill="#A1D99B"/>
<rect x="203.58" y="400.06" width="1.55" height="1.87" fill="#F7FBFF"/>
<text transform="translate(205.43,403.60) rotate(0.05)" font-size="4.4" text-anchor="start" fill="#000">*</text>
<rect x="203.58" y="402.19" width="1.94" height="1.87" fill="#DEEBF7"/>
<text transform="translate(205.81,405.73) rotate(0.05)" font-size="4.4" text-anchor="start" fill="#000">*</text>
<rect x="203.58" y="404.32" width="1.55" height="1.87" fill="#C6DBEF"/>
<text transform="translate(205.43,407.86) rotate(0.05)" font-size="4.4" text-anchor="start" fill="#000">*</text>
<rect x="203.58" y="406.45" width="1.55" height="1.87" fill="#9ECAE1"/>
<rect x="203.58" y="408.58" width="1.94" height="1.87" fill="#6BAED6"/>
<text transform="translate(205.81,412.12) rotate(0.05)" font-size="4.4" text-anchor="start" fill="#000">*</text>
<rect x="203.58" y="410.71" width="1.94" height="1.87" fill="#4292C6"/>
<text transform="translate(205.81,414.25) rotate(0.05)" font-size="4.4" text-anchor="start" fill="#000">*</text>
<rect x="203.58" y="412.84" width="1.94" height="1.87" fill="#2171B5"/>
<text transform="translate(205.81,416.38) rotate(0.05)" font-size="4.4" text-anchor="start" fill="#000">*</text>
<rect x="203.58" y="414.97" width="1.55" height="1.87" fill="#084594"/>
<text transform="translate(205.43,418.51) rotate(0.05)" font-size="4.4" text-anchor="start" fill="#000">*</text>
<rect x="203.58" y="417.10" width="1.55" height="1.87" fill="#FEE6CE"/>
<rect x="203.58" y="419.23" width="2.32" height="1.87" fill="#FDAE6B"/>
<text transform="translate(206.20,422.77) rotate(0.05)" font-size="4.4" text-anchor="start" fill="#000">*</text>
<rect x="203.58" y="421.36" width="1.55" height="1.87" fill="#E6550D"/>
<text transform="translate(205.43,424.90) rotate(0.05)" font-size="4.4" text-anchor="start" fill="#000">*</text>
<rect x="203.58" y="423.49" width="1.94" height="1.87" fill="#F7FCF5"/>
<text transform="translate(205.81,427.03) rotate(0.05)" font-size="4.4" text-anchor="start" fill="#000">*</text>
<rect x="203.58" y="425.62" width="1.94" height="1.87" fill="#E5F5E0"/>
<text transform="translate(205.81,429.16) rotate(0.05)" font-size="4.4" text-anchor="start" fill="#000">*</text>
<rect x="203.58" y="427.75" width="2.32" height="1.87" fill="#C7E9C0"/>
<rect x="203.58" y="429.88" width="2.32" height="1.87" fill="#A1D99B"/>
<text transform="translate(206.20,433.42) rotate(0.05)" font-size="4.4" text-anchor="start" fill="#000">*</text>
<rect x="203.58" y="432.01" width="1.55" height="1.87" fill="#74C476"/>
<text transform="translate(205.43,435.55) rotate(0.05)" font-size="4.4" text-anchor="start" fill="#000">*</text>
<rect x="203.58" y="434.14" width="1.16" height="1.87" fill="#41AB5D"/>
<text transform="translate(205.04,437.68) rotate(0.05)" font-size="4.4" text-anchor="start" fill="#000">*</text>
<rect x="203.58" y="436.27" width="0.77" height="1.87" fill="#238B45"/>
<text transform="translate(204.65,439.81) rotate(0.05)" font-size="4.4" text-anchor="start" fill="#000">*</text>
<rect x="203.58" y="438.40" width="0.77" height="1.87" fill="#005A32"/>
<rect x="257.24" y="400.06" width="17.42" height="1.87" fill="#F7FBFF"/>
<rect x="257.24" y="402.19" width="18.19" height="1.87" fill="#DEEBF7"/>
<rect x="257.24" y="404.32" width="8.90" height="1.87" fill="#C6DBEF"/>
<rect x="257.24" y="406.45" width="13.93" height="1.87" fill="#9ECAE1"/>
<text transform="translate(271.47,409.99) rotate(0.05)" font-size="4.4" text-anchor="start" fill="#000">*</text>
<rect x="257.24" y="408.58" width="2.71" height="1.87" fill="#6BAED6"/>
<rect x="257.24" y="423.49" width="2.71" height="1.87" fill="#F7FCF5"/>
<text transform="translate(260.25,427.03) rotate(0.05)" font-size="4.4" text-anchor="start" fill="#000">*</text>
<rect x="246.79" y="436.27" width="10.45" height="1.87" fill="#238B45"/>
<rect x="250.27" y="438.40" width="6.97" height="1.87" fill="#005A32"/>
<text transform="translate(249.97,441.94) rotate(0.05)" font-size="4.4" text-anchor="end" fill="#fff">**</text>
<rect x="42.60" y="441.96" width="7.35" height="1.87" fill="#F7FBFF"/>
<text transform="translate(50.25,445.50) rotate(0.05)" font-size="4.4" text-anchor="start" fill="#000">***</text>
<rect x="42.60" y="444.09" width="3.87" height="1.87" fill="#DEEBF7"/>
<rect x="38.34" y="446.22" width="4.26" height="1.87" fill="#C6DBEF"/>
<rect x="42.60" y="450.48" width="3.87" height="1.87" fill="#6BAED6"/>
<text transform="translate(46.77,454.02) rotate(0.05)" font-size="4.4" text-anchor="start" fill="#000">**</text>
<rect x="42.60" y="454.74" width="8.13" height="1.87" fill="#2171B5"/>
<rect x="42.60" y="456.87" width="11.22" height="1.87" fill="#084594"/>
<rect x="42.60" y="459.00" width="3.87" height="1.87" fill="#FEE6CE"/>
<rect x="42.60" y="461.13" width="9.29" height="1.87" fill="#FDAE6B"/>
<rect x="42.60" y="465.39" width="8.51" height="1.87" fill="#F7FCF5"/>
<rect x="42.60" y="467.52" width="10.06" height="1.87" fill="#E5F5E0"/>
<text transform="translate(52.96,471.06) rotate(0.05)" font-size="4.4" text-anchor="start" fill="#000">*</text>
<rect x="42.60" y="469.65" width="3.48" height="1.87" fill="#C7E9C0"/>
<text transform="translate(46.38,473.19) rotate(0.05)" font-size="4.4" text-anchor="start" fill="#000">*</text>
<rect x="41.44" y="480.30" width="1.16" height="1.87" fill="#005A32"/>
<rect x="96.26" y="441.96" width="14.32" height="1.87" fill="#F7FBFF"/>
<rect x="96.26" y="444.09" width="13.16" height="1.87" fill="#DEEBF7"/>
<rect x="96.26" y="446.22" width="0.00" height="1.87" fill="#C6DBEF"/>
<text transform="translate(96.56,449.76) rotate(0.05)" font-size="4.4" text-anchor="start" fill="#000">*</text>
<rect x="96.26" y="450.48" width="13.55" height="1.87" fill="#6BAED6"/>
<rect x="96.26" y="459.00" width="14.32" height="1.87" fill="#FEE6CE"/>
<text transform="translate(110.88,462.54) rotate(0.05)" font-size="4.4" text-anchor="start" fill="#000">*</text>
<rect x="96.26" y="461.13" width="13.16" height="1.87" fill="#FDAE6B"/>
<rect x="96.26" y="465.39" width="12.00" height="1.87" fill="#F7FCF5"/>
<text transform="translate(108.56,468.93) rotate(0.05)" font-size="4.4" text-anchor="start" fill="#000">*</text>
<rect x="96.26" y="467.52" width="0.77" height="1.87" fill="#E5F5E0"/>
<text transform="translate(97.33,471.06) rotate(0.05)" font-size="4.4" text-anchor="start" fill="#000">***</text>
<rect x="96.26" y="469.65" width="14.71" height="1.87" fill="#C7E9C0"/>
<rect x="149.92" y="441.96" width="14.71" height="1.87" fill="#F7FBFF"/>
<rect x="149.92" y="444.09" width="14.71" height="1.87" fill="#DEEBF7"/>
<rect x="145.66" y="446.22" width="4.26" height="1.87" fill="#C6DBEF"/>
<text transform="translate(145.36,449.76) rotate(0.05)" font-size="4.4" text-anchor="end" fill="#000">*</text>
<rect x="149.92" y="450.48" width="2.71" height="1.87" fill="#6BAED6"/>
<rect x="146.82" y="454.74" width="3.10" height="1.87" fill="#2171B5"/>
<rect x="141.41" y="456.87" width="8.51" height="1.87" fill="#084594"/>
<rect x="149.92" y="465.39" width="12.38" height="1.87" fill="#F7FCF5"/>
<text transform="translate(162.60,468.93) rotate(0.05)" font-size="4.4" text-anchor="start" fill="#000">*</text>
<rect x="149.92" y="467.52" width="15.09" height="1.87" fill="#E5F5E0"/>
<text transform="translate(165.31,471.06) rotate(0.05)" font-size="4.4" text-anchor="start" fill="#000">*</text>
<rect x="149.92" y="471.78" width="13.54" height="1.87" fill="#A1D99B"/>
<rect x="203.58" y="441.96" width="0.58" height="1.87" fill="#F7FBFF"/>
<text transform="translate(204.46,445.50) rotate(0.05)" font-size="4.4" text-anchor="start" fill="#000">*</text>
<rect x="203.58" y="444.09" width="0.87" height="1.87" fill="#DEEBF7"/>
<text transform="translate(204.75,447.63) rotate(0.05)" font-size="4.4" text-anchor="start" fill="#000">*</text>
<rect x="203.58" y="446.22" width="1.16" height="1.87" fill="#C6DBEF"/>
<text transform="translate(205.04,449.76) rotate(0.05)" font-size="4.4" text-anchor="start" fill="#000">*</text>
<rect x="203.58" y="448.35" width="1.74" height="1.87" fill="#9ECAE1"/>
<text transform="translate(205.62,451.89) rotate(0.05)" font-size="4.4" text-anchor="start" fill="#000">*</text>
<rect x="203.58" y="450.48" width="2.03" height="1.87" fill="#6BAED6"/>
<rect x="203.58" y="452.61" width="2.03" height="1.87" fill="#4292C6"/>
<text transform="translate(205.91,456.15) rotate(0.05)" font-size="4.4" text-anchor="start" fill="#000">*</text>
<rect x="203.58" y="454.74" width="1.74" height="1.87" fill="#2171B5"/>
<text transform="translate(205.62,458.28) rotate(0.05)" font-size="4.4" text-anchor="start" fill="#000">*</text>
<rect x="203.58" y="456.87" width="1.45" height="1.87" fill="#084594"/>
<text transform="translate(205.33,460.41) rotate(0.05)" font-size="4.4" text-anchor="start" fill="#000">*</text>
<rect x="203.58" y="459.00" width="1.16" height="1.87" fill="#FEE6CE"/>
<text transform="translate(205.04,462.54) rotate(0.05)" font-size="4.4" text-anchor="start" fill="#000">*</text>
<rect x="203.58" y="461.13" width="1.74" height="1.87" fill="#FDAE6B"/>
<rect x="203.58" y="463.26" width="2.03" height="1.87" fill="#E6550D"/>
<text transform="translate(205.91,466.80) rotate(0.05)" font-size="4.4" text-anchor="start" fill="#000">*</text>
<rect x="203.58" y="465.39" width="0.58" height="1.87" fill="#F7FCF5"/>
<text transform="translate(204.46,468.93) rotate(0.05)" font-size="4.4" text-anchor="start" fill="#000">*</text>
<rect x="203.58" y="469.65" width="0.87" height="1.87" fill="#C7E9C0"/>
<text transform="translate(204.75,473.19) rotate(0.05)" font-size="4.4" text-anchor="start" fill="#000">*</text>
<rect x="203.58" y="480.30" width="1.74" height="1.87" fill="#005A32"/>
<text transform="translate(205.62,483.84) rotate(0.05)" font-size="4.4" text-anchor="start" fill="#000">*</text>
<rect x="257.24" y="441.96" width="17.03" height="1.87" fill="#F7FBFF"/>
<text transform="translate(274.57,445.50) rotate(0.05)" font-size="4.4" text-anchor="start" fill="#000">**</text>
<rect x="257.24" y="444.09" width="21.67" height="1.87" fill="#DEEBF7"/>
<text transform="translate(279.21,447.63) rotate(0.05)" font-size="4.4" text-anchor="start" fill="#000">*</text>
<rect x="257.24" y="448.35" width="13.16" height="1.87" fill="#9ECAE1"/>
<rect x="257.24" y="450.48" width="14.32" height="1.87" fill="#6BAED6"/>
<rect x="257.24" y="452.61" width="13.16" height="1.87" fill="#4292C6"/>
<rect x="257.24" y="454.74" width="6.58" height="1.87" fill="#2171B5"/>
<rect x="257.24" y="456.87" width="5.42" height="1.87" fill="#084594"/>
<rect x="257.24" y="459.00" width="22.83" height="1.87" fill="#FEE6CE"/>
<rect x="257.24" y="461.13" width="17.03" height="1.87" fill="#FDAE6B"/>
<text transform="translate(274.57,464.67) rotate(0.05)" font-size="4.4" text-anchor="start" fill="#000">*</text>
<rect x="257.24" y="463.26" width="21.67" height="1.87" fill="#E6550D"/>
<rect x="257.24" y="465.39" width="17.03" height="1.87" fill="#F7FCF5"/>
<text transform="translate(274.57,468.93) rotate(0.05)" font-size="4.4" text-anchor="start" fill="#000">*</text>
<rect x="257.24" y="467.52" width="17.42" height="1.87" fill="#E5F5E0"/>
<rect x="257.24" y="469.65" width="21.67" height="1.87" fill="#C7E9C0"/>
<text transform="translate(279.21,473.19) rotate(0.05)" font-size="4.4" text-anchor="start" fill="#000">*</text>
<rect x="257.24" y="471.78" width="18.19" height="1.87" fill="#A1D99B"/>
<rect x="257.24" y="480.30" width="14.32" height="1.87" fill="#005A32"/>
<rect x="42.60" y="483.86" width="6.19" height="1.87" fill="#F7FBFF"/>
<text transform="translate(49.09,487.40) rotate(0.05)" font-size="4.4" text-anchor="start" fill="#000">**</text>
<rect x="42.60" y="485.99" width="8.13" height="1.87" fill="#DEEBF7"/>
<text transform="translate(51.03,489.53) rotate(0.05)" font-size="4.4" text-anchor="start" fill="#000">**</text>
<rect x="42.60" y="490.25" width="13.55" height="1.87" fill="#9ECAE1"/>
<rect x="42.60" y="494.51" width="12.77" height="1.87" fill="#4292C6"/>
<rect x="42.60" y="496.64" width="9.29" height="1.87" fill="#2171B5"/>
<rect x="42.60" y="498.77" width="8.13" height="1.87" fill="#084594"/>
<rect x="42.60" y="500.90" width="1.94" height="1.87" fill="#FEE6CE"/>
<rect x="41.44" y="503.03" width="1.16" height="1.87" fill="#FDAE6B"/>
<rect x="42.60" y="505.16" width="3.48" height="1.87" fill="#E6550D"/>
<rect x="42.60" y="513.68" width="6.97" height="1.87" fill="#A1D99B"/>
<rect x="32.15" y="522.20" width="10.45" height="1.87" fill="#005A32"/>
<rect x="96.26" y="483.86" width="17.80" height="1.87" fill="#F7FBFF"/>
<rect x="96.26" y="485.99" width="24.38" height="1.87" fill="#DEEBF7"/>
<rect x="96.26" y="490.25" width="6.97" height="1.87" fill="#9ECAE1"/>
<rect x="96.26" y="494.51" width="12.00" height="1.87" fill="#4292C6"/>
<rect x="96.26" y="496.64" width="15.87" height="1.87" fill="#2171B5"/>
<rect x="96.26" y="498.77" width="5.03" height="1.87" fill="#084594"/>
<rect x="96.26" y="500.90" width="22.06" height="1.87" fill="#FEE6CE"/>
<rect x="96.26" y="507.29" width="13.16" height="1.87" fill="#F7FCF5"/>
<rect x="96.26" y="513.68" width="13.55" height="1.87" fill="#A1D99B"/>
<rect x="96.26" y="517.94" width="16.64" height="1.87" fill="#41AB5D"/>
<rect x="96.26" y="522.20" width="14.32" height="1.87" fill="#005A32"/>
<rect x="149.92" y="483.86" width="2.32" height="1.87" fill="#F7FBFF"/>
<rect x="145.66" y="485.99" width="4.26" height="1.87" fill="#DEEBF7"/>
<rect x="146.05" y="490.25" width="3.87" height="1.87" fill="#9ECAE1"/>
<rect x="149.92" y="494.51" width="0.00" height="1.87" fill="#4292C6"/>
<text transform="translate(150.22,498.05) rotate(0.05)" font-size="4.4" text-anchor="start" fill="#000">*</text>
<rect x="149.92" y="496.64" width="2.71" height="1.87" fill="#2171B5"/>
<rect x="147.21" y="498.77" width="2.71" height="1.87" fill="#084594"/>
<rect x="149.92" y="500.90" width="3.87" height="1.87" fill="#FEE6CE"/>
<rect x="148.76" y="503.03" width="1.16" height="1.87" fill="#FDAE6B"/>
<rect x="149.34" y="505.16" width="0.58" height="1.87" fill="#E6550D"/>
<rect x="149.92" y="522.20" width="2.32" height="1.87" fill="#005A32"/>
<rect x="203.58" y="483.86" width="0.58" height="1.87" fill="#F7FBFF"/>
<rect x="203.58" y="485.99" width="0.87" height="1.87" fill="#DEEBF7"/>
<text transform="translate(204.75,489.53) rotate(0.05)" font-size="4.4" text-anchor="start" fill="#000">*</text>
<rect x="203.58" y="490.25" width="0.87" height="1.87" fill="#9ECAE1"/>
<text transform="translate(204.75,493.79) rotate(0.05)" font-size="4.4" text-anchor="start" fill="#000">*</text>
<rect x="203.58" y="494.51" width="1.45" height="1.87" fill="#4292C6"/>
<rect x="203.58" y="496.64" width="1.74" height="1.87" fill="#2171B5"/>
<text transform="translate(205.62,500.18) rotate(0.05)" font-size="4.4" text-anchor="start" fill="#000">*</text>
<rect x="203.58" y="498.77" width="1.74" height="1.87" fill="#084594"/>
<text transform="translate(205.62,502.31) rotate(0.05)" font-size="4.4" text-anchor="start" fill="#000">*</text>
<rect x="203.58" y="500.90" width="1.16" height="1.87" fill="#FEE6CE"/>
<text transform="translate(205.04,504.44) rotate(0.05)" font-size="4.4" text-anchor="start" fill="#000">*</text>
<rect x="203.58" y="503.03" width="1.45" height="1.87" fill="#FDAE6B"/>
<text transform="translate(205.33,506.57) rotate(0.05)" font-size="4.4" text-anchor="start" fill="#000">*</text>
<rect x="203.58" y="505.16" width="1.74" height="1.87" fill="#E6550D"/>
<rect x="203.58" y="507.29" width="0.58" height="1.87" fill="#F7FCF5"/>
<text transform="translate(204.46,510.83) rotate(0.05)" font-size="4.4" text-anchor="start" fill="#000">*</text>
<rect x="203.58" y="513.68" width="0.87" height="1.87" fill="#A1D99B"/>
<text transform="translate(204.75,517.22) rotate(0.05)" font-size="4.4" text-anchor="start" fill="#000">*</text>
<rect x="203.58" y="517.94" width="0.58" height="1.87" fill="#41AB5D"/>
<text transform="translate(204.46,521.48) rotate(0.05)" font-size="4.4" text-anchor="start" fill="#000">*</text>
<rect x="203.58" y="522.20" width="1.16" height="1.87" fill="#005A32"/>
<text transform="translate(205.04,525.74) rotate(0.05)" font-size="4.4" text-anchor="start" fill="#000">*</text>
<rect x="257.24" y="483.86" width="6.19" height="1.87" fill="#F7FBFF"/>
<text transform="translate(263.73,487.40) rotate(0.05)" font-size="4.4" text-anchor="start" fill="#000">*</text>
<rect x="257.24" y="485.99" width="8.51" height="1.87" fill="#DEEBF7"/>
<text transform="translate(266.05,489.53) rotate(0.05)" font-size="4.4" text-anchor="start" fill="#000">*</text>
<rect x="257.24" y="490.25" width="1.55" height="1.87" fill="#9ECAE1"/>
<rect x="257.24" y="494.51" width="3.10" height="1.87" fill="#4292C6"/>
<rect x="257.24" y="496.64" width="3.87" height="1.87" fill="#2171B5"/>
<rect x="257.24" y="498.77" width="7.35" height="1.87" fill="#084594"/>
<rect x="257.24" y="500.90" width="9.68" height="1.87" fill="#FEE6CE"/>
<text transform="translate(267.22,504.44) rotate(0.05)" font-size="4.4" text-anchor="start" fill="#000">*</text>
<rect x="257.24" y="503.03" width="1.94" height="1.87" fill="#FDAE6B"/>
<rect x="257.24" y="505.16" width="1.16" height="1.87" fill="#E6550D"/>
<rect x="257.24" y="522.20" width="8.51" height="1.87" fill="#005A32"/>
<line x1="74.16" x2="74.16" y1="21.70" y2="524.50" stroke="#585858" stroke-width="0.75"/>
<line x1="127.82" x2="127.82" y1="21.70" y2="524.50" stroke="#585858" stroke-width="0.75"/>
<line x1="181.48" x2="181.48" y1="21.70" y2="524.50" stroke="#585858" stroke-width="0.75"/>
<line x1="235.14" x2="235.14" y1="21.70" y2="524.50" stroke="#585858" stroke-width="0.75"/>
<line x1="288.80" x2="288.80" y1="21.70" y2="524.50" stroke="#585858" stroke-width="0.75"/>
<line x1="20.50" x2="288.80" y1="63.60" y2="63.60" stroke="#585858" stroke-width="0.75"/>
<line x1="20.50" x2="288.80" y1="105.50" y2="105.50" stroke="#585858" stroke-width="0.75"/>
<line x1="20.50" x2="288.80" y1="147.40" y2="147.40" stroke="#585858" stroke-width="0.75"/>
<line x1="20.50" x2="288.80" y1="189.30" y2="189.30" stroke="#585858" stroke-width="0.75"/>
<line x1="20.50" x2="288.80" y1="231.20" y2="231.20" stroke="#585858" stroke-width="0.75"/>
<line x1="20.50" x2="288.80" y1="273.10" y2="273.10" stroke="#585858" stroke-width="0.75"/>
<line x1="20.50" x2="288.80" y1="315.00" y2="315.00" stroke="#585858" stroke-width="0.75"/>
<line x1="20.50" x2="288.80" y1="356.90" y2="356.90" stroke="#585858" stroke-width="0.75"/>
<line x1="20.50" x2="288.80" y1="398.80" y2="398.80" stroke="#585858" stroke-width="0.75"/>
<line x1="20.50" x2="288.80" y1="440.70" y2="440.70" stroke="#585858" stroke-width="0.75"/>
<line x1="20.50" x2="288.80" y1="482.60" y2="482.60" stroke="#585858" stroke-width="0.75"/>
<rect x="20.50" y="5.8" width="53.66" height="15.6" fill="#fff" stroke="#858585" stroke-width="0.65"/>
<text transform="translate(47.33,12.6) rotate(0.05)" font-size="6.3" text-anchor="middle" fill="#1a1a1a">Minimum</text>
<text transform="translate(47.33,19.4) rotate(0.05)" font-size="6.3" text-anchor="middle" fill="#1a1a1a">Temperature</text>
<rect x="74.16" y="5.8" width="53.66" height="15.6" fill="#fff" stroke="#858585" stroke-width="0.65"/>
<text transform="translate(100.99,12.6) rotate(0.05)" font-size="6.3" text-anchor="middle" fill="#1a1a1a">Snow Water</text>
<text transform="translate(100.99,19.4) rotate(0.05)" font-size="6.3" text-anchor="middle" fill="#1a1a1a">Equivalent</text>
<rect x="127.82" y="5.8" width="53.66" height="15.6" fill="#fff" stroke="#858585" stroke-width="0.65"/>
<text transform="translate(154.65,16.0) rotate(0.05)" font-size="6.3" text-anchor="middle" fill="#1a1a1a">Sublimation</text>
<rect x="181.48" y="5.8" width="53.66" height="15.6" fill="#fff" stroke="#858585" stroke-width="0.65"/>
<text transform="translate(208.31,16.0) rotate(0.05)" font-size="6.3" text-anchor="middle" fill="#1a1a1a">Soil Moisture</text>
<rect x="235.14" y="5.8" width="53.66" height="15.6" fill="#fff" stroke="#858585" stroke-width="0.65"/>
<text transform="translate(261.97,16.0) rotate(0.05)" font-size="6.3" text-anchor="middle" fill="#1a1a1a">Precipitation</text>
<line x1="20.50" x2="288.80" y1="22.05" y2="22.05" stroke="#fff" stroke-opacity="0.7" stroke-width="0.5"/>
<rect x="289.0" y="21.70" width="9.0" height="41.90" fill="#fff" stroke="#d0d0d0" stroke-width="0.5"/>
<line x1="288.8" x2="298.0" y1="63.60" y2="63.60" stroke="#585858" stroke-width="0.75"/>
<text transform="translate(291.2,42.65) rotate(90.05)" font-size="6.3" text-anchor="middle" fill="#1a1a1a">Jan</text>
<rect x="289.0" y="63.60" width="9.0" height="41.90" fill="#fff" stroke="#d0d0d0" stroke-width="0.5"/>
<line x1="288.8" x2="298.0" y1="105.50" y2="105.50" stroke="#585858" stroke-width="0.75"/>
<text transform="translate(291.2,84.55) rotate(90.05)" font-size="6.3" text-anchor="middle" fill="#1a1a1a">Feb</text>
<rect x="289.0" y="105.50" width="9.0" height="41.90" fill="#fff" stroke="#d0d0d0" stroke-width="0.5"/>
<line x1="288.8" x2="298.0" y1="147.40" y2="147.40" stroke="#585858" stroke-width="0.75"/>
<text transform="translate(291.2,126.45) rotate(90.05)" font-size="6.3" text-anchor="middle" fill="#1a1a1a">Mar</text>
<rect x="289.0" y="147.40" width="9.0" height="41.90" fill="#fff" stroke="#d0d0d0" stroke-width="0.5"/>
<line x1="288.8" x2="298.0" y1="189.30" y2="189.30" stroke="#585858" stroke-width="0.75"/>
<text transform="translate(291.2,168.35) rotate(90.05)" font-size="6.3" text-anchor="middle" fill="#1a1a1a">Apr</text>
<rect x="289.0" y="189.30" width="9.0" height="41.90" fill="#fff" stroke="#d0d0d0" stroke-width="0.5"/>
<line x1="288.8" x2="298.0" y1="231.20" y2="231.20" stroke="#585858" stroke-width="0.75"/>
<text transform="translate(291.2,210.25) rotate(90.05)" font-size="6.3" text-anchor="middle" fill="#1a1a1a">May</text>
<rect x="289.0" y="231.20" width="9.0" height="41.90" fill="#fff" stroke="#d0d0d0" stroke-width="0.5"/>
<line x1="288.8" x2="298.0" y1="273.10" y2="273.10" stroke="#585858" stroke-width="0.75"/>
<text transform="translate(291.2,252.15) rotate(90.05)" font-size="6.3" text-anchor="middle" fill="#1a1a1a">Jun</text>
<rect x="289.0" y="273.10" width="9.0" height="41.90" fill="#fff" stroke="#d0d0d0" stroke-width="0.5"/>
<line x1="288.8" x2="298.0" y1="315.00" y2="315.00" stroke="#585858" stroke-width="0.75"/>
<text transform="translate(291.2,294.05) rotate(90.05)" font-size="6.3" text-anchor="middle" fill="#1a1a1a">Jul</text>
<rect x="289.0" y="315.00" width="9.0" height="41.90" fill="#fff" stroke="#d0d0d0" stroke-width="0.5"/>
<line x1="288.8" x2="298.0" y1="356.90" y2="356.90" stroke="#585858" stroke-width="0.75"/>
<text transform="translate(291.2,335.95) rotate(90.05)" font-size="6.3" text-anchor="middle" fill="#1a1a1a">Aug</text>
<rect x="289.0" y="356.90" width="9.0" height="41.90" fill="#fff" stroke="#d0d0d0" stroke-width="0.5"/>
<line x1="288.8" x2="298.0" y1="398.80" y2="398.80" stroke="#585858" stroke-width="0.75"/>
<text transform="translate(291.2,377.85) rotate(90.05)" font-size="6.3" text-anchor="middle" fill="#1a1a1a">Sep</text>
<rect x="289.0" y="398.80" width="9.0" height="41.90" fill="#fff" stroke="#d0d0d0" stroke-width="0.5"/>
<line x1="288.8" x2="298.0" y1="440.70" y2="440.70" stroke="#585858" stroke-width="0.75"/>
<text transform="translate(291.2,419.75) rotate(90.05)" font-size="6.3" text-anchor="middle" fill="#1a1a1a">Oct</text>
<rect x="289.0" y="440.70" width="9.0" height="41.90" fill="#fff" stroke="#d0d0d0" stroke-width="0.5"/>
<line x1="288.8" x2="298.0" y1="482.60" y2="482.60" stroke="#585858" stroke-width="0.75"/>
<text transform="translate(291.2,461.65) rotate(90.05)" font-size="6.3" text-anchor="middle" fill="#1a1a1a">Nov</text>
<rect x="289.0" y="482.60" width="9.0" height="41.90" fill="#fff" stroke="#d0d0d0" stroke-width="0.5"/>
<text transform="translate(291.2,503.55) rotate(90.05)" font-size="6.3" text-anchor="middle" fill="#1a1a1a">Dec</text>
<line x1="288.80" x2="288.80" y1="21.70" y2="524.50" stroke="#585858" stroke-width="0.75"/>
<line x1="19.5" x2="20.5" y1="23.90" y2="23.90" stroke="#333" stroke-width="0.5"/>
<line x1="19.5" x2="20.5" y1="26.03" y2="26.03" stroke="#333" stroke-width="0.5"/>
<line x1="19.5" x2="20.5" y1="28.16" y2="28.16" stroke="#333" stroke-width="0.5"/>
<line x1="19.5" x2="20.5" y1="30.29" y2="30.29" stroke="#333" stroke-width="0.5"/>
<line x1="19.5" x2="20.5" y1="32.42" y2="32.42" stroke="#333" stroke-width="0.5"/>
<line x1="19.5" x2="20.5" y1="34.55" y2="34.55" stroke="#333" stroke-width="0.5"/>
<line x1="19.5" x2="20.5" y1="36.68" y2="36.68" stroke="#333" stroke-width="0.5"/>
<line x1="19.5" x2="20.5" y1="38.81" y2="38.81" stroke="#333" stroke-width="0.5"/>
<line x1="19.5" x2="20.5" y1="40.94" y2="40.94" stroke="#333" stroke-width="0.5"/>
<line x1="19.5" x2="20.5" y1="43.07" y2="43.07" stroke="#333" stroke-width="0.5"/>
<line x1="19.5" x2="20.5" y1="45.20" y2="45.20" stroke="#333" stroke-width="0.5"/>
<line x1="19.5" x2="20.5" y1="47.33" y2="47.33" stroke="#333" stroke-width="0.5"/>
<line x1="19.5" x2="20.5" y1="49.46" y2="49.46" stroke="#333" stroke-width="0.5"/>
<line x1="19.5" x2="20.5" y1="51.59" y2="51.59" stroke="#333" stroke-width="0.5"/>
<line x1="19.5" x2="20.5" y1="53.72" y2="53.72" stroke="#333" stroke-width="0.5"/>
<line x1="19.5" x2="20.5" y1="55.85" y2="55.85" stroke="#333" stroke-width="0.5"/>
<line x1="19.5" x2="20.5" y1="57.98" y2="57.98" stroke="#333" stroke-width="0.5"/>
<line x1="19.5" x2="20.5" y1="60.11" y2="60.11" stroke="#333" stroke-width="0.5"/>
<line x1="19.5" x2="20.5" y1="62.24" y2="62.24" stroke="#333" stroke-width="0.5"/>
<text transform="translate(18.7,26.10) rotate(0.05)" font-size="5.3" text-anchor="end" fill="#222">1</text>
<text transform="translate(18.7,30.36) rotate(0.05)" font-size="5.3" text-anchor="end" fill="#222">3</text>
<text transform="translate(18.7,34.62) rotate(0.05)" font-size="5.3" text-anchor="end" fill="#222">5</text>
<text transform="translate(18.7,38.88) rotate(0.05)" font-size="5.3" text-anchor="end" fill="#222">7</text>
<text transform="translate(18.7,43.14) rotate(0.05)" font-size="5.3" text-anchor="end" fill="#222">9</text>
<text transform="translate(18.7,49.53) rotate(0.05)" font-size="5.3" text-anchor="end" fill="#222">12</text>
<text transform="translate(18.7,55.92) rotate(0.05)" font-size="5.3" text-anchor="end" fill="#222">15</text>
<text transform="translate(18.7,62.31) rotate(0.05)" font-size="5.3" text-anchor="end" fill="#222">18</text>
<line x1="19.5" x2="20.5" y1="65.80" y2="65.80" stroke="#333" stroke-width="0.5"/>
<line x1="19.5" x2="20.5" y1="67.93" y2="67.93" stroke="#333" stroke-width="0.5"/>
<line x1="19.5" x2="20.5" y1="70.06" y2="70.06" stroke="#333" stroke-width="0.5"/>
<line x1="19.5" x2="20.5" y1="72.19" y2="72.19" stroke="#333" stroke-width="0.5"/>
<line x1="19.5" x2="20.5" y1="74.32" y2="74.32" stroke="#333" stroke-width="0.5"/>
<line x1="19.5" x2="20.5" y1="76.45" y2="76.45" stroke="#333" stroke-width="0.5"/>
<line x1="19.5" x2="20.5" y1="78.58" y2="78.58" stroke="#333" stroke-width="0.5"/>
<line x1="19.5" x2="20.5" y1="80.71" y2="80.71" stroke="#333" stroke-width="0.5"/>
<line x1="19.5" x2="20.5" y1="82.84" y2="82.84" stroke="#333" stroke-width="0.5"/>
<line x1="19.5" x2="20.5" y1="84.97" y2="84.97" stroke="#333" stroke-width="0.5"/>
<line x1="19.5" x2="20.5" y1="87.10" y2="87.10" stroke="#333" stroke-width="0.5"/>
<line x1="19.5" x2="20.5" y1="89.23" y2="89.23" stroke="#333" stroke-width="0.5"/>
<line x1="19.5" x2="20.5" y1="91.36" y2="91.36" stroke="#333" stroke-width="0.5"/>
<line x1="19.5" x2="20.5" y1="93.49" y2="93.49" stroke="#333" stroke-width="0.5"/>
<line x1="19.5" x2="20.5" y1="95.62" y2="95.62" stroke="#333" stroke-width="0.5"/>
<line x1="19.5" x2="20.5" y1="97.75" y2="97.75" stroke="#333" stroke-width="0.5"/>
<line x1="19.5" x2="20.5" y1="99.88" y2="99.88" stroke="#333" stroke-width="0.5"/>
<line x1="19.5" x2="20.5" y1="102.01" y2="102.01" stroke="#333" stroke-width="0.5"/>
<line x1="19.5" x2="20.5" y1="104.14" y2="104.14" stroke="#333" stroke-width="0.5"/>
<text transform="translate(18.7,68.00) rotate(0.05)" font-size="5.3" text-anchor="end" fill="#222">1</text>
<text transform="translate(18.7,72.26) rotate(0.05)" font-size="5.3" text-anchor="end" fill="#222">3</text>
<text transform="translate(18.7,76.52) rotate(0.05)" font-size="5.3" text-anchor="end" fill="#222">5</text>
<text transform="translate(18.7,80.78) rotate(0.05)" font-size="5.3" text-anchor="end" fill="#222">7</text>
<text transform="translate(18.7,85.04) rotate(0.05)" font-size="5.3" text-anchor="end" fill="#222">9</text>
<text transform="translate(18.7,91.43) rotate(0.05)" font-size="5.3" text-anchor="end" fill="#222">12</text>
<text transform="translate(18.7,97.82) rotate(0.05)" font-size="5.3" text-anchor="end" fill="#222">15</text>
<text transform="translate(18.7,104.21) rotate(0.05)" font-size="5.3" text-anchor="end" fill="#222">18</text>
<line x1="19.5" x2="20.5" y1="107.70" y2="107.70" stroke="#333" stroke-width="0.5"/>
<line x1="19.5" x2="20.5" y1="109.83" y2="109.83" stroke="#333" stroke-width="0.5"/>
<line x1="19.5" x2="20.5" y1="111.96" y2="111.96" stroke="#333" stroke-width="0.5"/>
<line x1="19.5" x2="20.5" y1="114.09" y2="114.09" stroke="#333" stroke-width="0.5"/>
<line x1="19.5" x2="20.5" y1="116.22" y2="116.22" stroke="#333" stroke-width="0.5"/>
<line x1="19.5" x2="20.5" y1="118.35" y2="118.35" stroke="#333" stroke-width="0.5"/>
<line x1="19.5" x2="20.5" y1="120.48" y2="120.48" stroke="#333" stroke-width="0.5"/>
<line x1="19.5" x2="20.5" y1="122.61" y2="122.61" stroke="#333" stroke-width="0.5"/>
<line x1="19.5" x2="20.5" y1="124.74" y2="124.74" stroke="#333" stroke-width="0.5"/>
<line x1="19.5" x2="20.5" y1="126.87" y2="126.87" stroke="#333" stroke-width="0.5"/>
<line x1="19.5" x2="20.5" y1="129.00" y2="129.00" stroke="#333" stroke-width="0.5"/>
<line x1="19.5" x2="20.5" y1="131.13" y2="131.13" stroke="#333" stroke-width="0.5"/>
<line x1="19.5" x2="20.5" y1="133.26" y2="133.26" stroke="#333" stroke-width="0.5"/>
<line x1="19.5" x2="20.5" y1="135.39" y2="135.39" stroke="#333" stroke-width="0.5"/>
<line x1="19.5" x2="20.5" y1="137.52" y2="137.52" stroke="#333" stroke-width="0.5"/>
<line x1="19.5" x2="20.5" y1="139.65" y2="139.65" stroke="#333" stroke-width="0.5"/>
<line x1="19.5" x2="20.5" y1="141.78" y2="141.78" stroke="#333" stroke-width="0.5"/>
<line x1="19.5" x2="20.5" y1="143.91" y2="143.91" stroke="#333" stroke-width="0.5"/>
<line x1="19.5" x2="20.5" y1="146.04" y2="146.04" stroke="#333" stroke-width="0.5"/>
<text transform="translate(18.7,109.90) rotate(0.05)" font-size="5.3" text-anchor="end" fill="#222">1</text>
<text transform="translate(18.7,114.16) rotate(0.05)" font-size="5.3" text-anchor="end" fill="#222">3</text>
<text transform="translate(18.7,118.42) rotate(0.05)" font-size="5.3" text-anchor="end" fill="#222">5</text>
<text transform="translate(18.7,122.68) rotate(0.05)" font-size="5.3" text-anchor="end" fill="#222">7</text>
<text transform="translate(18.7,126.94) rotate(0.05)" font-size="5.3" text-anchor="end" fill="#222">9</text>
<text transform="translate(18.7,133.33) rotate(0.05)" font-size="5.3" text-anchor="end" fill="#222">12</text>
<text transform="translate(18.7,139.72) rotate(0.05)" font-size="5.3" text-anchor="end" fill="#222">15</text>
<text transform="translate(18.7,146.11) rotate(0.05)" font-size="5.3" text-anchor="end" fill="#222">18</text>
<line x1="19.5" x2="20.5" y1="149.60" y2="149.60" stroke="#333" stroke-width="0.5"/>
<line x1="19.5" x2="20.5" y1="151.73" y2="151.73" stroke="#333" stroke-width="0.5"/>
<line x1="19.5" x2="20.5" y1="153.86" y2="153.86" stroke="#333" stroke-width="0.5"/>
<line x1="19.5" x2="20.5" y1="155.99" y2="155.99" stroke="#333" stroke-width="0.5"/>
<line x1="19.5" x2="20.5" y1="158.12" y2="158.12" stroke="#333" stroke-width="0.5"/>
<line x1="19.5" x2="20.5" y1="160.25" y2="160.25" stroke="#333" stroke-width="0.5"/>
<line x1="19.5" x2="20.5" y1="162.38" y2="162.38" stroke="#333" stroke-width="0.5"/>
<line x1="19.5" x2="20.5" y1="164.51" y2="164.51" stroke="#333" stroke-width="0.5"/>
<line x1="19.5" x2="20.5" y1="166.64" y2="166.64" stroke="#333" stroke-width="0.5"/>
<line x1="19.5" x2="20.5" y1="168.77" y2="168.77" stroke="#333" stroke-width="0.5"/>
<line x1="19.5" x2="20.5" y1="170.90" y2="170.90" stroke="#333" stroke-width="0.5"/>
<line x1="19.5" x2="20.5" y1="173.03" y2="173.03" stroke="#333" stroke-width="0.5"/>
<line x1="19.5" x2="20.5" y1="175.16" y2="175.16" stroke="#333" stroke-width="0.5"/>
<line x1="19.5" x2="20.5" y1="177.29" y2="177.29" stroke="#333" stroke-width="0.5"/>
<line x1="19.5" x2="20.5" y1="179.42" y2="179.42" stroke="#333" stroke-width="0.5"/>
<line x1="19.5" x2="20.5" y1="181.55" y2="181.55" stroke="#333" stroke-width="0.5"/>
<line x1="19.5" x2="20.5" y1="183.68" y2="183.68" stroke="#333" stroke-width="0.5"/>
<line x1="19.5" x2="20.5" y1="185.81" y2="185.81" stroke="#333" stroke-width="0.5"/>
<line x1="19.5" x2="20.5" y1="187.94" y2="187.94" stroke="#333" stroke-width="0.5"/>
<text transform="translate(18.7,151.80) rotate(0.05)" font-size="5.3" text-anchor="end" fill="#222">1</text>
<text transform="translate(18.7,156.06) rotate(0.05)" font-size="5.3" text-anchor="end" fill="#222">3</text>
<text transform="translate(18.7,160.32) rotate(0.05)" font-size="5.3" text-anchor="end" fill="#222">5</text>
<text transform="translate(18.7,164.58) rotate(0.05)" font-size="5.3" text-anchor="end" fill="#222">7</text>
<text transform="translate(18.7,168.84) rotate(0.05)" font-size="5.3" text-anchor="end" fill="#222">9</text>
<text transform="translate(18.7,175.23) rotate(0.05)" font-size="5.3" text-anchor="end" fill="#222">12</text>
<text transform="translate(18.7,181.62) rotate(0.05)" font-size="5.3" text-anchor="end" fill="#222">15</text>
<text transform="translate(18.7,188.01) rotate(0.05)" font-size="5.3" text-anchor="end" fill="#222">18</text>
<line x1="19.5" x2="20.5" y1="191.50" y2="191.50" stroke="#333" stroke-width="0.5"/>
<line x1="19.5" x2="20.5" y1="193.63" y2="193.63" stroke="#333" stroke-width="0.5"/>
<line x1="19.5" x2="20.5" y1="195.76" y2="195.76" stroke="#333" stroke-width="0.5"/>
<line x1="19.5" x2="20.5" y1="197.89" y2="197.89" stroke="#333" stroke-width="0.5"/>
<line x1="19.5" x2="20.5" y1="200.02" y2="200.02" stroke="#333" stroke-width="0.5"/>
<line x1="19.5" x2="20.5" y1="202.15" y2="202.15" stroke="#333" stroke-width="0.5"/>
<line x1="19.5" x2="20.5" y1="204.28" y2="204.28" stroke="#333" stroke-width="0.5"/>
<line x1="19.5" x2="20.5" y1="206.41" y2="206.41" stroke="#333" stroke-width="0.5"/>
<line x1="19.5" x2="20.5" y1="208.54" y2="208.54" stroke="#333" stroke-width="0.5"/>
<line x1="19.5" x2="20.5" y1="210.67" y2="210.67" stroke="#333" stroke-width="0.5"/>
<line x1="19.5" x2="20.5" y1="212.80" y2="212.80" stroke="#333" stroke-width="0.5"/>
<line x1="19.5" x2="20.5" y1="214.93" y2="214.93" stroke="#333" stroke-width="0.5"/>
<line x1="19.5" x2="20.5" y1="217.06" y2="217.06" stroke="#333" stroke-width="0.5"/>
<line x1="19.5" x2="20.5" y1="219.19" y2="219.19" stroke="#333" stroke-width="0.5"/>
<line x1="19.5" x2="20.5" y1="221.32" y2="221.32" stroke="#333" stroke-width="0.5"/>
<line x1="19.5" x2="20.5" y1="223.45" y2="223.45" stroke="#333" stroke-width="0.5"/>
<line x1="19.5" x2="20.5" y1="225.58" y2="225.58" stroke="#333" stroke-width="0.5"/>
<line x1="19.5" x2="20.5" y1="227.71" y2="227.71" stroke="#333" stroke-width="0.5"/>
<line x1="19.5" x2="20.5" y1="229.84" y2="229.84" stroke="#333" stroke-width="0.5"/>
<text transform="translate(18.7,193.70) rotate(0.05)" font-size="5.3" text-anchor="end" fill="#222">1</text>
<text transform="translate(18.7,197.96) rotate(0.05)" font-size="5.3" text-anchor="end" fill="#222">3</text>
<text transform="translate(18.7,202.22) rotate(0.05)" font-size="5.3" text-anchor="end" fill="#222">5</text>
<text transform="translate(18.7,206.48) rotate(0.05)" font-size="5.3" text-anchor="end" fill="#222">7</text>
<text transform="translate(18.7,210.74) rotate(0.05)" font-size="5.3" text-anchor="end" fill="#222">9</text>
<text transform="translate(18.7,217.13) rotate(0.05)" font-size="5.3" text-anchor="end" fill="#222">12</text>
<text transform="translate(18.7,223.52) rotate(0.05)" font-size="5.3" text-anchor="end" fill="#222">15</text>
<text transform="translate(18.7,229.91) rotate(0.05)" font-size="5.3" text-anchor="end" fill="#222">18</text>
<line x1="19.5" x2="20.5" y1="233.40" y2="233.40" stroke="#333" stroke-width="0.5"/>
<line x1="19.5" x2="20.5" y1="235.53" y2="235.53" stroke="#333" stroke-width="0.5"/>
<line x1="19.5" x2="20.5" y1="237.66" y2="237.66" stroke="#333" stroke-width="0.5"/>
<line x1="19.5" x2="20.5" y1="239.79" y2="239.79" stroke="#333" stroke-width="0.5"/>
<line x1="19.5" x2="20.5" y1="241.92" y2="241.92" stroke="#333" stroke-width="0.5"/>
<line x1="19.5" x2="20.5" y1="244.05" y2="244.05" stroke="#333" stroke-width="0.5"/>
<line x1="19.5" x2="20.5" y1="246.18" y2="246.18" stroke="#333" stroke-width="0.5"/>
<line x1="19.5" x2="20.5" y1="248.31" y2="248.31" stroke="#333" stroke-width="0.5"/>
<line x1="19.5" x2="20.5" y1="250.44" y2="250.44" stroke="#333" stroke-width="0.5"/>
<line x1="19.5" x2="20.5" y1="252.57" y2="252.57" stroke="#333" stroke-width="0.5"/>
<line x1="19.5" x2="20.5" y1="254.70" y2="254.70" stroke="#333" stroke-width="0.5"/>
<line x1="19.5" x2="20.5" y1="256.83" y2="256.83" stroke="#333" stroke-width="0.5"/>
<line x1="19.5" x2="20.5" y1="258.96" y2="258.96" stroke="#333" stroke-width="0.5"/>
<line x1="19.5" x2="20.5" y1="261.09" y2="261.09" stroke="#333" stroke-width="0.5"/>
<line x1="19.5" x2="20.5" y1="263.22" y2="263.22" stroke="#333" stroke-width="0.5"/>
<line x1="19.5" x2="20.5" y1="265.35" y2="265.35" stroke="#333" stroke-width="0.5"/>
<line x1="19.5" x2="20.5" y1="267.48" y2="267.48" stroke="#333" stroke-width="0.5"/>
<line x1="19.5" x2="20.5" y1="269.61" y2="269.61" stroke="#333" stroke-width="0.5"/>
<line x1="19.5" x2="20.5" y1="271.74" y2="271.74" stroke="#333" stroke-width="0.5"/>
<text transform="translate(18.7,235.60) rotate(0.05)" font-size="5.3" text-anchor="end" fill="#222">1</text>
<text transform="translate(18.7,239.86) rotate(0.05)" font-size="5.3" text-anchor="end" fill="#222">3</text>
<text transform="translate(18.7,244.12) rotate(0.05)" font-size="5.3" text-anchor="end" fill="#222">5</text>
<text transform="translate(18.7,248.38) rotate(0.05)" font-size="5.3" text-anchor="end" fill="#222">7</text>
<text transform="translate(18.7,252.64) rotate(0.05)" font-size="5.3" text-anchor="end" fill="#222">9</text>
<text transform="translate(18.7,259.03) rotate(0.05)" font-size="5.3" text-anchor="end" fill="#222">12</text>
<text transform="translate(18.7,265.42) rotate(0.05)" font-size="5.3" text-anchor="end" fill="#222">15</text>
<text transform="translate(18.7,271.81) rotate(0.05)" font-size="5.3" text-anchor="end" fill="#222">18</text>
<line x1="19.5" x2="20.5" y1="275.30" y2="275.30" stroke="#333" stroke-width="0.5"/>
<line x1="19.5" x2="20.5" y1="277.43" y2="277.43" stroke="#333" stroke-width="0.5"/>
<line x1="19.5" x2="20.5" y1="279.56" y2="279.56" stroke="#333" stroke-width="0.5"/>
<line x1="19.5" x2="20.5" y1="281.69" y2="281.69" stroke="#333" stroke-width="0.5"/>
<line x1="19.5" x2="20.5" y1="283.82" y2="283.82" stroke="#333" stroke-width="0.5"/>
<line x1="19.5" x2="20.5" y1="285.95" y2="285.95" stroke="#333" stroke-width="0.5"/>
<line x1="19.5" x2="20.5" y1="288.08" y2="288.08" stroke="#333" stroke-width="0.5"/>
<line x1="19.5" x2="20.5" y1="290.21" y2="290.21" stroke="#333" stroke-width="0.5"/>
<line x1="19.5" x2="20.5" y1="292.34" y2="292.34" stroke="#333" stroke-width="0.5"/>
<line x1="19.5" x2="20.5" y1="294.47" y2="294.47" stroke="#333" stroke-width="0.5"/>
<line x1="19.5" x2="20.5" y1="296.60" y2="296.60" stroke="#333" stroke-width="0.5"/>
<line x1="19.5" x2="20.5" y1="298.73" y2="298.73" stroke="#333" stroke-width="0.5"/>
<line x1="19.5" x2="20.5" y1="300.86" y2="300.86" stroke="#333" stroke-width="0.5"/>
<line x1="19.5" x2="20.5" y1="302.99" y2="302.99" stroke="#333" stroke-width="0.5"/>
<line x1="19.5" x2="20.5" y1="305.12" y2="305.12" stroke="#333" stroke-width="0.5"/>
<line x1="19.5" x2="20.5" y1="307.25" y2="307.25" stroke="#333" stroke-width="0.5"/>
<line x1="19.5" x2="20.5" y1="309.38" y2="309.38" stroke="#333" stroke-width="0.5"/>
<line x1="19.5" x2="20.5" y1="311.51" y2="311.51" stroke="#333" stroke-width="0.5"/>
<line x1="19.5" x2="20.5" y1="313.64" y2="313.64" stroke="#333" stroke-width="0.5"/>
<text transform="translate(18.7,277.50) rotate(0.05)" font-size="5.3" text-anchor="end" fill="#222">1</text>
<text transform="translate(18.7,281.76) rotate(0.05)" font-size="5.3" text-anchor="end" fill="#222">3</text>
<text transform="translate(18.7,286.02) rotate(0.05)" font-size="5.3" text-anchor="end" fill="#222">5</text>
<text transform="translate(18.7,290.28) rotate(0.05)" font-size="5.3" text-anchor="end" fill="#222">7</text>
<text transform="translate(18.7,294.54) rotate(0.05)" font-size="5.3" text-anchor="end" fill="#222">9</text>
<text transform="translate(18.7,300.93) rotate(0.05)" font-size="5.3" text-anchor="end" fill="#222">12</text>
<text transform="translate(18.7,307.32) rotate(0.05)" font-size="5.3" text-anchor="end" fill="#222">15</text>
<text transform="translate(18.7,313.71) rotate(0.05)" font-size="5.3" text-anchor="end" fill="#222">18</text>
<line x1="19.5" x2="20.5" y1="317.20" y2="317.20" stroke="#333" stroke-width="0.5"/>
<line x1="19.5" x2="20.5" y1="319.33" y2="319.33" stroke="#333" stroke-width="0.5"/>
<line x1="19.5" x2="20.5" y1="321.46" y2="321.46" stroke="#333" stroke-width="0.5"/>
<line x1="19.5" x2="20.5" y1="323.59" y2="323.59" stroke="#333" stroke-width="0.5"/>
<line x1="19.5" x2="20.5" y1="325.72" y2="325.72" stroke="#333" stroke-width="0.5"/>
<line x1="19.5" x2="20.5" y1="327.85" y2="327.85" stroke="#333" stroke-width="0.5"/>
<line x1="19.5" x2="20.5" y1="329.98" y2="329.98" stroke="#333" stroke-width="0.5"/>
<line x1="19.5" x2="20.5" y1="332.11" y2="332.11" stroke="#333" stroke-width="0.5"/>
<line x1="19.5" x2="20.5" y1="334.24" y2="334.24" stroke="#333" stroke-width="0.5"/>
<line x1="19.5" x2="20.5" y1="336.37" y2="336.37" stroke="#333" stroke-width="0.5"/>
<line x1="19.5" x2="20.5" y1="338.50" y2="338.50" stroke="#333" stroke-width="0.5"/>
<line x1="19.5" x2="20.5" y1="340.63" y2="340.63" stroke="#333" stroke-width="0.5"/>
<line x1="19.5" x2="20.5" y1="342.76" y2="342.76" stroke="#333" stroke-width="0.5"/>
<line x1="19.5" x2="20.5" y1="344.89" y2="344.89" stroke="#333" stroke-width="0.5"/>
<line x1="19.5" x2="20.5" y1="347.02" y2="347.02" stroke="#333" stroke-width="0.5"/>
<line x1="19.5" x2="20.5" y1="349.15" y2="349.15" stroke="#333" stroke-width="0.5"/>
<line x1="19.5" x2="20.5" y1="351.28" y2="351.28" stroke="#333" stroke-width="0.5"/>
<line x1="19.5" x2="20.5" y1="353.41" y2="353.41" stroke="#333" stroke-width="0.5"/>
<line x1="19.5" x2="20.5" y1="355.54" y2="355.54" stroke="#333" stroke-width="0.5"/>
<text transform="translate(18.7,319.40) rotate(0.05)" font-size="5.3" text-anchor="end" fill="#222">1</text>
<text transform="translate(18.7,323.66) rotate(0.05)" font-size="5.3" text-anchor="end" fill="#222">3</text>
<text transform="translate(18.7,327.92) rotate(0.05)" font-size="5.3" text-anchor="end" fill="#222">5</text>
<text transform="translate(18.7,332.18) rotate(0.05)" font-size="5.3" text-anchor="end" fill="#222">7</text>
<text transform="translate(18.7,336.44) rotate(0.05)" font-size="5.3" text-anchor="end" fill="#222">9</text>
<text transform="translate(18.7,342.83) rotate(0.05)" font-size="5.3" text-anchor="end" fill="#222">12</text>
<text transform="translate(18.7,349.22) rotate(0.05)" font-size="5.3" text-anchor="end" fill="#222">15</text>
<text transform="translate(18.7,355.61) rotate(0.05)" font-size="5.3" text-anchor="end" fill="#222">18</text>
<line x1="19.5" x2="20.5" y1="359.10" y2="359.10" stroke="#333" stroke-width="0.5"/>
<line x1="19.5" x2="20.5" y1="361.23" y2="361.23" stroke="#333" stroke-width="0.5"/>
<line x1="19.5" x2="20.5" y1="363.36" y2="363.36" stroke="#333" stroke-width="0.5"/>
<line x1="19.5" x2="20.5" y1="365.49" y2="365.49" stroke="#333" stroke-width="0.5"/>
<line x1="19.5" x2="20.5" y1="367.62" y2="367.62" stroke="#333" stroke-width="0.5"/>
<line x1="19.5" x2="20.5" y1="369.75" y2="369.75" stroke="#333" stroke-width="0.5"/>
<line x1="19.5" x2="20.5" y1="371.88" y2="371.88" stroke="#333" stroke-width="0.5"/>
<line x1="19.5" x2="20.5" y1="374.01" y2="374.01" stroke="#333" stroke-width="0.5"/>
<line x1="19.5" x2="20.5" y1="376.14" y2="376.14" stroke="#333" stroke-width="0.5"/>
<line x1="19.5" x2="20.5" y1="378.27" y2="378.27" stroke="#333" stroke-width="0.5"/>
<line x1="19.5" x2="20.5" y1="380.40" y2="380.40" stroke="#333" stroke-width="0.5"/>
<line x1="19.5" x2="20.5" y1="382.53" y2="382.53" stroke="#333" stroke-width="0.5"/>
<line x1="19.5" x2="20.5" y1="384.66" y2="384.66" stroke="#333" stroke-width="0.5"/>
<line x1="19.5" x2="20.5" y1="386.79" y2="386.79" stroke="#333" stroke-width="0.5"/>
<line x1="19.5" x2="20.5" y1="388.92" y2="388.92" stroke="#333" stroke-width="0.5"/>
<line x1="19.5" x2="20.5" y1="391.05" y2="391.05" stroke="#333" stroke-width="0.5"/>
<line x1="19.5" x2="20.5" y1="393.18" y2="393.18" stroke="#333" stroke-width="0.5"/>
<line x1="19.5" x2="20.5" y1="395.31" y2="395.31" stroke="#333" stroke-width="0.5"/>
<line x1="19.5" x2="20.5" y1="397.44" y2="397.44" stroke="#333" stroke-width="0.5"/>
<text transform="translate(18.7,361.30) rotate(0.05)" font-size="5.3" text-anchor="end" fill="#222">1</text>
<text transform="translate(18.7,365.56) rotate(0.05)" font-size="5.3" text-anchor="end" fill="#222">3</text>
<text transform="translate(18.7,369.82) rotate(0.05)" font-size="5.3" text-anchor="end" fill="#222">5</text>
<text transform="translate(18.7,374.08) rotate(0.05)" font-size="5.3" text-anchor="end" fill="#222">7</text>
<text transform="translate(18.7,378.34) rotate(0.05)" font-size="5.3" text-anchor="end" fill="#222">9</text>
<text transform="translate(18.7,384.73) rotate(0.05)" font-size="5.3" text-anchor="end" fill="#222">12</text>
<text transform="translate(18.7,391.12) rotate(0.05)" font-size="5.3" text-anchor="end" fill="#222">15</text>
<text transform="translate(18.7,397.51) rotate(0.05)" font-size="5.3" text-anchor="end" fill="#222">18</text>
<line x1="19.5" x2="20.5" y1="401.00" y2="401.00" stroke="#333" stroke-width="0.5"/>
<line x1="19.5" x2="20.5" y1="403.13" y2="403.13" stroke="#333" stroke-width="0.5"/>
<line x1="19.5" x2="20.5" y1="405.26" y2="405.26" stroke="#333" stroke-width="0.5"/>
<line x1="19.5" x2="20.5" y1="407.39" y2="407.39" stroke="#333" stroke-width="0.5"/>
<line x1="19.5" x2="20.5" y1="409.52" y2="409.52" stroke="#333" stroke-width="0.5"/>
<line x1="19.5" x2="20.5" y1="411.65" y2="411.65" stroke="#333" stroke-width="0.5"/>
<line x1="19.5" x2="20.5" y1="413.78" y2="413.78" stroke="#333" stroke-width="0.5"/>
<line x1="19.5" x2="20.5" y1="415.91" y2="415.91" stroke="#333" stroke-width="0.5"/>
<line x1="19.5" x2="20.5" y1="418.04" y2="418.04" stroke="#333" stroke-width="0.5"/>
<line x1="19.5" x2="20.5" y1="420.17" y2="420.17" stroke="#333" stroke-width="0.5"/>
<line x1="19.5" x2="20.5" y1="422.30" y2="422.30" stroke="#333" stroke-width="0.5"/>
<line x1="19.5" x2="20.5" y1="424.43" y2="424.43" stroke="#333" stroke-width="0.5"/>
<line x1="19.5" x2="20.5" y1="426.56" y2="426.56" stroke="#333" stroke-width="0.5"/>
<line x1="19.5" x2="20.5" y1="428.69" y2="428.69" stroke="#333" stroke-width="0.5"/>
<line x1="19.5" x2="20.5" y1="430.82" y2="430.82" stroke="#333" stroke-width="0.5"/>
<line x1="19.5" x2="20.5" y1="432.95" y2="432.95" stroke="#333" stroke-width="0.5"/>
<line x1="19.5" x2="20.5" y1="435.08" y2="435.08" stroke="#333" stroke-width="0.5"/>
<line x1="19.5" x2="20.5" y1="437.21" y2="437.21" stroke="#333" stroke-width="0.5"/>
<line x1="19.5" x2="20.5" y1="439.34" y2="439.34" stroke="#333" stroke-width="0.5"/>
<text transform="translate(18.7,403.20) rotate(0.05)" font-size="5.3" text-anchor="end" fill="#222">1</text>
<text transform="translate(18.7,407.46) rotate(0.05)" font-size="5.3" text-anchor="end" fill="#222">3</text>
<text transform="translate(18.7,411.72) rotate(0.05)" font-size="5.3" text-anchor="end" fill="#222">5</text>
<text transform="translate(18.7,415.98) rotate(0.05)" font-size="5.3" text-anchor="end" fill="#222">7</text>
<text transform="translate(18.7,420.24) rotate(0.05)" font-size="5.3" text-anchor="end" fill="#222">9</text>
<text transform="translate(18.7,426.63) rotate(0.05)" font-size="5.3" text-anchor="end" fill="#222">12</text>
<text transform="translate(18.7,433.02) rotate(0.05)" font-size="5.3" text-anchor="end" fill="#222">15</text>
<text transform="translate(18.7,439.41) rotate(0.05)" font-size="5.3" text-anchor="end" fill="#222">18</text>
<line x1="19.5" x2="20.5" y1="442.90" y2="442.90" stroke="#333" stroke-width="0.5"/>
<line x1="19.5" x2="20.5" y1="445.03" y2="445.03" stroke="#333" stroke-width="0.5"/>
<line x1="19.5" x2="20.5" y1="447.16" y2="447.16" stroke="#333" stroke-width="0.5"/>
<line x1="19.5" x2="20.5" y1="449.29" y2="449.29" stroke="#333" stroke-width="0.5"/>
<line x1="19.5" x2="20.5" y1="451.42" y2="451.42" stroke="#333" stroke-width="0.5"/>
<line x1="19.5" x2="20.5" y1="453.55" y2="453.55" stroke="#333" stroke-width="0.5"/>
<line x1="19.5" x2="20.5" y1="455.68" y2="455.68" stroke="#333" stroke-width="0.5"/>
<line x1="19.5" x2="20.5" y1="457.81" y2="457.81" stroke="#333" stroke-width="0.5"/>
<line x1="19.5" x2="20.5" y1="459.94" y2="459.94" stroke="#333" stroke-width="0.5"/>
<line x1="19.5" x2="20.5" y1="462.07" y2="462.07" stroke="#333" stroke-width="0.5"/>
<line x1="19.5" x2="20.5" y1="464.20" y2="464.20" stroke="#333" stroke-width="0.5"/>
<line x1="19.5" x2="20.5" y1="466.33" y2="466.33" stroke="#333" stroke-width="0.5"/>
<line x1="19.5" x2="20.5" y1="468.46" y2="468.46" stroke="#333" stroke-width="0.5"/>
<line x1="19.5" x2="20.5" y1="470.59" y2="470.59" stroke="#333" stroke-width="0.5"/>
<line x1="19.5" x2="20.5" y1="472.72" y2="472.72" stroke="#333" stroke-width="0.5"/>
<line x1="19.5" x2="20.5" y1="474.85" y2="474.85" stroke="#333" stroke-width="0.5"/>
<line x1="19.5" x2="20.5" y1="476.98" y2="476.98" stroke="#333" stroke-width="0.5"/>
<line x1="19.5" x2="20.5" y1="479.11" y2="479.11" stroke="#333" stroke-width="0.5"/>
<line x1="19.5" x2="20.5" y1="481.24" y2="481.24" stroke="#333" stroke-width="0.5"/>
<text transform="translate(18.7,445.10) rotate(0.05)" font-size="5.3" text-anchor="end" fill="#222">1</text>
<text transform="translate(18.7,449.36) rotate(0.05)" font-size="5.3" text-anchor="end" fill="#222">3</text>
<text transform="translate(18.7,453.62) rotate(0.05)" font-size="5.3" text-anchor="end" fill="#222">5</text>
<text transform="translate(18.7,457.88) rotate(0.05)" font-size="5.3" text-anchor="end" fill="#222">7</text>
<text transform="translate(18.7,462.14) rotate(0.05)" font-size="5.3" text-anchor="end" fill="#222">9</text>
<text transform="translate(18.7,468.53) rotate(0.05)" font-size="5.3" text-anchor="end" fill="#222">12</text>
<text transform="translate(18.7,474.92) rotate(0.05)" font-size="5.3" text-anchor="end" fill="#222">15</text>
<text transform="translate(18.7,481.31) rotate(0.05)" font-size="5.3" text-anchor="end" fill="#222">18</text>
<line x1="19.5" x2="20.5" y1="484.80" y2="484.80" stroke="#333" stroke-width="0.5"/>
<line x1="19.5" x2="20.5" y1="486.93" y2="486.93" stroke="#333" stroke-width="0.5"/>
<line x1="19.5" x2="20.5" y1="489.06" y2="489.06" stroke="#333" stroke-width="0.5"/>
<line x1="19.5" x2="20.5" y1="491.19" y2="491.19" stroke="#333" stroke-width="0.5"/>
<line x1="19.5" x2="20.5" y1="493.32" y2="493.32" stroke="#333" stroke-width="0.5"/>
<line x1="19.5" x2="20.5" y1="495.45" y2="495.45" stroke="#333" stroke-width="0.5"/>
<line x1="19.5" x2="20.5" y1="497.58" y2="497.58" stroke="#333" stroke-width="0.5"/>
<line x1="19.5" x2="20.5" y1="499.71" y2="499.71" stroke="#333" stroke-width="0.5"/>
<line x1="19.5" x2="20.5" y1="501.84" y2="501.84" stroke="#333" stroke-width="0.5"/>
<line x1="19.5" x2="20.5" y1="503.97" y2="503.97" stroke="#333" stroke-width="0.5"/>
<line x1="19.5" x2="20.5" y1="506.10" y2="506.10" stroke="#333" stroke-width="0.5"/>
<line x1="19.5" x2="20.5" y1="508.23" y2="508.23" stroke="#333" stroke-width="0.5"/>
<line x1="19.5" x2="20.5" y1="510.36" y2="510.36" stroke="#333" stroke-width="0.5"/>
<line x1="19.5" x2="20.5" y1="512.49" y2="512.49" stroke="#333" stroke-width="0.5"/>
<line x1="19.5" x2="20.5" y1="514.62" y2="514.62" stroke="#333" stroke-width="0.5"/>
<line x1="19.5" x2="20.5" y1="516.75" y2="516.75" stroke="#333" stroke-width="0.5"/>
<line x1="19.5" x2="20.5" y1="518.88" y2="518.88" stroke="#333" stroke-width="0.5"/>
<line x1="19.5" x2="20.5" y1="521.01" y2="521.01" stroke="#333" stroke-width="0.5"/>
<line x1="19.5" x2="20.5" y1="523.14" y2="523.14" stroke="#333" stroke-width="0.5"/>
<text transform="translate(18.7,487.00) rotate(0.05)" font-size="5.3" text-anchor="end" fill="#222">1</text>
<text transform="translate(18.7,491.26) rotate(0.05)" font-size="5.3" text-anchor="end" fill="#222">3</text>
<text transform="translate(18.7,495.52) rotate(0.05)" font-size="5.3" text-anchor="end" fill="#222">5</text>
<text transform="translate(18.7,499.78) rotate(0.05)" font-size="5.3" text-anchor="end" fill="#222">7</text>
<text transform="translate(18.7,504.04) rotate(0.05)" font-size="5.3" text-anchor="end" fill="#222">9</text>
<text transform="translate(18.7,510.43) rotate(0.05)" font-size="5.3" text-anchor="end" fill="#222">12</text>
<text transform="translate(18.7,516.82) rotate(0.05)" font-size="5.3" text-anchor="end" fill="#222">15</text>
<text transform="translate(18.7,523.21) rotate(0.05)" font-size="5.3" text-anchor="end" fill="#222">18</text>
<text transform="translate(9.6,273.2) rotate(-89.95)" font-size="7.6" text-anchor="middle" fill="#000">Watershed</text>
<line x1="23.25" x2="23.25" y1="524.50" y2="525.70" stroke="#333" stroke-width="0.5"/>
<text transform="translate(21.45,526.8) rotate(90.05)" font-size="5" text-anchor="start" fill="#808080">-0.50</text>
<line x1="32.92" x2="32.92" y1="524.50" y2="525.70" stroke="#333" stroke-width="0.5"/>
<text transform="translate(31.12,526.8) rotate(90.05)" font-size="5" text-anchor="start" fill="#808080">-0.25</text>
<line x1="42.60" x2="42.60" y1="524.50" y2="525.70" stroke="#333" stroke-width="0.5"/>
<text transform="translate(40.80,526.8) rotate(90.05)" font-size="5" text-anchor="start" fill="#808080">0.00</text>
<line x1="52.28" x2="52.28" y1="524.50" y2="525.70" stroke="#333" stroke-width="0.5"/>
<text transform="translate(50.48,526.8) rotate(90.05)" font-size="5" text-anchor="start" fill="#808080">0.25</text>
<line x1="61.95" x2="61.95" y1="524.50" y2="525.70" stroke="#333" stroke-width="0.5"/>
<text transform="translate(60.15,526.8) rotate(90.05)" font-size="5" text-anchor="start" fill="#808080">0.50</text>
<line x1="71.62" x2="71.62" y1="524.50" y2="525.70" stroke="#333" stroke-width="0.5"/>
<text transform="translate(69.83,526.8) rotate(90.05)" font-size="5" text-anchor="start" fill="#808080">0.75</text>
<line x1="76.91" x2="76.91" y1="524.50" y2="525.70" stroke="#333" stroke-width="0.5"/>
<text transform="translate(75.11,526.8) rotate(90.05)" font-size="5" text-anchor="start" fill="#808080">-0.50</text>
<line x1="86.58" x2="86.58" y1="524.50" y2="525.70" stroke="#333" stroke-width="0.5"/>
<text transform="translate(84.78,526.8) rotate(90.05)" font-size="5" text-anchor="start" fill="#808080">-0.25</text>
<line x1="96.26" x2="96.26" y1="524.50" y2="525.70" stroke="#333" stroke-width="0.5"/>
<text transform="translate(94.46,526.8) rotate(90.05)" font-size="5" text-anchor="start" fill="#808080">0.00</text>
<line x1="105.93" x2="105.93" y1="524.50" y2="525.70" stroke="#333" stroke-width="0.5"/>
<text transform="translate(104.13,526.8) rotate(90.05)" font-size="5" text-anchor="start" fill="#808080">0.25</text>
<line x1="115.61" x2="115.61" y1="524.50" y2="525.70" stroke="#333" stroke-width="0.5"/>
<text transform="translate(113.81,526.8) rotate(90.05)" font-size="5" text-anchor="start" fill="#808080">0.50</text>
<line x1="125.28" x2="125.28" y1="524.50" y2="525.70" stroke="#333" stroke-width="0.5"/>
<text transform="translate(123.48,526.8) rotate(90.05)" font-size="5" text-anchor="start" fill="#808080">0.75</text>
<line x1="130.57" x2="130.57" y1="524.50" y2="525.70" stroke="#333" stroke-width="0.5"/>
<text transform="translate(128.77,526.8) rotate(90.05)" font-size="5" text-anchor="start" fill="#808080">-0.50</text>
<line x1="140.24" x2="140.24" y1="524.50" y2="525.70" stroke="#333" stroke-width="0.5"/>
<text transform="translate(138.44,526.8) rotate(90.05)" font-size="5" text-anchor="start" fill="#808080">-0.25</text>
<line x1="149.92" x2="149.92" y1="524.50" y2="525.70" stroke="#333" stroke-width="0.5"/>
<text transform="translate(148.12,526.8) rotate(90.05)" font-size="5" text-anchor="start" fill="#808080">0.00</text>
<line x1="159.59" x2="159.59" y1="524.50" y2="525.70" stroke="#333" stroke-width="0.5"/>
<text transform="translate(157.79,526.8) rotate(90.05)" font-size="5" text-anchor="start" fill="#808080">0.25</text>
<line x1="169.27" x2="169.27" y1="524.50" y2="525.70" stroke="#333" stroke-width="0.5"/>
<text transform="translate(167.47,526.8) rotate(90.05)" font-size="5" text-anchor="start" fill="#808080">0.50</text>
<line x1="178.94" x2="178.94" y1="524.50" y2="525.70" stroke="#333" stroke-width="0.5"/>
<text transform="translate(177.14,526.8) rotate(90.05)" font-size="5" text-anchor="start" fill="#808080">0.75</text>
<line x1="184.23" x2="184.23" y1="524.50" y2="525.70" stroke="#333" stroke-width="0.5"/>
<text transform="translate(182.43,526.8) rotate(90.05)" font-size="5" text-anchor="start" fill="#808080">-0.50</text>
<line x1="193.90" x2="193.90" y1="524.50" y2="525.70" stroke="#333" stroke-width="0.5"/>
<text transform="translate(192.10,526.8) rotate(90.05)" font-size="5" text-anchor="start" fill="#808080">-0.25</text>
<line x1="203.58" x2="203.58" y1="524.50" y2="525.70" stroke="#333" stroke-width="0.5"/>
<text transform="translate(201.78,526.8) rotate(90.05)" font-size="5" text-anchor="start" fill="#808080">0.00</text>
<line x1="213.25" x2="213.25" y1="524.50" y2="525.70" stroke="#333" stroke-width="0.5"/>
<text transform="translate(211.45,526.8) rotate(90.05)" font-size="5" text-anchor="start" fill="#808080">0.25</text>
<line x1="222.93" x2="222.93" y1="524.50" y2="525.70" stroke="#333" stroke-width="0.5"/>
<text transform="translate(221.13,526.8) rotate(90.05)" font-size="5" text-anchor="start" fill="#808080">0.50</text>
<line x1="232.60" x2="232.60" y1="524.50" y2="525.70" stroke="#333" stroke-width="0.5"/>
<text transform="translate(230.80,526.8) rotate(90.05)" font-size="5" text-anchor="start" fill="#808080">0.75</text>
<line x1="237.89" x2="237.89" y1="524.50" y2="525.70" stroke="#333" stroke-width="0.5"/>
<text transform="translate(236.09,526.8) rotate(90.05)" font-size="5" text-anchor="start" fill="#808080">-0.50</text>
<line x1="247.56" x2="247.56" y1="524.50" y2="525.70" stroke="#333" stroke-width="0.5"/>
<text transform="translate(245.76,526.8) rotate(90.05)" font-size="5" text-anchor="start" fill="#808080">-0.25</text>
<line x1="257.24" x2="257.24" y1="524.50" y2="525.70" stroke="#333" stroke-width="0.5"/>
<text transform="translate(255.44,526.8) rotate(90.05)" font-size="5" text-anchor="start" fill="#808080">0.00</text>
<line x1="266.92" x2="266.92" y1="524.50" y2="525.70" stroke="#333" stroke-width="0.5"/>
<text transform="translate(265.12,526.8) rotate(90.05)" font-size="5" text-anchor="start" fill="#808080">0.25</text>
<line x1="276.59" x2="276.59" y1="524.50" y2="525.70" stroke="#333" stroke-width="0.5"/>
<text transform="translate(274.79,526.8) rotate(90.05)" font-size="5" text-anchor="start" fill="#808080">0.50</text>
<line x1="286.26" x2="286.26" y1="524.50" y2="525.70" stroke="#333" stroke-width="0.5"/>
<text transform="translate(284.46,526.8) rotate(90.05)" font-size="5" text-anchor="start" fill="#808080">0.75</text>
<text transform="translate(155.0,545.7) rotate(0.05)" font-size="7.55" text-anchor="middle" fill="#000">Mean AICc-weighted standardized parameter estimate</text>
<text transform="translate(305.2,157.4) rotate(0.05)" font-size="7.55" fill="#000">Mountain Group</text>
<rect x="305.2" y="162.40" width="6.8" height="7.28" fill="#b6b6b6"/>
<text transform="translate(316.5,168.39) rotate(0.05)" font-size="6.35" fill="#000">Southern San Juan</text>
<rect x="305.2" y="169.68" width="6.8" height="7.28" fill="#cdcdcd"/>
<text transform="translate(316.5,175.67) rotate(0.05)" font-size="6.35" fill="#000">Central Sangre de Cristo</text>
<rect x="305.2" y="176.96" width="6.8" height="7.28" fill="#dfdfdf"/>
<text transform="translate(316.5,182.95) rotate(0.05)" font-size="6.35" fill="#000">Southern Sangre de Cristo</text>
<text transform="translate(305.2,199.8) rotate(0.05)" font-size="7.55" fill="#000">Watersheds</text>
<text transform="translate(316.5,209.50) rotate(0.05)" font-size="6.4" fill="#000">Southern San Juan</text>
<text transform="translate(316.5,216.00) rotate(0.05)" font-size="6.4" fill="#000">Watersheds</text>
<rect x="305.2" y="216.80" width="6.8" height="7.33" fill="#F7FBFF"/>
<text transform="translate(319.3,222.79) rotate(0.05)" font-size="6.35" fill="#000">1. Rio Chama</text>
<rect x="305.2" y="224.08" width="6.8" height="7.33" fill="#DEEBF7"/>
<text transform="translate(319.3,230.07) rotate(0.05)" font-size="6.35" fill="#000">2. San Antonio-Ortiz</text>
<rect x="305.2" y="231.36" width="6.8" height="7.33" fill="#C6DBEF"/>
<text transform="translate(319.3,237.35) rotate(0.05)" font-size="6.35" fill="#000">3. La Jara</text>
<rect x="305.2" y="238.64" width="6.8" height="7.33" fill="#9ECAE1"/>
<text transform="translate(319.3,244.63) rotate(0.05)" font-size="6.35" fill="#000">4. Los Pinos</text>
<rect x="305.2" y="245.92" width="6.8" height="7.33" fill="#6BAED6"/>
<text transform="translate(319.3,251.91) rotate(0.05)" font-size="6.35" fill="#000">5. Saguache Creek</text>
<rect x="305.2" y="253.20" width="6.8" height="7.33" fill="#4292C6"/>
<text transform="translate(319.3,259.19) rotate(0.05)" font-size="6.35" fill="#000">6. Conejos</text>
<rect x="305.2" y="260.48" width="6.8" height="7.33" fill="#2171B5"/>
<text transform="translate(319.3,266.47) rotate(0.05)" font-size="6.35" fill="#000">7. Del Norte</text>
<rect x="305.2" y="267.76" width="6.8" height="7.33" fill="#084594"/>
<text transform="translate(319.3,273.75) rotate(0.05)" font-size="6.35" fill="#000">8. Alamosa</text>
<text transform="translate(316.5,288.00) rotate(0.05)" font-size="6.4" fill="#000">Central Sangre de</text>
<text transform="translate(316.5,294.50) rotate(0.05)" font-size="6.4" fill="#000">Cristo Watersheds</text>
<rect x="305.2" y="295.20" width="6.8" height="7.33" fill="#FEE6CE"/>
<text transform="translate(319.3,301.19) rotate(0.05)" font-size="6.35" fill="#000">9. Embudo Creek</text>
<rect x="305.2" y="302.48" width="6.8" height="7.33" fill="#FDAE6B"/>
<text transform="translate(316.5,308.47) rotate(0.05)" font-size="6.35" fill="#000">10. Santa Cruz</text>
<rect x="305.2" y="309.76" width="6.8" height="7.33" fill="#E6550D"/>
<text transform="translate(316.5,315.75) rotate(0.05)" font-size="6.35" fill="#000">11. Santa Fe River</text>
<text transform="translate(316.5,329.80) rotate(0.05)" font-size="6.4" fill="#000">Southern Sangre de</text>
<text transform="translate(316.5,336.30) rotate(0.05)" font-size="6.4" fill="#000">Cristo Watersheds</text>
<rect x="305.2" y="337.00" width="6.8" height="7.33" fill="#F7FCF5"/>
<text transform="translate(316.5,342.99) rotate(0.05)" font-size="6.35" fill="#000">12. Rio Pueblo de Taos</text>
<rect x="305.2" y="344.28" width="6.8" height="7.33" fill="#E5F5E0"/>
<text transform="translate(316.5,350.27) rotate(0.05)" font-size="6.35" fill="#000">13. Red River</text>
<rect x="305.2" y="351.56" width="6.8" height="7.33" fill="#C7E9C0"/>
<text transform="translate(316.5,357.55) rotate(0.05)" font-size="6.35" fill="#000">14. Culebra</text>
<rect x="305.2" y="358.84" width="6.8" height="7.33" fill="#A1D99B"/>
<text transform="translate(316.5,364.83) rotate(0.05)" font-size="6.35" fill="#000">15. Costilla Creek</text>
<rect x="305.2" y="366.12" width="6.8" height="7.33" fill="#74C476"/>
<text transform="translate(316.5,372.11) rotate(0.05)" font-size="6.35" fill="#000">16. Ute Creek</text>
<rect x="305.2" y="373.40" width="6.8" height="7.33" fill="#41AB5D"/>
<text transform="translate(316.5,379.39) rotate(0.05)" font-size="6.35" fill="#000">17. Rio Hondo</text>
<rect x="305.2" y="380.68" width="6.8" height="7.33" fill="#238B45"/>
<text transform="translate(316.5,386.67) rotate(0.05)" font-size="6.35" fill="#000">18. Trinchera</text>
<rect x="305.2" y="387.96" width="6.8" height="7.33" fill="#005A32"/>
<text transform="translate(316.5,393.95) rotate(0.05)" font-size="6.35" fill="#000">19. Rio Lucero</text>
</svg>
</body></html>
